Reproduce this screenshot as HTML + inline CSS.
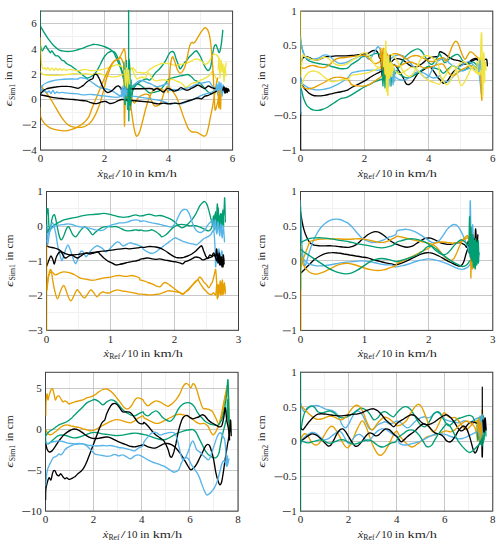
<!DOCTYPE html><html><head><meta charset="utf-8"><style>html,body{margin:0;padding:0;background:#fff;}svg{display:block;}text{font-family:"Liberation Serif",serif;fill:#262626;} </style></head><body>
<svg width="502" height="550" viewBox="0 0 502 550">
<rect width="502" height="550" fill="#fff"/>
<line x1="72.50" y1="11.05" x2="72.50" y2="150.0" stroke="#f1f1f1" stroke-width="1"/>
<line x1="136.50" y1="11.05" x2="136.50" y2="150.0" stroke="#f1f1f1" stroke-width="1"/>
<line x1="200.50" y1="11.05" x2="200.50" y2="150.0" stroke="#f1f1f1" stroke-width="1"/>
<line x1="40.5" y1="137.50" x2="232.6" y2="137.50" stroke="#f1f1f1" stroke-width="1"/>
<line x1="40.5" y1="112.50" x2="232.6" y2="112.50" stroke="#f1f1f1" stroke-width="1"/>
<line x1="40.5" y1="86.50" x2="232.6" y2="86.50" stroke="#f1f1f1" stroke-width="1"/>
<line x1="40.5" y1="61.50" x2="232.6" y2="61.50" stroke="#f1f1f1" stroke-width="1"/>
<line x1="40.5" y1="36.50" x2="232.6" y2="36.50" stroke="#f1f1f1" stroke-width="1"/>
<line x1="40.50" y1="11.05" x2="40.50" y2="150.0" stroke="#c8c8c8" stroke-width="1"/>
<line x1="104.50" y1="11.05" x2="104.50" y2="150.0" stroke="#c8c8c8" stroke-width="1"/>
<line x1="168.50" y1="11.05" x2="168.50" y2="150.0" stroke="#c8c8c8" stroke-width="1"/>
<line x1="232.50" y1="11.05" x2="232.50" y2="150.0" stroke="#c8c8c8" stroke-width="1"/>
<line x1="40.5" y1="150.50" x2="232.6" y2="150.50" stroke="#c8c8c8" stroke-width="1"/>
<line x1="40.5" y1="124.50" x2="232.6" y2="124.50" stroke="#c8c8c8" stroke-width="1"/>
<line x1="40.5" y1="99.50" x2="232.6" y2="99.50" stroke="#c8c8c8" stroke-width="1"/>
<line x1="40.5" y1="74.50" x2="232.6" y2="74.50" stroke="#c8c8c8" stroke-width="1"/>
<line x1="40.5" y1="48.50" x2="232.6" y2="48.50" stroke="#c8c8c8" stroke-width="1"/>
<line x1="40.5" y1="23.50" x2="232.6" y2="23.50" stroke="#c8c8c8" stroke-width="1"/>
<rect x="40.5" y="11.05" width="192.10" height="138.95" fill="none" stroke="#404040" stroke-width="1.0"/>
<clipPath id="c1"><rect x="40.5" y="10.05" width="193.1" height="140.95"/></clipPath>
<g clip-path="url(#c1)" fill="none" stroke-linejoin="round" stroke-linecap="round">
<path d="M40.4,8.0 C40.4,10.8 40.1,21.4 40.4,24.9 C40.7,28.4 41.2,27.4 42.0,28.9 C42.7,30.4 43.8,32.1 45.0,33.9 C46.1,35.7 47.5,37.9 49.0,39.9 C50.5,41.9 52.3,44.2 53.9,45.8 C55.6,47.5 57.3,48.9 58.9,49.8 C60.6,50.7 62.1,51.0 63.9,51.2 C65.7,51.5 67.9,51.6 69.9,51.4 C71.9,51.3 74.0,50.9 75.8,50.4 C77.7,50.0 79.2,49.4 80.8,48.8 C82.5,48.2 84.1,47.5 85.8,46.8 C87.5,46.2 89.3,45.5 90.8,45.1 C92.3,44.6 93.2,44.2 94.8,44.3 C96.4,44.3 98.6,44.9 100.4,45.4 C102.2,45.8 104.0,46.4 105.5,47.0 C107.0,47.6 108.2,48.3 109.3,48.9 C110.4,49.6 111.1,50.2 111.8,50.8 C112.6,51.5 113.1,51.8 113.8,52.7 C114.4,53.7 115.0,55.2 115.7,56.6 C116.3,57.9 116.9,59.5 117.6,61.0 C118.2,62.5 118.9,63.9 119.5,65.5 C120.1,67.1 120.8,68.5 121.4,70.6 C122.0,72.7 122.7,75.7 123.3,78.2 C123.9,80.8 124.7,83.3 125.2,85.9 C125.8,88.4 126.1,91.0 126.5,93.5 C126.9,96.1 127.2,99.9 127.4,101.1" stroke="#009E73" stroke-width="1.35"/>
<path d="M40.6,45.8 C40.8,46.7 41.5,50.3 42.0,50.8 C42.5,51.3 43.0,49.7 43.6,48.8 C44.2,48.0 45.0,46.0 45.6,45.8 C46.1,45.7 46.4,47.0 47.0,47.8 C47.5,48.7 48.4,50.0 49.0,50.8 C49.5,51.7 49.9,52.8 50.4,52.8 C50.8,52.8 51.3,50.7 51.9,50.8 C52.5,51.0 53.3,53.0 53.9,53.8 C54.6,54.6 55.3,55.5 55.9,55.8 C56.6,56.1 57.3,55.5 57.9,55.8 C58.6,56.1 59.2,57.1 59.9,57.8 C60.6,58.5 61.2,59.7 61.9,60.2 C62.6,60.7 63.1,60.2 63.9,60.8 C64.7,61.4 65.7,62.9 66.9,63.8 C68.0,64.6 69.5,64.9 70.9,65.8 C72.2,66.6 73.5,67.8 74.9,68.8 C76.2,69.8 77.5,70.6 78.8,71.7 C80.2,72.8 81.5,74.3 82.8,75.3 C84.1,76.4 86.0,77.6 86.8,78.1 C87.6,78.6 86.9,78.5 87.6,78.2 C88.4,77.9 90.2,77.2 91.5,76.3 C92.7,75.5 94.2,74.3 95.3,73.1 C96.3,72.0 97.0,70.8 97.8,69.3 C98.7,67.8 99.5,65.9 100.4,64.2 C101.2,62.5 102.1,60.6 102.9,59.1 C103.8,57.6 104.6,56.3 105.5,55.3 C106.3,54.2 107.2,53.4 108.0,52.7 C108.9,52.1 109.8,51.7 110.6,51.5 C111.3,51.2 111.8,51.1 112.5,51.2 C113.1,51.3 113.8,51.5 114.4,52.1 C115.0,52.7 115.7,53.5 116.3,54.6 C116.9,55.8 117.6,57.5 118.2,59.1 C118.9,60.7 119.5,62.3 120.1,64.2 C120.8,66.1 121.4,68.2 122.0,70.6 C122.7,72.9 123.4,75.7 123.9,78.2 C124.5,80.8 124.9,83.3 125.2,85.9 C125.6,88.4 125.9,91.2 126.1,93.5 C126.3,95.8 126.5,98.8 126.6,99.9" stroke="#009E73" stroke-width="1.35"/>
<path d="M130.0,110.0 C130.2,108.0 131.0,101.3 131.5,98.0 C132.0,94.7 132.2,92.2 133.0,90.0 C133.8,87.8 135.0,86.2 136.0,85.0 C137.0,83.8 137.7,83.4 139.0,82.5 C140.3,81.6 142.7,80.1 144.0,79.5 C145.3,78.9 146.0,78.9 147.0,79.0 C148.0,79.1 148.6,81.0 150.0,80.0 C151.4,79.0 153.4,75.1 155.1,73.1 C156.9,71.1 158.6,70.0 160.3,68.0 C162.0,66.0 164.0,63.4 165.4,61.1 C166.8,58.8 167.8,55.8 168.8,54.3 C169.8,52.7 170.6,52.0 171.4,51.7 C172.3,51.4 173.3,51.6 174.0,52.6 C174.7,53.6 175.0,55.7 175.7,57.7 C176.4,59.7 177.6,62.7 178.3,64.5 C179.0,66.4 179.4,68.4 180.0,68.8 C180.6,69.3 181.0,68.1 181.7,67.1 C182.4,66.1 183.4,64.0 184.3,62.8 C185.1,61.7 186.0,61.3 186.8,60.3 C187.7,59.3 188.4,58.0 189.4,56.8 C190.4,55.7 191.7,54.4 192.8,53.4 C193.9,52.4 195.1,51.0 195.9,50.8 C196.8,50.7 197.2,51.6 198.0,52.6 C198.7,53.6 199.7,55.1 200.5,56.8 C201.4,58.5 202.3,61.0 203.1,62.8 C204.0,64.7 204.8,66.7 205.7,68.0 C206.5,69.3 207.4,70.8 208.2,70.5 C209.1,70.3 210.1,69.0 210.8,66.3 C211.5,63.5 212.0,57.5 212.5,54.3 C213.1,51.0 213.7,48.1 214.2,46.6 C214.8,45.0 215.4,44.4 216.0,44.8 C216.5,45.3 217.1,47.8 217.7,49.1 C218.2,50.4 218.8,53.1 219.4,52.6 C220.0,52.0 220.6,48.6 221.1,45.7 C221.6,42.8 222.0,38.0 222.3,35.4 C222.6,32.8 222.7,31.1 222.8,30.3" stroke="#009E73" stroke-width="1.35"/>
<path d="M131.0,103.0 C131.3,100.3 132.3,90.0 133.0,87.0 C133.7,84.0 134.2,85.5 135.0,85.0 C135.8,84.5 137.0,83.9 138.0,84.0 C139.0,84.1 140.0,84.8 141.0,85.5 C142.0,86.2 143.0,87.1 144.0,88.0 C145.0,88.9 146.0,90.2 147.0,91.0 C148.0,91.8 148.6,92.8 150.0,93.0 C151.4,93.2 153.4,92.4 155.1,92.0 C156.9,91.5 158.6,91.7 160.3,90.2 C162.0,88.8 164.0,85.2 165.4,83.4 C166.8,81.5 167.4,80.1 168.8,79.1 C170.3,78.1 172.3,77.9 174.0,77.4 C175.7,76.9 177.4,76.6 179.1,76.2 C180.8,75.8 182.8,75.5 184.3,75.2 C185.7,74.9 186.5,74.3 187.7,74.5 C188.8,74.7 190.0,75.6 191.1,76.5 C192.3,77.4 193.4,79.1 194.5,80.0 C195.7,80.8 196.8,81.0 198.0,81.7 C199.1,82.4 200.3,83.1 201.4,84.2 C202.5,85.4 203.7,87.2 204.8,88.5 C206.0,89.8 207.1,91.1 208.2,92.0 C209.4,92.8 210.5,93.7 211.7,93.7 C212.8,93.7 214.0,92.5 215.1,92.0 C216.2,91.4 218.0,90.5 218.5,90.2" stroke="#009E73" stroke-width="1.35"/>
<path d="M40.4,37.9 C40.5,40.5 40.6,49.5 40.8,53.8 C41.0,58.1 41.3,61.5 41.6,63.8 C41.9,66.1 42.1,66.9 42.4,67.8 C42.7,68.6 43.1,68.8 43.6,68.8 C44.0,68.8 44.5,67.6 45.0,67.8 C45.4,67.9 45.9,69.8 46.4,69.8 C46.9,69.7 47.4,67.3 48.0,67.4 C48.6,67.4 49.3,70.1 50.0,70.2 C50.6,70.2 51.3,67.8 51.9,67.8 C52.6,67.8 53.3,70.1 53.9,70.2 C54.6,70.2 55.3,68.2 55.9,68.2 C56.6,68.2 57.3,70.1 57.9,70.2 C58.6,70.2 59.2,68.4 59.9,68.4 C60.6,68.4 61.2,70.1 61.9,70.2 C62.6,70.2 63.2,68.8 63.9,68.8 C64.6,68.8 64.9,70.1 65.9,70.2 C66.9,70.3 68.5,69.4 69.9,69.4 C71.2,69.4 72.4,69.9 73.9,70.2 C75.4,70.4 77.0,70.9 78.8,70.7 C80.7,70.6 83.2,69.3 85.1,69.3 C87.0,69.3 88.5,70.4 90.2,70.6 C91.9,70.8 93.6,70.7 95.3,70.6 C97.0,70.5 98.7,70.3 100.4,69.9 C102.1,69.6 103.8,69.2 105.5,68.7 C107.2,68.1 109.1,67.3 110.6,66.8 C112.1,66.2 113.1,65.8 114.4,65.5 C115.7,65.2 116.9,64.6 118.2,64.8 C119.5,65.1 121.0,66.2 122.0,66.8 C123.1,67.3 123.7,67.6 124.6,68.0 C125.4,68.5 126.1,69.1 127.1,69.3 C128.2,69.5 130.0,69.2 131.0,69.0 C132.0,68.8 132.3,67.8 133.0,68.0 C133.7,68.2 134.3,69.2 135.0,70.0 C135.7,70.8 136.2,72.1 137.0,72.5 C137.8,72.9 138.8,72.4 140.0,72.5 C141.2,72.6 142.8,73.1 144.0,73.0 C145.2,72.9 146.2,72.5 147.0,72.0 C147.8,71.5 148.2,70.7 149.0,70.0 C149.8,69.3 151.0,68.6 152.0,68.0 C153.0,67.4 154.0,66.7 155.0,66.2 C156.0,65.7 156.8,65.5 158.0,65.0 C159.2,64.5 160.2,63.7 162.0,63.5 C163.8,63.3 167.4,63.4 168.8,63.5 C170.3,63.6 169.4,63.9 170.6,64.2 C171.7,64.5 174.1,65.3 175.7,65.4 C177.3,65.5 178.6,64.8 180.0,64.5 C181.4,64.3 183.0,64.0 184.3,63.7 C185.5,63.4 186.5,63.3 187.7,62.8 C188.8,62.4 190.0,61.7 191.1,61.1 C192.3,60.5 193.4,59.7 194.5,59.4 C195.7,59.1 196.8,58.8 198.0,59.1 C199.1,59.3 200.3,60.3 201.4,61.1 C202.5,62.0 203.7,63.9 204.8,64.2 C206.0,64.5 207.2,63.8 208.2,62.8 C209.2,61.9 210.1,59.8 210.8,58.5 C211.5,57.3 211.8,55.8 212.5,55.1 C213.2,54.4 214.2,54.1 215.1,54.3 C216.0,54.4 216.8,54.8 217.7,56.0 C218.5,57.1 219.5,59.4 220.2,61.1 C221.0,62.8 221.4,64.5 222.0,66.3 C222.5,68.0 223.1,71.1 223.7,71.4 C224.2,71.7 225.0,69.4 225.4,68.0 C225.8,66.5 226.1,63.7 226.2,62.8" stroke="#F0E442" stroke-width="1.35"/>
<path d="M40.4,71.7 C41.0,72.2 42.4,74.1 44.0,74.7 C45.6,75.3 47.6,75.2 50.0,75.3 C52.3,75.4 55.3,75.4 57.9,75.3 C60.6,75.2 63.2,75.0 65.9,74.7 C68.5,74.5 71.4,73.8 73.9,73.7 C76.3,73.6 78.7,74.1 80.8,74.1 C82.9,74.1 84.4,73.7 86.4,73.8 C88.4,73.8 90.6,74.5 92.7,74.4 C94.9,74.3 97.0,73.2 99.1,73.4 C101.2,73.6 103.4,75.1 105.5,75.7 C107.6,76.3 109.7,76.8 111.8,76.9 C114.0,77.0 116.3,76.7 118.2,76.3 C120.1,75.9 122.0,74.6 123.3,74.4 C124.6,74.2 124.5,76.1 125.9,75.0 C127.2,74.0 130.3,68.7 131.5,68.0 C132.7,67.3 132.4,69.7 133.0,71.0 C133.6,72.3 134.3,74.7 135.0,76.0 C135.7,77.3 136.3,78.7 137.0,79.0 C137.7,79.3 138.2,78.3 139.0,78.0 C139.8,77.7 141.0,77.0 142.0,77.0 C143.0,77.0 144.0,78.7 145.0,78.0 C146.0,77.3 147.2,73.5 148.0,73.0 C148.8,72.5 149.3,74.2 150.0,75.0 C150.7,75.8 151.3,77.2 152.0,78.0 C152.7,78.8 153.3,79.5 154.0,80.0 C154.7,80.5 155.0,81.0 156.0,81.0 C157.0,81.0 158.7,80.1 160.3,80.0 C161.8,79.8 164.0,79.8 165.4,80.0 C166.8,80.1 167.7,81.0 168.8,80.8 C170.0,80.7 171.1,79.1 172.3,79.1 C173.4,79.1 174.4,80.2 175.7,80.8 C177.0,81.4 178.7,81.8 180.0,82.5 C181.3,83.2 182.4,84.2 183.4,85.1 C184.4,86.0 185.0,87.7 186.0,87.7 C187.0,87.7 188.3,85.9 189.4,85.1 C190.5,84.3 191.7,83.5 192.8,83.0 C194.0,82.6 195.1,82.9 196.3,82.5 C197.4,82.2 198.5,81.4 199.7,80.8 C200.8,80.2 202.0,79.7 203.1,79.1 C204.3,78.5 205.4,78.1 206.5,77.4 C207.7,76.7 209.0,75.8 210.0,74.8 C211.0,73.8 211.7,71.1 212.5,71.4 C213.4,71.7 214.2,74.8 215.1,76.5 C216.0,78.2 217.2,80.8 217.7,81.7" stroke="#F0E442" stroke-width="1.35"/>
<path d="M40.4,107.9 C40.4,109.2 39.8,113.4 40.4,115.8 C41.0,118.3 42.4,120.8 44.0,122.8 C45.6,124.8 47.6,126.6 50.0,127.8 C52.3,129.0 55.3,129.7 57.9,130.2 C60.6,130.7 63.6,130.9 65.9,130.8 C68.2,130.7 69.9,130.1 71.9,129.4 C73.9,128.7 75.8,127.9 77.8,126.8 C79.8,125.7 82.0,124.5 83.8,122.8 C85.6,121.2 87.5,119.0 88.8,116.8 C90.1,114.7 90.3,112.7 91.4,109.9 C92.5,107.1 94.0,103.2 95.4,99.9 C96.7,96.6 98.3,92.9 99.6,90.0 C100.8,87.0 101.7,84.8 102.9,82.0 C104.1,79.2 105.5,75.9 106.8,73.1 C108.0,70.4 109.3,67.5 110.6,65.5 C111.8,63.5 113.1,62.1 114.4,61.0 C115.7,60.0 117.2,60.1 118.2,59.1 C119.3,58.2 119.9,56.8 120.8,55.3 C121.6,53.8 122.7,51.3 123.3,50.2 C123.9,49.1 124.0,48.5 124.3,48.9 C124.6,49.3 124.9,50.0 125.2,52.7 C125.5,55.5 125.8,60.2 126.1,65.5 C126.4,70.8 126.7,79.3 126.9,84.6 C127.1,89.9 127.3,95.2 127.4,97.3" stroke="#E69F00" stroke-width="1.35"/>
<path d="M41.0,86.0 C41.5,86.6 42.5,88.0 44.0,90.0 C45.5,91.9 48.0,94.9 50.0,97.9 C51.9,100.9 53.9,104.6 55.9,107.9 C57.9,111.2 59.9,115.0 61.9,117.8 C63.9,120.7 66.1,123.3 67.9,124.8 C69.7,126.3 71.2,126.4 72.9,126.8 C74.5,127.2 76.0,127.4 77.8,127.4 C79.7,127.4 82.2,127.2 83.8,126.8 C85.5,126.4 86.5,125.8 87.8,124.8 C89.1,123.8 90.5,122.7 91.8,120.8 C93.1,119.0 94.4,116.7 95.8,113.9 C97.1,111.0 98.6,107.2 99.8,103.9 C100.9,100.6 101.9,96.9 102.7,93.9 C103.6,90.9 104.1,88.6 104.7,86.0 C105.4,83.3 105.8,81.1 106.7,78.0 C107.7,74.9 109.6,69.8 110.6,67.4 C111.5,65.0 111.7,64.7 112.5,63.6 C113.2,62.4 114.1,61.1 115.0,60.4 C116.0,59.6 117.3,59.5 118.2,59.1 C119.2,58.7 120.0,57.4 120.8,57.8 C121.5,58.3 122.1,60.0 122.7,61.7 C123.2,63.4 123.7,61.8 123.9,68.0 C124.2,74.2 124.0,89.3 124.1,98.9 C124.2,108.6 124.3,125.0 124.5,126.1 C124.6,127.3 124.8,111.4 125.0,105.9 C125.3,100.5 126.0,95.5 126.2,93.4" stroke="#E69F00" stroke-width="1.35"/>
<path d="M128.9,93.4 C129.2,94.5 129.9,97.1 130.3,100.3 C130.8,103.6 131.2,108.5 131.7,112.9 C132.3,117.3 133.1,123.1 133.8,126.8 C134.5,130.6 135.3,133.7 135.9,135.2 C136.5,136.7 136.7,136.4 137.3,135.9 C137.9,135.4 138.7,134.2 139.4,132.4 C140.1,130.7 140.8,128.0 141.5,125.4 C142.2,122.9 142.9,119.9 143.6,117.1 C144.3,114.3 145.0,111.3 145.7,108.7 C146.4,106.2 147.2,103.6 147.8,101.7 C148.4,99.9 148.7,98.7 149.2,97.6 C149.6,96.4 150.1,95.7 150.6,94.8 C151.0,93.8 151.4,92.9 152.0,92.0 C152.5,91.0 153.2,89.9 154.1,89.2 C154.9,88.5 155.9,87.9 156.8,87.8 C157.8,87.7 158.7,88.1 159.6,88.5 C160.6,88.8 161.6,89.5 162.4,89.9 C163.2,90.2 163.8,90.7 164.5,90.6 C165.2,90.5 165.9,89.0 166.6,89.2 C167.3,89.4 168.0,94.3 168.5,92.0 C169.0,89.6 169.4,79.4 169.7,74.8 C170.0,70.3 170.1,67.5 170.6,64.5 C171.0,61.5 171.7,57.7 172.3,56.8 C172.8,56.0 173.4,58.1 174.0,59.4 C174.6,60.7 175.1,62.8 175.7,64.5 C176.3,66.3 176.7,68.3 177.4,69.7 C178.1,71.1 179.1,72.8 180.0,73.1 C180.8,73.4 181.7,72.5 182.6,71.4 C183.4,70.3 184.4,68.3 185.1,66.3 C185.8,64.3 186.3,62.0 186.8,59.4 C187.4,56.8 188.0,53.4 188.5,50.8 C189.1,48.3 189.7,45.4 190.3,44.0 C190.8,42.6 191.4,42.4 192.0,42.3 C192.5,42.1 193.1,43.3 193.7,43.1 C194.3,43.0 194.7,42.4 195.4,41.4 C196.1,40.4 197.1,38.6 198.0,37.1 C198.8,35.7 199.7,34.1 200.5,32.8 C201.4,31.6 202.3,30.3 203.1,29.4 C203.9,28.6 204.5,27.7 205.2,27.7 C205.9,27.7 206.7,28.4 207.4,29.4 C208.0,30.4 208.5,31.3 209.1,33.7 C209.7,36.1 210.3,40.0 210.8,44.0 C211.3,48.0 211.6,53.1 212.0,57.7 C212.4,62.3 212.8,66.8 213.0,71.4 C213.3,76.0 213.5,80.5 213.7,85.1 C214.0,89.7 214.2,94.7 214.4,98.8 C214.6,102.9 214.7,108.8 215.1,109.9 C215.5,111.1 216.1,107.9 216.7,105.9 C217.3,103.9 218.1,100.6 218.7,97.9 C219.3,95.3 219.9,91.9 220.3,90.0 C220.7,88.0 220.9,86.6 221.1,86.0" stroke="#E69F00" stroke-width="1.35"/>
<path d="M129.6,92.0 C130.1,93.4 131.6,98.5 132.4,100.3 C133.2,102.2 133.7,103.4 134.5,103.1 C135.3,102.9 136.4,100.1 137.3,98.9 C138.2,97.8 139.2,96.9 140.1,96.2 C141.0,95.5 142.0,95.1 142.9,94.8 C143.8,94.4 144.8,94.1 145.7,94.1 C146.6,94.1 147.7,94.1 148.5,94.8 C149.3,95.5 149.9,96.9 150.6,98.2 C151.3,99.6 152.0,101.9 152.7,103.1 C153.4,104.4 154.1,105.5 154.7,105.9 C155.4,106.4 156.0,106.2 156.8,105.9 C157.7,105.7 158.8,105.5 159.6,104.5 C160.4,103.6 161.0,102.2 161.7,100.3 C162.4,98.5 163.1,95.3 163.8,93.4 C164.5,91.4 165.2,89.6 165.9,88.5 C166.6,87.3 167.2,86.3 168.0,86.4 C168.8,86.5 169.9,87.9 170.9,89.0 C171.8,90.0 172.8,91.4 173.8,92.9 C174.8,94.4 175.8,95.8 176.8,97.9 C177.8,100.1 178.8,103.1 179.8,105.9 C180.8,108.7 181.8,112.0 182.8,114.9 C183.8,117.7 184.8,120.4 185.8,122.8 C186.8,125.2 187.8,127.9 188.8,129.4 C189.8,130.9 190.6,131.3 191.8,131.8 C192.9,132.2 194.4,131.9 195.8,132.2 C197.1,132.5 198.4,133.1 199.7,133.8 C201.1,134.4 202.6,136.0 203.7,136.2 C204.8,136.3 205.6,136.2 206.3,134.8 C207.1,133.4 207.6,130.6 208.3,127.8 C209.0,125.0 209.6,121.5 210.3,117.8 C211.0,114.2 212.0,109.9 212.7,105.9 C213.4,101.9 214.0,97.9 214.7,93.9 C215.3,90.0 216.2,84.6 216.7,82.0 C217.2,79.3 217.5,78.7 217.7,78.0" stroke="#E69F00" stroke-width="1.35"/>
<path d="M40.4,90.0 C40.7,89.3 41.1,87.1 42.0,86.0 C42.9,84.8 44.3,83.8 46.0,83.0 C47.6,82.2 49.6,81.6 51.9,81.0 C54.3,80.4 57.3,79.9 59.9,79.6 C62.6,79.3 64.9,79.1 67.9,79.0 C70.9,78.9 75.8,79.2 77.8,79.0 C79.9,78.8 79.0,77.7 80.0,77.6 C81.0,77.4 82.5,77.9 83.8,78.2 C85.1,78.5 86.4,78.9 87.6,79.5 C88.9,80.1 90.2,81.2 91.5,82.0 C92.7,82.9 94.0,83.7 95.3,84.6 C96.6,85.4 97.8,86.5 99.1,87.1 C100.4,87.8 101.7,88.1 102.9,88.4 C104.2,88.7 105.5,88.7 106.8,89.0 C108.0,89.4 109.3,89.8 110.6,90.3 C111.8,90.8 113.1,91.5 114.4,92.2 C115.7,93.0 116.9,94.1 118.2,94.8 C119.5,95.4 120.2,96.8 122.0,96.1 C123.8,95.3 127.3,91.7 129.0,90.0 C130.7,88.3 131.0,87.0 132.0,86.0 C133.0,85.0 134.0,84.8 135.0,84.0 C136.0,83.2 137.0,82.1 138.0,81.5 C139.0,80.9 140.0,80.6 141.0,80.5 C142.0,80.4 143.0,80.7 144.0,81.0 C145.0,81.3 146.0,82.1 147.0,82.5 C148.0,82.9 149.0,83.1 150.0,83.5 C151.0,83.9 152.0,84.5 153.0,85.0 C154.0,85.5 155.0,86.2 156.0,86.5 C157.0,86.8 158.0,86.7 159.0,86.5 C160.0,86.3 161.0,85.8 162.0,85.5 C163.0,85.2 164.0,84.8 165.0,84.5 C166.0,84.2 167.4,82.5 168.0,83.5 C168.6,84.5 167.8,89.3 168.8,90.2 C169.8,91.2 172.3,89.4 174.0,89.4 C175.7,89.4 177.4,90.4 179.1,90.2 C180.8,90.1 182.6,89.0 184.3,88.5 C186.0,88.1 187.7,88.2 189.4,87.7 C191.1,87.1 192.8,85.8 194.5,85.1 C196.3,84.4 198.0,83.8 199.7,83.4 C201.4,83.0 203.3,82.8 204.8,82.5 C206.4,82.2 208.0,81.2 209.1,81.7 C210.2,82.1 210.8,84.0 211.7,85.1 C212.5,86.2 213.4,88.1 214.2,88.5 C215.1,89.0 215.8,88.0 216.8,87.7 C217.8,87.4 219.1,86.7 220.2,86.8 C221.4,87.0 223.1,88.2 223.7,88.5" stroke="#56B4E9" stroke-width="1.35"/>
<path d="M40.4,91.9 C40.7,91.4 41.5,89.0 42.0,89.0 C42.5,89.0 43.1,91.8 43.6,91.9 C44.1,92.1 44.4,89.8 45.0,90.0 C45.5,90.1 46.3,92.8 47.0,92.9 C47.6,93.1 48.3,90.8 49.0,90.9 C49.6,91.0 50.3,93.6 50.9,93.5 C51.6,93.4 52.3,90.4 52.9,90.4 C53.6,90.4 54.3,93.3 54.9,93.5 C55.6,93.8 56.3,92.0 56.9,91.9 C57.6,91.8 58.1,92.9 58.9,92.9 C59.7,93.0 60.7,92.3 61.9,92.3 C63.1,92.3 64.2,92.7 65.9,92.9 C67.5,93.1 69.9,93.4 71.9,93.5 C73.9,93.7 75.8,93.7 77.8,93.9 C79.8,94.2 81.8,94.9 83.8,94.9 C85.8,95.0 87.8,94.3 89.8,94.3 C91.8,94.3 94.1,94.7 95.8,94.9 C97.4,95.1 98.4,95.4 99.8,95.5 C101.1,95.7 102.4,95.8 103.7,95.9 C105.1,96.1 106.4,96.2 107.7,96.3 C109.0,96.5 110.4,96.8 111.7,96.9 C113.0,97.1 114.4,97.3 115.7,97.3 C117.0,97.3 118.5,97.3 119.7,96.9 C120.8,96.5 117.6,94.6 122.7,94.9 C127.7,95.2 144.6,98.0 150.0,98.8 C155.4,99.6 153.4,99.4 155.1,99.7 C156.9,99.9 158.6,100.1 160.3,100.5 C162.0,100.9 163.7,101.7 165.4,102.2 C167.1,102.8 168.8,103.8 170.6,103.9 C172.3,104.1 174.0,103.1 175.7,103.1 C177.4,103.1 179.1,104.1 180.8,103.9 C182.6,103.8 184.3,102.8 186.0,102.2 C187.7,101.7 189.4,101.2 191.1,100.5 C192.8,99.8 194.5,98.8 196.3,98.0 C198.0,97.1 199.7,96.1 201.4,95.4 C203.1,94.7 204.8,94.2 206.5,93.7 C208.2,93.1 210.0,92.7 211.7,92.0 C213.4,91.2 215.4,90.0 216.8,89.4 C218.2,88.8 219.2,88.8 220.2,88.5 C221.2,88.2 222.4,87.8 222.8,87.7" stroke="#56B4E9" stroke-width="1.35"/>
<path d="M40.4,93.9 C40.8,93.4 42.1,91.8 43.0,90.9 C43.9,90.1 44.8,89.5 46.0,89.0 C47.1,88.5 48.3,88.3 50.0,88.0 C51.6,87.6 53.9,87.2 55.9,87.0 C57.9,86.7 59.9,86.5 61.9,86.4 C63.9,86.3 65.9,86.2 67.9,86.4 C69.9,86.5 72.2,87.0 73.9,87.4 C75.5,87.7 76.7,88.4 77.8,88.4 C79.0,88.3 79.8,87.5 80.8,87.0 C81.8,86.4 82.8,85.8 83.8,85.0 C84.8,84.1 85.8,82.8 86.8,82.0 C87.8,81.2 88.8,80.6 89.8,80.0 C90.8,79.4 92.1,79.4 92.8,78.6 C93.5,77.8 93.4,75.7 94.0,75.0 C94.6,74.3 95.7,73.9 96.6,74.4 C97.4,74.9 98.3,76.5 99.1,78.2 C100.0,79.9 100.8,82.7 101.7,84.6 C102.5,86.5 103.4,88.4 104.2,89.7 C105.1,91.0 105.9,91.8 106.8,92.2 C107.6,92.7 108.2,92.7 109.3,92.2 C110.4,91.8 112.1,90.5 113.1,89.7 C114.2,88.8 114.8,87.8 115.7,87.1 C116.5,86.5 117.4,85.8 118.2,85.9 C119.1,86.0 119.9,87.2 120.8,87.8 C121.6,88.3 118.4,88.9 123.3,89.0 C128.2,89.2 145.0,88.3 150.0,88.5 C155.0,88.7 152.3,90.2 153.4,90.2 C154.6,90.2 155.7,88.5 156.9,88.5 C158.0,88.5 159.1,89.7 160.3,90.2 C161.4,90.8 162.6,92.2 163.7,92.0 C164.8,91.7 166.0,89.0 167.1,88.5 C168.3,88.1 169.4,89.0 170.6,89.4 C171.7,89.8 172.8,91.0 174.0,91.1 C175.1,91.2 176.3,90.8 177.4,90.2 C178.6,89.7 179.7,87.8 180.8,87.7 C182.0,87.5 183.1,89.0 184.3,89.4 C185.4,89.8 186.5,90.4 187.7,90.2 C188.8,90.1 190.0,89.1 191.1,88.5 C192.3,88.0 193.4,87.4 194.5,86.8 C195.7,86.2 196.8,85.1 198.0,85.1 C199.1,85.1 200.3,86.2 201.4,86.8 C202.5,87.4 203.7,88.7 204.8,88.5 C206.0,88.4 207.1,86.1 208.2,86.0 C209.4,85.8 210.5,87.2 211.7,87.7 C212.8,88.1 214.0,88.5 215.1,88.5 C216.2,88.5 217.4,87.7 218.5,87.7 C219.7,87.7 220.8,88.2 222.0,88.5 C223.1,88.8 224.4,89.1 225.4,89.4 C226.4,89.7 227.5,90.1 228.0,90.2" stroke="#000000" stroke-width="1.35"/>
<path d="M40.4,94.9 C41.0,95.0 42.4,95.2 44.0,95.5 C45.6,95.9 48.0,96.5 50.0,96.9 C51.9,97.3 53.9,97.7 55.9,97.9 C57.9,98.2 59.9,98.3 61.9,98.5 C63.9,98.7 65.9,98.9 67.9,99.1 C69.9,99.3 71.9,99.3 73.9,99.5 C75.8,99.7 77.8,100.1 79.8,100.3 C81.8,100.5 84.1,100.6 85.8,100.9 C87.5,101.2 88.5,101.9 89.8,102.3 C91.1,102.7 92.4,103.3 93.8,103.5 C95.1,103.7 96.4,103.6 97.8,103.3 C99.1,103.0 100.4,102.2 101.7,101.9 C103.1,101.6 104.4,101.2 105.7,101.5 C107.1,101.8 108.4,103.3 109.7,103.5 C111.0,103.7 112.4,103.3 113.7,102.9 C115.0,102.5 116.4,101.5 117.7,100.9 C119.0,100.3 120.3,99.7 121.7,99.5 C123.0,99.3 120.9,99.5 125.6,99.9 C130.4,100.4 145.4,101.7 150.0,102.2 C154.6,102.8 152.0,102.8 153.4,103.1 C154.9,103.4 156.9,103.9 158.6,103.9 C160.3,103.9 162.0,103.1 163.7,103.1 C165.4,103.1 167.1,103.9 168.8,103.9 C170.6,103.9 172.3,103.1 174.0,103.1 C175.7,103.0 177.4,103.7 179.1,103.6 C180.8,103.5 182.6,102.7 184.3,102.2 C186.0,101.7 187.7,101.1 189.4,100.5 C191.1,99.9 193.1,99.2 194.5,98.8 C196.0,98.4 196.8,98.0 198.0,98.0 C199.1,98.0 200.3,99.1 201.4,98.8 C202.5,98.5 203.7,96.8 204.8,96.2 C206.0,95.7 207.1,95.8 208.2,95.4 C209.4,95.0 210.5,94.2 211.7,93.7 C212.8,93.1 214.0,92.5 215.1,92.0 C216.2,91.4 217.4,90.7 218.5,90.2 C219.7,89.8 220.8,89.7 222.0,89.4 C223.1,89.1 224.4,88.5 225.4,88.5 C226.4,88.5 227.5,89.2 228.0,89.4" stroke="#000000" stroke-width="1.35"/>
<path d="M128.6,5.0 C128.6,24.2 128.7,110.8 128.8,120.0 C128.9,129.2 129.0,62.5 129.2,60.0 C129.4,57.5 129.9,97.5 130.0,105.0" stroke="#009E73" stroke-width="1.35"/>
<path d="M124.0,62.0 C124.2,69.2 124.6,105.3 125.0,105.0 C125.4,104.7 126.1,59.2 126.5,60.0 C126.9,60.8 127.0,109.7 127.5,110.0 C128.0,110.3 129.0,62.7 129.5,62.0 C130.0,61.3 130.2,103.0 130.5,106.0 C130.8,109.0 131.3,84.3 131.5,80.0" stroke="#009E73" stroke-width="1.0"/>
<path d="M124.5,70.0 C124.7,72.7 125.2,86.3 125.5,86.0 C125.8,85.7 126.2,67.7 126.5,68.0 C126.8,68.3 127.2,87.7 127.5,88.0 C127.8,88.3 128.2,70.7 128.5,70.0 C128.8,69.3 129.3,81.7 129.5,84.0" stroke="#F0E442" stroke-width="1.2"/>
<path d="M121.0,88.0 C121.2,89.5 121.7,97.3 122.0,97.0 C122.3,96.7 122.7,85.7 123.0,86.0 C123.3,86.3 123.7,98.8 124.0,99.0 C124.3,99.2 124.7,87.5 125.0,87.0 C125.3,86.5 125.7,95.8 126.0,96.0 C126.3,96.2 126.8,89.3 127.0,88.0" stroke="#56B4E9" stroke-width="1.2"/>
<path d="M216.0,90.0 C216.2,89.0 216.7,83.2 217.0,84.0 C217.3,84.8 217.7,95.3 218.0,95.0 C218.3,94.7 218.7,82.2 219.0,82.0 C219.3,81.8 219.7,93.8 220.0,94.0 C220.3,94.2 220.7,82.7 221.0,83.0 C221.3,83.3 221.7,95.7 222.0,96.0 C222.3,96.3 222.7,85.7 223.0,85.0 C223.3,84.3 223.8,90.8 224.0,92.0" stroke="#56B4E9" stroke-width="1.4"/>
<path d="M223.0,90.0 C223.2,89.5 223.7,86.5 224.0,87.0 C224.3,87.5 224.7,92.8 225.0,93.0 C225.3,93.2 225.7,88.1 226.0,88.0 C226.3,87.9 226.7,92.3 227.0,92.5 C227.3,92.7 227.7,89.2 228.0,89.0 C228.3,88.8 228.8,90.7 229.0,91.0" stroke="#000000" stroke-width="1.6"/>
<path d="M218.0,70.0 C218.2,68.0 218.7,56.7 219.0,58.0 C219.3,59.3 219.7,77.7 220.0,78.0 C220.3,78.3 220.7,61.0 221.0,60.0 C221.3,59.0 221.7,71.3 222.0,72.0 C222.3,72.7 222.7,62.3 223.0,64.0 C223.3,65.7 223.7,81.7 224.0,82.0 C224.3,82.3 224.7,67.0 225.0,66.0 C225.3,65.0 225.8,74.3 226.0,76.0" stroke="#F0E442" stroke-width="1.2"/>
<path d="M218.0,92.0 C218.2,94.7 218.7,108.3 219.0,108.0 C219.3,107.7 219.8,89.8 220.0,90.0 C220.2,90.2 220.3,108.2 220.5,109.0 C220.7,109.8 220.9,97.3 221.0,95.0" stroke="#E69F00" stroke-width="1.3"/>
</g>
<text class="t" x="40.50" y="162.20" font-size="11" text-anchor="middle">0</text>
<text class="t" x="104.53" y="162.20" font-size="11" text-anchor="middle">2</text>
<text class="t" x="168.57" y="162.20" font-size="11" text-anchor="middle">4</text>
<text class="t" x="232.60" y="162.20" font-size="11" text-anchor="middle">6</text>
<text class="t" x="36.80" y="153.70" font-size="11" text-anchor="end">4</text>
<line x1="22.80" y1="150.40" x2="30.80" y2="150.40" stroke="#262626" stroke-width="0.75"/>
<text class="t" x="36.80" y="128.44" font-size="11" text-anchor="end">2</text>
<line x1="22.80" y1="125.14" x2="30.80" y2="125.14" stroke="#262626" stroke-width="0.75"/>
<text class="t" x="36.80" y="103.17" font-size="11" text-anchor="end">0</text>
<text class="t" x="36.80" y="77.91" font-size="11" text-anchor="end">2</text>
<text class="t" x="36.80" y="52.65" font-size="11" text-anchor="end">4</text>
<text class="t" x="36.80" y="27.38" font-size="11" text-anchor="end">6</text>
<text x="97.55" y="176.60" font-size="10.5" font-style="italic" textLength="5.6" lengthAdjust="spacingAndGlyphs">&#7819;</text>
<text x="103.25" y="178.90" font-size="7.6" textLength="11.2" lengthAdjust="spacingAndGlyphs">Ref</text>
<text x="115.45" y="176.60" font-size="10.5" textLength="4.8" lengthAdjust="spacingAndGlyphs">/</text>
<text x="121.25" y="176.60" font-size="10.5" textLength="11.0" lengthAdjust="spacingAndGlyphs">10</text>
<text x="134.75" y="176.60" font-size="10.5" textLength="9.6" lengthAdjust="spacingAndGlyphs">in</text>
<text x="147.45" y="176.60" font-size="10.5" textLength="29.4" lengthAdjust="spacingAndGlyphs">km/h</text>
<g transform="translate(12.2,106.43) rotate(-90)"><text x="-0.2" y="0" font-size="10.5" font-style="italic" textLength="5.8" lengthAdjust="spacingAndGlyphs">&#1013;</text><text x="6.4" y="2.4" font-size="8.2" textLength="16.2" lengthAdjust="spacingAndGlyphs">Sim1</text><text x="26.4" y="0" font-size="10.5" textLength="8.6" lengthAdjust="spacingAndGlyphs">in</text><text x="38.3" y="0" font-size="10.5" textLength="14.0" lengthAdjust="spacingAndGlyphs">cm</text></g>
<line x1="332.50" y1="11.05" x2="332.50" y2="150.0" stroke="#f1f1f1" stroke-width="1"/>
<line x1="396.50" y1="11.05" x2="396.50" y2="150.0" stroke="#f1f1f1" stroke-width="1"/>
<line x1="460.50" y1="11.05" x2="460.50" y2="150.0" stroke="#f1f1f1" stroke-width="1"/>
<line x1="300.5" y1="132.50" x2="492.8" y2="132.50" stroke="#f1f1f1" stroke-width="1"/>
<line x1="300.5" y1="97.50" x2="492.8" y2="97.50" stroke="#f1f1f1" stroke-width="1"/>
<line x1="300.5" y1="63.50" x2="492.8" y2="63.50" stroke="#f1f1f1" stroke-width="1"/>
<line x1="300.5" y1="28.50" x2="492.8" y2="28.50" stroke="#f1f1f1" stroke-width="1"/>
<line x1="300.50" y1="11.05" x2="300.50" y2="150.0" stroke="#c8c8c8" stroke-width="1"/>
<line x1="364.50" y1="11.05" x2="364.50" y2="150.0" stroke="#c8c8c8" stroke-width="1"/>
<line x1="428.50" y1="11.05" x2="428.50" y2="150.0" stroke="#c8c8c8" stroke-width="1"/>
<line x1="492.50" y1="11.05" x2="492.50" y2="150.0" stroke="#c8c8c8" stroke-width="1"/>
<line x1="300.5" y1="150.50" x2="492.8" y2="150.50" stroke="#c8c8c8" stroke-width="1"/>
<line x1="300.5" y1="115.50" x2="492.8" y2="115.50" stroke="#c8c8c8" stroke-width="1"/>
<line x1="300.5" y1="80.50" x2="492.8" y2="80.50" stroke="#c8c8c8" stroke-width="1"/>
<line x1="300.5" y1="45.50" x2="492.8" y2="45.50" stroke="#c8c8c8" stroke-width="1"/>
<line x1="300.5" y1="11.50" x2="492.8" y2="11.50" stroke="#c8c8c8" stroke-width="1"/>
<rect x="300.5" y="11.05" width="192.30" height="138.95" fill="none" stroke="#404040" stroke-width="1.0"/>
<clipPath id="c2"><rect x="300.5" y="10.05" width="193.3" height="140.95"/></clipPath>
<g clip-path="url(#c2)" fill="none" stroke-linejoin="round" stroke-linecap="round">
<path d="M300.9,68.6 C301.0,67.3 301.2,62.5 301.6,60.6 C302.1,58.7 303.0,57.9 303.8,57.3 C304.7,56.6 305.8,56.6 306.7,56.7 C307.7,56.8 308.7,57.3 309.6,57.7 C310.6,58.1 311.6,58.8 312.5,59.2 C313.5,59.5 314.5,59.8 315.5,59.9 C316.4,60.0 317.4,59.9 318.4,59.6 C319.3,59.4 320.3,58.8 321.3,58.5 C322.2,58.1 323.2,57.6 324.2,57.3 C325.2,57.0 325.9,56.9 327.1,56.7 C328.3,56.5 330.0,56.4 331.5,56.3 C332.9,56.1 334.4,55.9 335.8,55.8 C337.3,55.8 338.7,55.8 340.2,55.8 C341.6,55.8 343.6,55.8 344.5,55.8 C345.5,55.8 344.6,55.9 345.8,55.8 C347.0,55.8 349.7,55.7 351.6,55.5 C353.6,55.4 355.5,55.1 357.5,54.8 C359.4,54.6 361.6,54.3 363.3,54.1 C365.0,53.8 366.4,53.7 367.6,53.4 C368.8,53.0 369.6,52.4 370.5,51.9 C371.5,51.4 372.5,50.6 373.5,50.5 C374.4,50.3 375.5,50.3 376.4,50.9 C377.2,51.5 377.9,52.8 378.5,54.1 C379.2,55.4 378.3,56.9 380.0,58.5 C381.7,60.0 386.3,63.3 388.7,63.5 C391.2,63.6 392.6,59.8 394.5,59.1 C396.5,58.4 398.7,58.7 400.4,59.1 C402.1,59.5 403.3,60.3 404.7,61.3 C406.2,62.2 407.6,63.9 409.1,64.9 C410.5,65.9 412.0,66.8 413.5,67.1 C414.9,67.3 416.4,67.0 417.8,66.4 C419.3,65.8 420.7,64.5 422.2,63.5 C423.6,62.4 425.3,60.8 426.5,59.8 C427.8,58.9 428.7,58.3 429.9,57.8 C431.1,57.3 432.4,57.2 433.8,56.9 C435.2,56.6 437.2,57.0 438.2,56.2 C439.2,55.4 439.0,52.5 439.8,51.9 C440.6,51.4 442.0,52.2 443.1,52.8 C444.2,53.3 445.3,54.4 446.4,55.2 C447.5,56.0 448.6,57.0 449.7,57.7 C450.7,58.4 451.8,58.9 452.9,59.3 C454.0,59.7 455.1,59.9 456.2,60.1 C457.3,60.4 458.4,60.5 459.5,60.9 C460.6,61.4 461.7,62.2 462.8,62.6 C463.8,63.0 464.9,63.5 466.0,63.4 C467.1,63.3 468.2,62.4 469.3,61.8 C470.4,61.1 471.5,59.9 472.6,59.3 C473.7,58.8 474.8,58.4 475.9,58.5 C476.9,58.6 478.0,59.7 479.1,60.1 C480.2,60.5 481.2,61.1 482.4,60.9 C483.6,60.8 485.7,58.5 486.5,59.3 C487.3,60.1 487.2,64.8 487.3,65.9" stroke="#000000" stroke-width="1.35"/>
<path d="M300.5,115.3 C300.5,109.4 300.4,85.7 300.5,80.3 C300.7,74.9 300.8,81.8 301.2,82.8 C301.6,83.9 302.3,85.5 303.1,86.6 C303.8,87.8 304.6,88.7 305.6,89.8 C306.7,91.0 308.2,92.7 309.5,93.6 C310.7,94.6 312.0,95.2 313.3,95.5 C314.5,95.9 315.8,95.9 317.1,95.9 C318.4,96.0 319.6,95.9 320.9,95.8 C322.2,95.7 323.5,95.5 324.7,95.3 C326.0,95.1 327.3,94.8 328.5,94.5 C329.8,94.3 331.1,93.9 332.4,93.6 C333.6,93.3 334.9,93.0 336.2,92.7 C337.5,92.5 338.7,92.3 340.0,92.0 C341.3,91.7 342.5,91.5 343.8,91.1 C345.2,90.7 346.7,90.4 348.0,89.8 C349.3,89.2 350.1,88.4 351.6,87.5 C353.2,86.7 355.5,85.6 357.5,84.6 C359.4,83.7 361.3,82.8 363.3,81.7 C365.2,80.6 367.2,79.3 369.1,78.1 C371.0,76.9 373.2,75.4 374.9,74.5 C376.6,73.5 378.1,72.9 379.3,72.3 C380.5,71.7 380.6,71.6 382.2,70.8 C383.8,70.1 386.7,68.8 388.7,67.8 C390.8,66.8 392.8,64.4 394.5,64.9 C396.2,65.4 397.5,68.5 398.9,70.7 C400.4,72.9 402.1,75.8 403.3,78.0 C404.5,80.2 405.2,82.7 406.2,83.8 C407.2,84.9 408.1,84.8 409.1,84.5 C410.1,84.3 411.0,83.5 412.0,82.4 C413.0,81.3 413.9,79.5 414.9,78.0 C415.9,76.5 416.6,74.8 417.8,73.6 C419.0,72.4 420.7,71.7 422.2,70.7 C423.6,69.8 425.3,68.5 426.5,67.8 C427.8,67.1 428.5,66.1 429.5,66.4 C430.4,66.6 431.4,68.1 432.4,69.3 C433.3,70.5 434.3,72.2 435.3,73.6 C436.2,75.1 437.4,77.0 438.2,78.0 C439.0,79.0 439.1,78.6 439.9,79.5 C440.7,80.3 442.0,82.6 443.1,83.1 C444.2,83.5 445.3,83.2 446.4,82.2 C447.5,81.3 448.6,79.0 449.7,77.3 C450.7,75.7 451.8,73.8 452.9,72.4 C454.0,71.0 455.1,70.2 456.2,69.1 C457.3,68.0 458.4,66.6 459.5,65.9 C460.6,65.1 461.7,64.9 462.8,64.5 C463.8,64.2 464.9,64.2 466.0,63.9 C467.1,63.6 468.2,63.4 469.3,62.9 C470.4,62.4 471.5,61.5 472.6,60.9 C473.7,60.3 474.8,59.3 475.9,59.3 C476.9,59.3 478.6,60.7 479.1,60.9" stroke="#000000" stroke-width="1.35"/>
<path d="M300.6,112.0 L300.6,150.0" stroke="#000000" stroke-width="1.3"/>
<path d="M300.6,76.0 L300.6,114.0" stroke="#56B4E9" stroke-width="1.3"/>
<path d="M300.5,39.5 C300.8,41.2 301.7,47.1 302.4,49.7 C303.0,52.4 303.8,54.0 304.5,55.5 C305.3,57.1 305.9,58.3 306.7,59.2 C307.6,60.1 308.4,60.5 309.6,61.1 C310.8,61.6 312.5,62.1 314.0,62.5 C315.5,62.9 316.9,63.3 318.4,63.5 C319.8,63.8 321.3,64.0 322.7,64.3 C324.2,64.5 325.6,64.6 327.1,65.0 C328.5,65.4 330.0,66.0 331.5,66.5 C332.9,66.9 334.4,67.1 335.8,67.5 C337.3,67.8 338.7,68.4 340.2,68.6 C341.6,68.8 343.2,68.8 344.5,68.6 C345.9,68.5 346.9,68.6 348.0,67.9 C349.2,67.2 350.1,65.5 351.6,64.3 C353.2,63.1 355.8,61.8 357.5,60.6 C359.2,59.4 360.6,57.7 361.8,57.0 C363.0,56.3 363.8,56.4 364.7,56.3 C365.7,56.2 366.7,56.4 367.6,56.3 C368.6,56.2 369.6,55.9 370.5,55.5 C371.5,55.2 372.5,54.5 373.5,54.1 C374.4,53.7 375.4,53.4 376.4,53.4 C377.3,53.4 378.4,53.7 379.3,54.1 C380.1,54.5 379.9,52.3 381.5,55.5 C383.0,58.8 387.0,69.9 388.7,73.6 C390.4,77.4 390.4,78.2 391.6,78.0 C392.8,77.8 394.5,74.4 396.0,72.2 C397.5,70.0 398.9,67.3 400.4,64.9 C401.8,62.5 403.3,59.6 404.7,57.6 C406.2,55.7 407.6,54.5 409.1,53.3 C410.5,52.1 412.0,51.1 413.5,50.4 C414.9,49.6 416.6,48.9 417.8,48.9 C419.0,48.9 419.8,49.5 420.7,50.4 C421.7,51.2 422.7,52.5 423.6,54.0 C424.6,55.5 425.6,57.5 426.5,59.1 C427.5,60.7 428.5,62.6 429.5,63.5 C430.4,64.3 431.4,64.7 432.4,64.2 C433.3,63.7 434.3,61.9 435.3,60.5 C436.2,59.2 437.4,57.3 438.2,56.2 C439.0,55.1 438.8,52.9 439.9,54.0 C441.0,55.1 443.1,61.8 444.7,62.6 C446.4,63.3 448.0,59.7 449.7,58.5 C451.3,57.3 453.2,55.9 454.6,55.2 C455.9,54.5 456.9,54.1 457.8,54.4 C458.8,54.7 459.5,55.8 460.3,56.8 C461.1,57.9 461.8,59.9 462.8,60.9 C463.7,62.0 464.9,62.9 466.0,63.4 C467.1,63.9 468.2,64.5 469.3,64.2 C470.4,63.9 471.5,61.8 472.6,61.8 C473.7,61.8 474.9,63.0 475.9,64.2 C476.8,65.4 477.5,67.5 478.3,69.1 C479.1,70.8 480.4,73.2 480.8,74.0" stroke="#009E73" stroke-width="1.35"/>
<path d="M300.5,81.5 C300.7,82.6 300.9,85.8 301.2,87.9 C301.5,90.0 301.9,92.2 302.5,94.3 C303.0,96.4 303.6,98.7 304.4,100.6 C305.1,102.5 305.8,104.3 306.9,105.7 C308.0,107.1 309.5,108.2 310.7,108.9 C312.0,109.7 313.3,109.9 314.5,110.2 C315.8,110.4 317.1,110.5 318.4,110.4 C319.6,110.3 320.9,109.9 322.2,109.5 C323.5,109.1 324.7,108.7 326.0,108.0 C327.3,107.4 328.5,106.5 329.8,105.7 C331.1,104.9 332.4,104.0 333.6,103.2 C334.9,102.3 336.2,101.4 337.5,100.6 C338.7,99.8 339.9,98.8 341.3,98.3 C342.7,97.9 344.1,98.3 345.8,97.7 C347.5,97.1 349.7,95.9 351.6,94.8 C353.6,93.7 355.5,92.4 357.5,91.2 C359.4,90.0 361.3,88.6 363.3,87.5 C365.2,86.5 367.2,85.6 369.1,84.6 C371.0,83.7 373.2,82.5 374.9,81.7 C376.6,81.0 377.9,80.5 379.3,80.0 C380.6,79.5 381.3,79.4 382.9,78.8 C384.5,78.2 386.8,77.9 388.7,76.5 C390.7,75.2 392.8,71.2 394.5,70.7 C396.2,70.2 397.5,72.7 398.9,73.6 C400.4,74.6 401.8,75.8 403.3,76.5 C404.7,77.3 406.2,78.0 407.6,78.0 C409.1,78.0 410.5,77.3 412.0,76.5 C413.5,75.8 414.9,74.6 416.4,73.6 C417.8,72.7 419.3,71.7 420.7,70.7 C422.2,69.8 423.6,68.5 425.1,67.8 C426.5,67.1 428.0,66.4 429.5,66.4 C430.9,66.4 432.4,67.3 433.8,67.8 C435.3,68.3 437.2,69.0 438.2,69.3 C439.2,69.6 439.1,68.9 439.9,69.6 C440.7,70.2 442.0,73.0 443.1,73.2 C444.2,73.4 445.3,71.7 446.4,70.8 C447.5,69.8 448.6,68.3 449.7,67.5 C450.7,66.7 451.8,65.9 452.9,65.9 C454.0,65.9 455.1,66.9 456.2,67.5 C457.3,68.0 458.4,68.6 459.5,69.1 C460.6,69.7 461.7,70.8 462.8,70.8 C463.8,70.8 464.9,69.8 466.0,69.1 C467.1,68.4 468.2,67.2 469.3,66.7 C470.4,66.1 471.5,65.7 472.6,65.9 C473.7,66.0 474.8,66.9 475.9,67.5 C476.9,68.0 478.6,68.9 479.1,69.1" stroke="#009E73" stroke-width="1.35"/>
<path d="M300.5,36.6 C300.7,38.1 301.2,42.8 301.6,45.4 C302.1,47.9 302.5,50.0 303.1,51.9 C303.7,53.8 304.4,55.8 305.3,57.0 C306.1,58.2 307.2,58.7 308.2,59.2 C309.2,59.6 310.1,59.6 311.1,59.6 C312.1,59.6 313.0,59.4 314.0,59.2 C315.0,59.0 315.9,58.8 316.9,58.5 C317.9,58.1 318.8,57.8 319.8,57.3 C320.8,56.8 321.8,56.0 322.7,55.5 C323.7,55.1 324.7,54.8 325.6,54.8 C326.6,54.8 327.6,55.1 328.5,55.5 C329.5,56.0 330.5,56.9 331.5,57.7 C332.4,58.6 333.4,59.8 334.4,60.6 C335.3,61.4 336.3,62.0 337.3,62.5 C338.2,63.0 339.2,63.4 340.2,63.5 C341.2,63.6 342.1,63.3 343.1,63.1 C344.1,62.9 344.6,63.1 346.0,62.5 C347.4,62.0 349.7,60.8 351.6,59.9 C353.5,59.0 355.8,58.0 357.5,57.3 C359.2,56.6 360.6,55.8 361.8,55.5 C363.0,55.3 363.9,55.2 364.7,55.5 C365.6,55.9 366.2,57.1 366.9,57.7 C367.6,58.3 368.2,59.4 369.1,59.2 C369.9,58.9 371.0,57.6 372.0,56.3 C373.0,54.9 374.1,52.6 374.9,51.2 C375.8,49.7 376.5,48.3 377.1,47.5 C377.7,46.8 378.1,46.6 378.5,46.8 C379.0,47.1 379.5,47.8 380.0,49.0 C380.5,50.2 380.0,52.4 381.5,54.1 C382.9,55.8 386.5,58.7 388.7,59.1 C390.9,59.4 392.8,56.9 394.5,56.2 C396.2,55.5 397.5,54.7 398.9,54.7 C400.4,54.7 401.8,55.3 403.3,56.2 C404.7,57.0 406.2,58.4 407.6,59.8 C409.1,61.3 410.5,63.3 412.0,64.9 C413.5,66.5 414.9,67.8 416.4,69.3 C417.8,70.7 419.5,72.4 420.7,73.6 C421.9,74.8 422.7,75.8 423.6,76.5 C424.6,77.3 425.6,78.2 426.5,78.0 C427.5,77.8 428.5,76.5 429.5,75.1 C430.4,73.6 431.4,71.0 432.4,69.3 C433.3,67.6 434.3,66.4 435.3,64.9 C436.2,63.5 437.4,61.4 438.2,60.5 C439.0,59.7 438.8,60.2 439.9,59.8 C441.0,59.5 443.1,57.9 444.7,58.5 C446.4,59.1 448.0,62.0 449.7,63.4 C451.3,64.8 453.2,66.0 454.6,66.7 C455.9,67.4 456.7,67.6 457.8,67.5 C458.9,67.4 460.0,66.5 461.1,65.9 C462.2,65.2 463.3,64.1 464.4,63.4 C465.5,62.7 466.6,61.9 467.7,61.8 C468.8,61.6 469.9,61.9 470.9,62.6 C472.0,63.3 473.1,64.8 474.2,65.9 C475.3,66.9 476.7,67.8 477.5,69.1 C478.3,70.5 478.4,69.4 479.1,74.0 C479.9,78.7 481.5,97.8 482.1,97.0 C482.6,96.2 482.4,73.8 482.4,69.1" stroke="#56B4E9" stroke-width="1.35"/>
<path d="M300.5,95.5 C300.5,92.9 300.3,81.8 300.5,79.6 C300.8,77.5 301.2,81.9 301.8,82.8 C302.5,83.8 303.3,84.6 304.4,85.4 C305.4,86.2 306.9,87.0 308.2,87.7 C309.5,88.3 310.7,88.8 312.0,89.2 C313.3,89.5 314.5,89.7 315.8,89.8 C317.1,89.9 318.4,89.9 319.6,89.8 C320.9,89.8 322.2,89.6 323.5,89.4 C324.7,89.2 326.0,88.9 327.3,88.5 C328.5,88.2 329.8,87.8 331.1,87.3 C332.4,86.8 333.6,86.2 334.9,85.6 C336.2,85.0 337.5,84.5 338.7,83.8 C340.0,83.2 341.3,82.4 342.5,81.5 C343.8,80.7 345.5,79.6 346.4,79.0 C347.3,78.4 347.1,78.7 348.0,77.7 C348.9,76.7 350.1,74.0 351.6,73.0 C353.2,72.0 355.8,71.9 357.5,71.5 C359.2,71.2 360.4,71.0 361.8,70.8 C363.3,70.6 364.7,70.5 366.2,70.4 C367.6,70.3 369.1,70.1 370.5,70.1 C372.0,70.0 373.5,70.1 374.9,70.1 C376.4,70.1 378.1,70.2 379.3,70.1 C380.5,70.0 380.6,68.8 382.2,69.4 C383.8,70.0 386.7,72.4 388.7,73.6 C390.8,74.8 392.8,75.6 394.5,76.5 C396.2,77.5 397.5,78.8 398.9,79.5 C400.4,80.1 401.8,80.3 403.3,80.2 C404.7,80.1 406.2,79.6 407.6,78.7 C409.1,77.9 410.5,76.2 412.0,75.1 C413.5,74.0 414.9,72.7 416.4,72.2 C417.8,71.7 419.3,71.9 420.7,72.2 C422.2,72.4 423.6,72.9 425.1,73.6 C426.5,74.4 428.0,75.8 429.5,76.5 C430.9,77.3 432.4,78.0 433.8,78.0 C435.3,78.0 437.2,76.9 438.2,76.5 C439.2,76.2 439.1,75.1 439.9,75.8 C440.7,76.5 441.8,79.7 443.1,80.6 C444.4,81.5 446.7,81.7 448.0,81.4 C449.4,81.1 450.2,80.1 451.3,79.0 C452.4,77.9 453.5,76.0 454.6,74.9 C455.7,73.8 456.7,73.1 457.8,72.4 C458.9,71.7 460.0,71.2 461.1,70.8 C462.2,70.4 463.3,70.2 464.4,70.0 C465.5,69.7 466.6,69.4 467.7,69.1 C468.8,68.9 469.9,68.3 470.9,68.3 C472.0,68.3 473.1,68.7 474.2,69.1 C475.3,69.5 476.9,70.5 477.5,70.8" stroke="#56B4E9" stroke-width="1.35"/>
<path d="M300.9,65.7 C301.0,66.0 301.2,66.7 301.6,67.2 C302.1,67.6 303.0,68.3 303.8,68.3 C304.7,68.3 305.8,67.6 306.7,67.2 C307.7,66.8 308.7,66.3 309.6,66.0 C310.6,65.7 311.6,65.4 312.5,65.4 C313.5,65.4 314.5,65.8 315.5,66.0 C316.4,66.3 317.4,66.6 318.4,66.9 C319.3,67.1 320.3,67.4 321.3,67.5 C322.2,67.6 323.2,67.6 324.2,67.5 C325.2,67.3 326.1,67.0 327.1,66.5 C328.1,65.9 329.0,65.1 330.0,64.3 C331.0,63.4 331.9,62.2 332.9,61.4 C333.9,60.5 334.8,59.7 335.8,59.2 C336.8,58.6 337.8,58.4 338.7,58.2 C339.7,57.9 340.7,57.8 341.6,57.7 C342.6,57.7 343.8,57.8 344.5,57.7 C345.2,57.7 344.6,57.5 345.8,57.3 C347.0,57.1 349.7,57.0 351.6,56.7 C353.6,56.5 355.8,56.1 357.5,55.8 C359.2,55.6 360.6,55.3 361.8,55.3 C363.0,55.2 363.8,55.3 364.7,55.5 C365.7,55.8 366.7,56.3 367.6,57.0 C368.6,57.7 369.6,58.9 370.5,59.9 C371.5,60.9 372.5,62.2 373.5,62.8 C374.4,63.4 375.4,63.7 376.4,63.5 C377.3,63.4 378.4,62.9 379.3,62.1 C380.1,61.2 380.8,60.0 381.5,58.5 C382.1,56.9 382.5,54.3 382.9,52.6 C383.3,50.9 382.7,47.7 383.6,48.3 C384.6,48.9 387.2,55.2 388.7,56.2 C390.3,57.1 391.6,54.4 393.1,54.0 C394.5,53.6 396.0,53.6 397.5,54.0 C398.9,54.4 400.4,55.3 401.8,56.2 C403.3,57.0 405.0,58.8 406.2,59.1 C407.4,59.3 408.1,58.1 409.1,57.6 C410.1,57.2 410.8,56.5 412.0,56.2 C413.2,55.8 414.9,55.3 416.4,55.5 C417.8,55.6 419.3,56.3 420.7,56.9 C422.2,57.5 423.6,58.4 425.1,59.1 C426.5,59.8 428.0,60.9 429.5,61.3 C430.9,61.6 432.4,61.6 433.8,61.3 C435.3,60.9 437.2,59.6 438.2,59.1 C439.2,58.6 439.1,58.6 439.9,58.4 C440.7,58.1 442.0,57.2 443.1,57.7 C444.2,58.1 445.3,61.8 446.4,60.9 C447.5,60.1 448.6,55.5 449.7,52.8 C450.7,50.0 452.0,46.5 452.9,44.6 C453.9,42.7 454.6,41.6 455.4,41.3 C456.2,41.0 457.0,41.6 457.8,42.9 C458.7,44.3 459.5,47.3 460.3,49.5 C461.1,51.7 461.9,54.4 462.8,56.0 C463.6,57.7 464.4,59.4 465.2,59.3 C466.0,59.2 466.8,56.4 467.7,55.2 C468.5,54.0 469.3,52.3 470.1,51.9 C470.9,51.5 471.8,52.2 472.6,52.8 C473.4,53.3 474.2,54.4 475.0,55.2 C475.9,56.0 476.7,56.4 477.5,57.7 C478.3,58.9 479.2,55.5 480.0,62.6 C480.7,69.7 481.3,99.7 481.8,100.2 C482.2,100.8 482.6,71.6 482.7,65.9" stroke="#E69F00" stroke-width="1.35"/>
<path d="M300.5,84.1 C301.0,84.6 302.0,86.5 303.1,87.3 C304.2,88.1 305.6,88.7 306.9,88.9 C308.2,89.1 309.5,88.8 310.7,88.5 C312.0,88.3 313.3,87.8 314.5,87.3 C315.8,86.7 317.1,86.0 318.4,85.4 C319.6,84.7 320.9,84.1 322.2,83.5 C323.5,82.8 324.7,82.2 326.0,81.5 C327.3,80.8 328.5,79.9 329.8,79.3 C331.1,78.6 332.4,78.1 333.6,77.7 C334.9,77.4 336.2,77.1 337.5,77.1 C338.7,77.0 340.0,77.3 341.3,77.5 C342.5,77.7 344.0,78.1 345.1,78.4 C346.2,78.6 346.9,78.0 348.0,79.0 C349.1,80.0 350.1,83.5 351.6,84.6 C353.2,85.8 355.5,85.6 357.5,85.8 C359.4,86.0 361.3,86.3 363.3,86.1 C365.2,85.9 367.2,85.5 369.1,84.6 C371.0,83.8 373.2,82.1 374.9,81.0 C376.6,79.9 378.1,79.1 379.3,78.1 C380.5,77.1 380.6,77.6 382.2,75.2 C383.8,72.7 386.9,65.2 388.7,63.5 C390.5,61.7 391.6,64.4 393.1,64.9 C394.5,65.4 396.0,66.4 397.5,66.4 C398.9,66.4 400.4,65.5 401.8,64.9 C403.3,64.3 404.7,63.2 406.2,62.7 C407.6,62.2 409.1,61.9 410.5,62.0 C412.0,62.1 413.5,62.8 414.9,63.5 C416.4,64.1 417.8,64.9 419.3,65.6 C420.7,66.4 422.2,67.5 423.6,67.8 C425.1,68.2 426.5,68.1 428.0,67.8 C429.5,67.6 430.9,66.8 432.4,66.4 C433.8,65.9 435.5,65.3 436.7,64.9 C438.0,64.5 438.9,64.3 439.9,64.2 C441.0,64.1 442.0,63.4 443.1,64.2 C444.2,65.0 445.3,67.5 446.4,69.1 C447.5,70.8 448.6,73.0 449.7,74.0 C450.7,75.1 451.8,75.7 452.9,75.7 C454.0,75.7 455.1,74.9 456.2,74.0 C457.3,73.2 458.4,71.6 459.5,70.8 C460.6,70.0 461.7,69.7 462.8,69.1 C463.8,68.6 464.9,68.0 466.0,67.5 C467.1,66.9 468.2,66.0 469.3,65.9 C470.4,65.7 471.5,66.1 472.6,66.7 C473.7,67.2 475.3,68.7 475.9,69.1" stroke="#E69F00" stroke-width="1.35"/>
<path d="M300.6,10.8 C300.6,21.5 300.3,67.4 300.6,75.0 C300.9,82.6 301.6,59.3 302.4,56.3 C303.1,53.2 304.3,56.5 305.3,56.7 C306.2,57.0 307.2,57.3 308.2,57.7 C309.2,58.1 310.1,58.8 311.1,59.2 C312.1,59.5 313.0,59.8 314.0,59.9 C315.0,60.0 315.9,60.0 316.9,59.9 C317.9,59.8 318.8,59.5 319.8,59.2 C320.8,58.8 321.8,58.0 322.7,57.7 C323.7,57.4 324.7,57.2 325.6,57.3 C326.6,57.4 327.6,57.8 328.5,58.5 C329.5,59.1 330.5,60.5 331.5,61.4 C332.4,62.2 333.4,62.9 334.4,63.5 C335.3,64.2 336.3,64.7 337.3,65.0 C338.2,65.3 339.2,65.4 340.2,65.4 C341.2,65.4 342.1,65.2 343.1,65.0 C344.1,64.8 344.6,65.0 346.0,64.3 C347.4,63.5 349.7,61.8 351.6,60.6 C353.5,59.4 355.8,58.2 357.5,57.0 C359.2,55.8 360.6,54.1 361.8,53.4 C363.0,52.6 363.8,52.5 364.7,52.6 C365.7,52.8 366.7,53.2 367.6,54.1 C368.6,54.9 369.6,56.3 370.5,57.7 C371.5,59.2 372.5,61.4 373.5,62.8 C374.4,64.3 375.4,65.7 376.4,66.5 C377.3,67.2 378.3,67.3 379.3,67.2 C380.2,67.1 380.1,67.8 382.2,65.7 C384.2,63.7 389.3,55.8 391.6,54.7 C393.9,53.6 394.5,57.2 396.0,59.1 C397.5,61.0 398.9,63.9 400.4,66.4 C401.8,68.8 403.3,71.9 404.7,73.6 C406.2,75.3 407.9,76.3 409.1,76.5 C410.3,76.8 411.0,76.1 412.0,75.1 C413.0,74.1 413.9,72.4 414.9,70.7 C415.9,69.0 416.8,66.8 417.8,64.9 C418.8,63.0 419.8,60.5 420.7,59.1 C421.7,57.6 422.7,56.8 423.6,56.2 C424.6,55.6 425.6,55.5 426.5,55.5 C427.5,55.5 428.2,55.6 429.5,56.2 C430.7,56.8 432.4,57.9 433.8,59.1 C435.3,60.3 437.2,61.0 438.2,63.5 C439.2,65.9 439.0,71.2 439.8,74.0 C440.6,76.9 442.0,78.8 443.1,80.6 C444.2,82.4 445.3,84.4 446.4,84.7 C447.5,85.0 448.6,83.7 449.7,82.2 C450.7,80.7 451.8,77.9 452.9,75.7 C454.0,73.5 455.1,71.0 456.2,69.1 C457.3,67.2 458.4,65.4 459.5,64.2 C460.6,63.0 461.7,62.0 462.8,61.8 C463.8,61.5 464.9,61.9 466.0,62.6 C467.1,63.3 468.2,64.8 469.3,65.9 C470.4,66.9 471.5,68.0 472.6,69.1 C473.7,70.2 474.8,71.6 475.9,72.4 C476.9,73.2 478.6,73.8 479.1,74.0" stroke="#F0E442" stroke-width="1.35"/>
<path d="M301.2,87.9 C301.4,87.1 301.9,84.5 302.5,82.8 C303.0,81.1 303.6,79.2 304.4,77.7 C305.1,76.2 305.8,75.0 306.9,73.9 C308.0,72.8 309.5,71.8 310.7,71.4 C312.0,70.9 313.3,70.9 314.5,71.1 C315.8,71.3 317.1,71.7 318.4,72.4 C319.6,73.1 320.9,74.2 322.2,75.2 C323.5,76.2 324.9,77.5 326.0,78.4 C327.1,79.2 327.7,79.7 328.5,80.3 C329.4,80.8 330.0,81.3 331.1,81.5 C332.2,81.8 333.6,81.7 334.9,81.5 C336.2,81.4 337.5,80.8 338.7,80.5 C340.0,80.2 341.0,79.8 342.5,79.6 C344.1,79.4 346.5,80.0 348.0,79.3 C349.5,78.5 350.1,76.0 351.6,75.2 C353.2,74.4 355.5,74.7 357.5,74.5 C359.4,74.2 361.3,74.1 363.3,73.7 C365.2,73.4 367.2,72.9 369.1,72.3 C371.0,71.7 373.2,70.8 374.9,70.1 C376.6,69.4 377.0,68.3 379.3,67.9 C381.6,67.5 386.2,67.3 388.7,67.8 C391.3,68.3 392.8,69.8 394.5,70.7 C396.2,71.7 397.5,73.4 398.9,73.6 C400.4,73.9 401.8,72.9 403.3,72.2 C404.7,71.5 406.2,70.1 407.6,69.3 C409.1,68.4 410.5,67.1 412.0,67.1 C413.5,67.1 414.9,68.2 416.4,69.3 C417.8,70.4 419.3,72.2 420.7,73.6 C422.2,75.1 423.6,76.8 425.1,78.0 C426.5,79.2 428.0,80.2 429.5,80.9 C430.9,81.6 432.4,81.8 433.8,82.4 C435.3,82.9 437.2,83.9 438.2,84.1 C439.2,84.4 439.0,84.7 439.8,83.9 C440.6,83.0 442.0,80.6 443.1,79.0 C444.2,77.3 445.3,75.7 446.4,74.0 C447.5,72.4 448.6,70.5 449.7,69.1 C450.7,67.8 451.8,65.9 452.9,65.9 C454.0,65.9 455.2,66.9 456.2,69.1 C457.2,71.3 457.8,76.2 458.7,79.0 C459.5,81.7 460.2,85.0 461.1,85.5 C462.1,86.1 463.3,83.9 464.4,82.2 C465.5,80.6 466.6,77.9 467.7,75.7 C468.8,73.5 470.0,70.8 470.9,69.1 C471.9,67.5 472.6,65.9 473.4,65.9 C474.2,65.9 475.0,67.8 475.9,69.1 C476.7,70.5 477.6,74.0 478.3,74.0 C479.0,74.0 479.4,76.0 480.0,69.1 C480.5,62.3 481.1,28.5 481.6,33.1 C482.1,37.7 482.4,93.7 482.7,97.0 C483.1,100.2 483.4,55.2 483.7,52.8 C484.1,50.3 484.7,77.3 484.9,82.2" stroke="#F0E442" stroke-width="1.35"/>
<path d="M381.0,60.0 C381.2,62.5 381.7,76.3 382.0,75.0 C382.3,73.7 382.7,51.2 383.0,52.0 C383.3,52.8 383.7,79.0 384.0,80.0 C384.3,81.0 384.7,57.2 385.0,58.0 C385.3,58.8 385.5,84.3 386.0,85.0 C386.5,85.7 387.5,62.8 388.0,62.0 C388.5,61.2 388.7,81.2 389.0,80.0 C389.3,78.8 389.7,55.3 390.0,55.0 C390.3,54.7 390.7,76.5 391.0,78.0 C391.3,79.5 391.8,66.3 392.0,64.0" stroke="#000000" stroke-width="1.1"/>
<path d="M382.0,70.0 C382.2,72.7 382.7,87.3 383.0,86.0 C383.3,84.7 383.7,61.7 384.0,62.0 C384.3,62.3 384.5,87.3 385.0,88.0 C385.5,88.7 386.5,66.7 387.0,66.0 C387.5,65.3 387.5,85.0 388.0,84.0 C388.5,83.0 389.5,59.7 390.0,60.0 C390.5,60.3 390.7,84.3 391.0,86.0 C391.3,87.7 391.5,70.7 392.0,70.0 C392.5,69.3 393.7,80.0 394.0,82.0" stroke="#009E73" stroke-width="1.1"/>
<path d="M387.0,65.0 C387.2,68.8 387.7,87.2 388.0,88.0 C388.3,88.8 388.7,70.3 389.0,70.0 C389.3,69.7 389.7,87.0 390.0,86.0 C390.3,85.0 390.5,64.2 391.0,64.0 C391.5,63.8 392.5,84.3 393.0,85.0 C393.5,85.7 393.7,68.8 394.0,68.0 C394.3,67.2 394.8,78.0 395.0,80.0" stroke="#56B4E9" stroke-width="1.1"/>
<path d="M380.0,58.0 C380.2,56.3 380.7,46.0 381.0,48.0 C381.3,50.0 381.7,69.7 382.0,70.0 C382.3,70.3 382.5,49.2 383.0,50.0 C383.5,50.8 384.5,74.7 385.0,75.0 C385.5,75.3 385.5,53.2 386.0,52.0 C386.5,50.8 387.7,65.3 388.0,68.0" stroke="#E69F00" stroke-width="1.1"/>
<path d="M477.0,62.0 C477.2,64.0 477.7,74.7 478.0,74.0 C478.3,73.3 478.7,57.8 479.0,58.0 C479.3,58.2 479.7,75.2 480.0,75.0 C480.3,74.8 480.7,57.2 481.0,57.0 C481.3,56.8 481.7,73.5 482.0,74.0 C482.3,74.5 482.7,60.3 483.0,60.0 C483.3,59.7 483.7,71.7 484.0,72.0 C484.3,72.3 484.7,62.3 485.0,62.0 C485.3,61.7 485.8,68.7 486.0,70.0" stroke="#F0E442" stroke-width="1.6"/>
<path d="M478.0,64.0 C478.2,65.3 478.7,72.7 479.0,72.0 C479.3,71.3 479.7,60.3 480.0,60.0 C480.3,59.7 480.8,68.3 481.0,70.0" stroke="#56B4E9" stroke-width="1.0"/>
<path d="M383.6,66.4 C383.8,63.5 384.3,47.7 384.7,48.9 C385.0,50.1 385.3,74.8 385.5,73.6 C385.7,72.4 385.6,38.7 385.8,41.6 C386.0,44.5 386.3,88.2 386.5,91.1 C386.8,94.0 387.1,58.4 387.3,59.1 C387.5,59.8 387.7,95.9 387.9,95.5 C388.0,95.0 388.2,59.1 388.4,56.2 C388.7,53.3 388.9,76.8 389.2,78.0 C389.4,79.2 389.5,64.2 389.7,63.5 C390.0,62.7 390.3,73.9 390.5,73.6 C390.7,73.4 390.9,61.5 391.1,62.0 C391.2,62.5 391.4,76.1 391.6,76.5 C391.9,77.0 392.1,65.9 392.4,64.9 C392.6,63.9 393.0,69.8 393.1,70.7" stroke="#F0E442" stroke-width="1.6"/>
<path d="M385.2,62.0 C385.4,63.9 385.8,73.9 386.1,73.6 C386.4,73.4 386.7,60.1 387.0,60.5 C387.3,61.0 387.6,76.1 387.9,76.5 C388.1,77.0 388.4,63.7 388.7,63.5 C389.0,63.2 389.3,74.8 389.6,75.1 C389.9,75.3 390.2,65.2 390.5,64.9 C390.8,64.7 391.1,73.4 391.3,73.6 C391.6,73.9 392.1,67.6 392.2,66.4" stroke="#F0E442" stroke-width="2.4"/>
<path d="M386.1,64.9 C386.3,66.1 386.7,72.4 387.0,72.2 C387.3,71.9 387.6,63.2 387.9,63.5 C388.1,63.7 388.4,73.5 388.7,73.6 C389.0,73.8 389.3,64.4 389.6,64.2 C389.9,63.9 390.2,71.9 390.5,72.2 C390.8,72.4 391.2,66.7 391.3,65.6" stroke="#F0E442" stroke-width="2.4"/>
</g>
<text class="t" x="300.50" y="162.20" font-size="11" text-anchor="middle">0</text>
<text class="t" x="364.60" y="162.20" font-size="11" text-anchor="middle">2</text>
<text class="t" x="428.70" y="162.20" font-size="11" text-anchor="middle">4</text>
<text class="t" x="492.80" y="162.20" font-size="11" text-anchor="middle">6</text>
<text class="t" x="296.80" y="153.70" font-size="11" text-anchor="end">1</text>
<line x1="282.80" y1="150.40" x2="290.80" y2="150.40" stroke="#262626" stroke-width="0.75"/>
<text class="t" x="296.80" y="118.96" font-size="11" text-anchor="end">0.5</text>
<line x1="274.55" y1="115.66" x2="282.55" y2="115.66" stroke="#262626" stroke-width="0.75"/>
<text class="t" x="296.80" y="84.23" font-size="11" text-anchor="end">0</text>
<text class="t" x="296.80" y="49.49" font-size="11" text-anchor="end">0.5</text>
<text class="t" x="296.80" y="14.75" font-size="11" text-anchor="end">1</text>
<text x="357.65" y="176.60" font-size="10.5" font-style="italic" textLength="5.6" lengthAdjust="spacingAndGlyphs">&#7819;</text>
<text x="363.35" y="178.90" font-size="7.6" textLength="11.2" lengthAdjust="spacingAndGlyphs">Ref</text>
<text x="375.55" y="176.60" font-size="10.5" textLength="4.8" lengthAdjust="spacingAndGlyphs">/</text>
<text x="381.35" y="176.60" font-size="10.5" textLength="11.0" lengthAdjust="spacingAndGlyphs">10</text>
<text x="394.85" y="176.60" font-size="10.5" textLength="9.6" lengthAdjust="spacingAndGlyphs">in</text>
<text x="407.55" y="176.60" font-size="10.5" textLength="29.4" lengthAdjust="spacingAndGlyphs">km/h</text>
<g transform="translate(265.4,106.43) rotate(-90)"><text x="-0.2" y="0" font-size="10.5" font-style="italic" textLength="5.8" lengthAdjust="spacingAndGlyphs">&#1013;</text><text x="6.4" y="2.4" font-size="8.2" textLength="16.2" lengthAdjust="spacingAndGlyphs">Sim2</text><text x="26.4" y="0" font-size="10.5" textLength="8.6" lengthAdjust="spacingAndGlyphs">in</text><text x="38.3" y="0" font-size="10.5" textLength="14.0" lengthAdjust="spacingAndGlyphs">cm</text></g>
<line x1="78.50" y1="191.5" x2="78.50" y2="330.3" stroke="#f1f1f1" stroke-width="1"/>
<line x1="142.50" y1="191.5" x2="142.50" y2="330.3" stroke="#f1f1f1" stroke-width="1"/>
<line x1="206.50" y1="191.5" x2="206.50" y2="330.3" stroke="#f1f1f1" stroke-width="1"/>
<line x1="46.5" y1="312.50" x2="238.5" y2="312.50" stroke="#f1f1f1" stroke-width="1"/>
<line x1="46.5" y1="278.50" x2="238.5" y2="278.50" stroke="#f1f1f1" stroke-width="1"/>
<line x1="46.5" y1="243.50" x2="238.5" y2="243.50" stroke="#f1f1f1" stroke-width="1"/>
<line x1="46.5" y1="208.50" x2="238.5" y2="208.50" stroke="#f1f1f1" stroke-width="1"/>
<line x1="46.50" y1="191.5" x2="46.50" y2="330.3" stroke="#c8c8c8" stroke-width="1"/>
<line x1="110.50" y1="191.5" x2="110.50" y2="330.3" stroke="#c8c8c8" stroke-width="1"/>
<line x1="174.50" y1="191.5" x2="174.50" y2="330.3" stroke="#c8c8c8" stroke-width="1"/>
<line x1="238.50" y1="191.5" x2="238.50" y2="330.3" stroke="#c8c8c8" stroke-width="1"/>
<line x1="46.5" y1="330.50" x2="238.5" y2="330.50" stroke="#c8c8c8" stroke-width="1"/>
<line x1="46.5" y1="295.50" x2="238.5" y2="295.50" stroke="#c8c8c8" stroke-width="1"/>
<line x1="46.5" y1="260.50" x2="238.5" y2="260.50" stroke="#c8c8c8" stroke-width="1"/>
<line x1="46.5" y1="226.50" x2="238.5" y2="226.50" stroke="#c8c8c8" stroke-width="1"/>
<line x1="46.5" y1="191.50" x2="238.5" y2="191.50" stroke="#c8c8c8" stroke-width="1"/>
<rect x="46.5" y="191.5" width="192.00" height="138.80" fill="none" stroke="#404040" stroke-width="1.0"/>
<clipPath id="c3"><rect x="46.5" y="190.5" width="193.0" height="140.8"/></clipPath>
<g clip-path="url(#c3)" fill="none" stroke-linejoin="round" stroke-linecap="round">
<path d="M46.4,207.0 C46.5,209.9 46.6,220.6 46.8,224.9 C47.0,229.2 47.2,232.2 47.6,232.8 C48.0,233.5 48.2,229.9 49.0,228.9 C49.7,227.9 50.8,227.7 52.0,226.9 C53.1,226.0 54.6,224.7 56.0,223.9 C57.3,223.1 58.6,222.6 59.9,221.9 C61.3,221.2 62.3,220.5 63.9,219.9 C65.6,219.3 67.9,218.9 69.9,218.5 C71.9,218.1 73.9,217.7 75.9,217.3 C77.9,216.9 79.9,216.3 81.8,215.9 C83.8,215.5 85.8,215.2 87.8,214.9 C89.8,214.7 91.8,214.7 93.8,214.5 C95.8,214.4 98.1,214.1 99.8,213.9 C101.4,213.7 102.4,213.3 103.8,213.3 C105.1,213.3 106.4,213.7 107.7,213.9 C109.1,214.2 110.4,214.6 111.7,214.9 C113.1,215.3 114.4,215.6 115.7,215.9 C117.0,216.2 118.4,216.7 119.7,216.9 C121.0,217.1 122.4,217.3 123.7,217.3 C125.0,217.3 126.3,217.1 127.7,216.9 C129.0,216.7 130.3,216.2 131.6,215.9 C133.0,215.6 134.3,214.9 135.6,214.9 C137.0,214.9 138.9,215.8 139.6,215.9 C140.3,216.1 139.3,216.0 140.0,215.9 C140.7,215.8 142.7,215.8 144.0,215.5 C145.3,215.2 146.6,214.4 148.0,214.3 C149.3,214.2 150.6,214.6 152.0,214.9 C153.3,215.2 154.6,215.8 155.9,215.9 C157.3,216.0 158.6,215.4 159.9,215.5 C161.2,215.6 162.6,215.9 163.9,216.3 C165.2,216.7 166.6,217.3 167.9,217.9 C169.2,218.5 170.5,219.1 171.9,219.9 C173.2,220.7 174.7,221.9 175.9,222.9 C177.0,223.9 177.8,225.0 178.8,225.9 C179.8,226.7 180.7,227.8 181.8,227.8 C183.0,227.8 184.2,227.2 185.8,225.9 C187.5,224.5 190.1,221.9 191.8,219.9 C193.5,217.9 194.4,216.2 195.8,213.9 C197.1,211.6 198.6,207.9 199.8,205.9 C200.9,204.0 201.9,203.1 202.7,202.4 C203.6,201.6 204.1,201.3 204.7,201.6 C205.4,201.8 206.1,202.5 206.7,203.9 C207.4,205.3 208.1,207.6 208.7,209.9 C209.4,212.2 210.1,215.6 210.7,217.9 C211.4,220.2 212.1,223.2 212.7,223.9 C213.3,224.5 213.7,223.5 214.1,221.9 C214.5,220.2 214.9,213.6 215.3,213.9 C215.7,214.2 216.0,225.5 216.3,223.9 C216.6,222.2 217.0,204.6 217.3,203.9 C217.6,203.3 218.0,217.9 218.3,219.9 C218.6,221.9 219.0,215.6 219.3,215.9 C219.6,216.2 219.9,222.2 220.3,221.9 C220.6,221.5 220.9,213.6 221.3,213.9 C221.6,214.2 221.9,223.2 222.3,223.9 C222.6,224.5 223.0,220.2 223.3,217.9 C223.6,215.6 223.8,213.2 224.1,209.9 C224.3,206.6 224.5,196.0 224.7,198.0 C224.9,200.0 225.2,217.9 225.3,221.9" stroke="#009E73" stroke-width="1.35"/>
<path d="M46.6,214.9 C46.8,213.9 47.6,207.0 48.0,208.9 C48.4,210.9 48.6,223.6 49.0,226.9 C49.4,230.2 49.9,230.2 50.4,228.9 C50.9,227.5 51.4,221.2 52.0,218.9 C52.5,216.6 53.1,215.4 53.6,214.9 C54.1,214.4 54.4,214.3 55.0,215.9 C55.5,217.6 56.3,221.7 56.9,224.9 C57.6,228.0 58.3,232.4 58.9,234.8 C59.6,237.3 60.3,239.3 60.9,239.8 C61.6,240.3 62.3,239.0 62.9,237.8 C63.6,236.7 64.3,234.5 64.9,232.8 C65.6,231.2 66.2,228.9 66.9,227.9 C67.6,226.9 68.2,226.4 68.9,226.9 C69.6,227.4 70.2,229.5 70.9,230.9 C71.6,232.2 72.1,233.8 72.9,234.8 C73.7,235.8 74.9,237.2 75.9,236.8 C76.9,236.5 77.9,234.2 78.9,232.8 C79.9,231.5 80.9,229.9 81.8,228.9 C82.8,227.9 83.8,226.9 84.8,226.9 C85.8,226.9 86.8,227.9 87.8,228.9 C88.8,229.9 90.0,231.9 90.8,232.8 C91.6,233.8 92.0,235.0 92.8,234.8 C93.6,234.7 94.6,232.8 95.8,231.9 C97.0,230.9 98.4,229.7 99.8,228.9 C101.1,228.0 102.4,227.3 103.8,226.9 C105.1,226.5 106.4,226.5 107.7,226.5 C109.1,226.5 110.4,226.9 111.7,226.9 C113.1,226.9 114.4,226.3 115.7,226.5 C117.0,226.6 118.4,227.3 119.7,227.9 C121.0,228.4 122.4,229.4 123.7,229.9 C125.0,230.4 126.3,230.8 127.7,230.9 C129.0,231.0 130.3,230.6 131.6,230.5 C133.0,230.3 134.3,229.9 135.6,229.9 C137.0,229.9 138.9,230.5 139.6,230.5 C140.3,230.5 139.3,229.8 140.0,229.8 C140.7,229.9 142.7,230.7 144.0,230.8 C145.3,231.0 146.6,231.0 148.0,230.8 C149.3,230.7 150.6,229.7 152.0,229.8 C153.3,230.0 154.6,231.0 155.9,231.8 C157.3,232.7 158.9,234.0 159.9,234.8 C160.9,235.7 160.9,236.8 161.9,236.8 C162.9,236.8 164.6,235.8 165.9,234.8 C167.2,233.8 168.6,232.2 169.9,230.8 C171.2,229.5 172.5,227.8 173.9,226.9 C175.2,225.9 176.5,225.3 177.8,224.9 C179.2,224.4 180.5,224.3 181.8,224.3 C183.2,224.3 184.5,224.6 185.8,224.9 C187.1,225.1 188.5,225.8 189.8,225.9 C191.1,226.0 192.5,225.4 193.8,225.5 C195.1,225.5 196.4,225.9 197.8,226.3 C199.1,226.7 200.4,227.3 201.8,227.8 C203.1,228.4 204.6,229.3 205.7,229.8 C206.9,230.3 207.7,231.2 208.7,230.8 C209.7,230.5 210.9,230.3 211.7,227.8 C212.5,225.4 213.2,215.6 213.7,215.9 C214.2,216.2 214.4,230.5 214.7,229.8 C215.0,229.2 215.3,211.6 215.7,211.9 C216.1,212.2 216.5,232.5 216.9,231.8 C217.3,231.2 217.7,208.3 218.1,207.9 C218.5,207.6 218.9,228.8 219.3,229.8 C219.7,230.8 220.1,214.2 220.5,213.9 C220.9,213.6 221.3,228.5 221.7,227.8 C222.1,227.2 222.5,210.3 222.9,209.9 C223.2,209.6 223.5,223.2 223.7,225.9" stroke="#009E73" stroke-width="1.35"/>
<path d="M46.4,224.9 C46.5,227.5 46.5,239.2 46.8,240.8 C47.1,242.5 47.5,236.5 48.0,234.8 C48.5,233.2 49.3,232.0 50.0,230.9 C50.6,229.7 51.0,228.7 52.0,227.9 C53.0,227.0 54.6,226.4 56.0,225.9 C57.3,225.4 58.6,225.1 59.9,224.9 C61.3,224.6 62.6,224.6 63.9,224.5 C65.2,224.3 66.6,223.9 67.9,223.9 C69.2,223.9 70.6,224.2 71.9,224.5 C73.2,224.8 74.5,225.5 75.9,225.9 C77.2,226.3 78.5,226.6 79.9,226.9 C81.2,227.1 82.5,227.1 83.8,227.3 C85.2,227.4 86.5,227.6 87.8,227.9 C89.2,228.1 90.5,228.5 91.8,228.9 C93.1,229.2 94.5,229.6 95.8,229.9 C97.1,230.1 98.4,230.5 99.8,230.5 C101.1,230.5 102.4,230.5 103.8,229.9 C105.1,229.3 106.4,227.7 107.7,226.9 C109.1,226.0 110.4,225.4 111.7,224.9 C113.1,224.4 114.4,224.2 115.7,223.9 C117.0,223.6 118.4,223.1 119.7,222.9 C121.0,222.7 122.4,223.1 123.7,222.9 C125.0,222.7 126.3,222.3 127.7,221.9 C129.0,221.5 130.3,220.8 131.6,220.5 C133.0,220.2 134.3,219.9 135.6,219.9 C137.0,219.9 138.9,220.2 139.6,220.5 C140.3,220.8 139.3,221.4 140.0,221.5 C140.7,221.5 142.7,220.8 144.0,220.9 C145.3,220.9 146.6,221.5 148.0,221.9 C149.3,222.2 150.6,222.6 152.0,222.9 C153.3,223.1 154.6,223.2 155.9,223.5 C157.3,223.7 158.6,223.9 159.9,224.3 C161.2,224.6 162.6,225.1 163.9,225.5 C165.2,225.8 166.6,226.0 167.9,226.3 C169.2,226.5 170.7,227.3 171.9,226.9 C173.0,226.5 173.9,225.4 174.9,223.9 C175.9,222.4 176.9,219.9 177.8,217.9 C178.8,215.9 179.8,213.3 180.8,211.9 C181.8,210.5 182.8,209.9 183.8,209.5 C184.8,209.2 186.0,209.4 186.8,209.9 C187.6,210.5 188.1,211.6 188.8,212.9 C189.5,214.2 190.1,216.1 190.8,217.9 C191.5,219.7 192.0,221.9 192.8,223.9 C193.6,225.9 194.8,228.4 195.8,229.8 C196.8,231.2 197.8,231.8 198.8,232.2 C199.8,232.6 200.8,232.6 201.8,232.2 C202.7,231.8 203.9,230.7 204.7,229.8 C205.6,228.9 206.1,227.8 206.7,226.9 C207.4,225.9 208.1,224.7 208.7,223.9 C209.4,223.0 210.1,222.4 210.7,221.9 C211.4,221.4 212.1,219.5 212.7,220.9 C213.3,222.2 213.7,230.0 214.1,229.8 C214.5,229.7 214.9,219.2 215.3,219.9 C215.7,220.5 216.2,233.5 216.7,233.8 C217.2,234.2 217.6,221.5 218.1,221.9 C218.6,222.2 219.2,235.5 219.7,235.8 C220.1,236.1 220.5,223.5 220.9,223.9 C221.3,224.2 221.7,237.5 222.1,237.8 C222.5,238.1 222.9,225.2 223.3,225.9 C223.7,226.5 224.3,239.1 224.5,241.8" stroke="#56B4E9" stroke-width="1.35"/>
<path d="M46.4,240.8 C46.6,241.5 47.1,245.8 47.6,244.8 C48.1,243.8 48.7,237.5 49.2,234.8 C49.6,232.2 49.9,230.9 50.4,228.9 C50.8,226.9 51.4,223.4 52.0,222.9 C52.6,222.4 53.3,223.9 54.0,225.9 C54.6,227.9 55.3,231.4 56.0,234.8 C56.6,238.3 57.3,243.5 57.9,246.8 C58.6,250.1 59.3,252.4 59.9,254.8 C60.6,257.1 61.3,260.7 61.9,260.7 C62.6,260.7 63.3,256.8 63.9,254.8 C64.6,252.8 65.2,250.4 65.9,248.8 C66.6,247.1 67.2,244.8 67.9,244.8 C68.6,244.8 69.2,247.1 69.9,248.8 C70.6,250.4 71.2,252.8 71.9,254.8 C72.6,256.8 73.2,259.2 73.9,260.7 C74.5,262.2 75.2,264.1 75.9,263.7 C76.5,263.4 77.2,260.6 77.9,258.7 C78.5,256.9 79.2,254.1 79.9,252.8 C80.5,251.4 81.2,250.8 81.8,250.8 C82.5,250.8 83.2,251.8 83.8,252.8 C84.5,253.8 85.2,256.4 85.8,256.8 C86.5,257.1 87.0,255.8 87.8,254.8 C88.7,253.8 89.8,251.9 90.8,250.8 C91.8,249.6 92.8,248.6 93.8,247.8 C94.8,247.0 95.8,246.0 96.8,245.8 C97.8,245.6 98.8,246.3 99.8,246.8 C100.8,247.3 101.8,248.0 102.8,248.8 C103.8,249.6 104.9,251.4 105.8,251.8 C106.6,252.1 106.7,251.6 107.7,250.8 C108.7,249.9 110.4,248.1 111.7,246.8 C113.1,245.5 114.7,243.6 115.7,242.8 C116.7,242.0 117.0,241.8 117.7,241.8 C118.4,241.8 118.9,242.1 119.7,242.8 C120.5,243.5 121.7,245.5 122.7,245.8 C123.7,246.1 124.5,245.3 125.7,244.8 C126.8,244.3 128.3,243.0 129.7,242.8 C131.0,242.6 132.3,243.5 133.6,243.8 C135.0,244.1 136.3,244.3 137.6,244.8 C139.0,245.3 140.5,246.0 141.6,246.8 C142.7,247.6 142.9,248.9 144.0,249.8 C145.0,250.7 146.6,251.6 148.0,252.2 C149.3,252.7 150.6,253.4 152.0,253.3 C153.3,253.3 154.6,252.5 155.9,251.8 C157.3,251.0 158.6,249.8 159.9,248.8 C161.2,247.8 162.6,246.8 163.9,245.8 C165.2,244.8 166.6,243.8 167.9,242.8 C169.2,241.8 170.7,240.6 171.9,239.8 C173.0,239.0 173.9,238.0 174.9,237.8 C175.9,237.6 176.7,238.3 177.8,238.8 C179.0,239.3 180.5,240.2 181.8,240.8 C183.2,241.4 184.5,241.8 185.8,242.2 C187.1,242.6 188.5,243.1 189.8,243.4 C191.1,243.7 192.6,244.0 193.8,244.2 C194.9,244.4 195.8,245.1 196.8,244.8 C197.8,244.4 198.6,243.2 199.8,242.2 C200.9,241.2 202.4,239.7 203.7,238.8 C205.1,237.9 206.6,237.5 207.7,236.8 C208.9,236.1 209.7,235.8 210.7,234.8 C211.7,233.8 213.0,229.1 213.7,230.8 C214.4,232.5 214.6,241.0 214.9,245.0 C215.2,249.0 215.2,251.3 215.3,255.0 C215.4,258.6 215.5,267.6 215.7,266.9 C215.9,266.2 216.2,251.6 216.5,251.0 C216.8,250.3 217.3,263.3 217.7,262.9 C218.1,262.6 218.5,249.3 218.9,249.0 C219.3,248.7 219.6,260.6 220.1,260.9 C220.5,261.3 221.2,251.6 221.7,251.0 C222.1,250.3 222.7,256.0 222.9,257.0" stroke="#56B4E9" stroke-width="1.35"/>
<path d="M46.4,245.8 C47.0,246.0 48.7,246.9 50.0,247.2 C51.2,247.5 52.6,247.5 54.0,247.8 C55.3,248.1 56.6,248.5 57.9,249.2 C59.3,249.8 60.6,251.0 61.9,251.8 C63.3,252.5 64.6,253.3 65.9,253.8 C67.2,254.3 68.6,254.6 69.9,254.8 C71.2,254.9 72.6,254.8 73.9,254.8 C75.2,254.7 76.5,254.5 77.9,254.4 C79.2,254.2 80.5,254.0 81.8,253.8 C83.2,253.6 84.5,253.3 85.8,253.2 C87.2,253.0 88.5,252.9 89.8,252.8 C91.1,252.6 92.5,252.5 93.8,252.4 C95.1,252.2 96.5,252.0 97.8,251.8 C99.1,251.6 100.4,251.3 101.8,251.2 C103.1,251.0 104.4,250.9 105.8,250.8 C107.1,250.6 108.4,250.5 109.7,250.4 C111.1,250.2 112.4,250.0 113.7,249.8 C115.0,249.6 116.4,249.3 117.7,249.2 C119.0,249.0 120.4,248.9 121.7,248.8 C123.0,248.7 124.3,248.4 125.7,248.4 C127.0,248.4 128.3,248.8 129.7,248.8 C131.0,248.8 132.3,248.6 133.6,248.4 C135.0,248.2 136.3,248.0 137.6,247.8 C139.0,247.6 140.5,247.3 141.6,247.2 C142.7,247.1 142.9,247.5 144.0,247.4 C145.0,247.3 146.6,246.7 148.0,246.6 C149.3,246.5 150.6,246.5 152.0,246.6 C153.3,246.7 154.6,246.8 155.9,247.0 C157.3,247.2 158.6,247.5 159.9,248.0 C161.2,248.5 162.6,249.2 163.9,250.0 C165.2,250.7 166.6,251.7 167.9,252.6 C169.2,253.5 170.5,254.6 171.9,255.4 C173.2,256.2 174.5,256.9 175.9,257.4 C177.2,257.8 178.5,257.9 179.8,257.9 C181.2,257.9 182.5,257.7 183.8,257.4 C185.2,257.0 186.5,256.5 187.8,256.0 C189.1,255.4 190.5,254.8 191.8,254.0 C193.1,253.1 194.4,252.1 195.8,251.0 C197.1,249.8 198.8,247.8 199.8,247.0 C200.8,246.2 201.1,245.3 201.8,246.0 C202.4,246.7 203.1,249.3 203.7,251.0 C204.4,252.6 205.1,254.7 205.7,256.0 C206.4,257.2 207.1,258.7 207.7,258.5 C208.4,258.4 209.1,255.4 209.7,255.0 C210.4,254.5 211.0,256.3 211.7,256.0 C212.4,255.6 213.0,252.8 213.7,253.0 C214.4,253.1 215.2,257.6 215.7,257.0 C216.2,256.3 216.3,248.0 216.7,249.0 C217.1,250.0 217.7,262.3 218.1,262.9 C218.5,263.6 218.9,252.6 219.3,253.0 C219.7,253.3 220.3,264.3 220.7,264.9 C221.1,265.6 221.3,256.6 221.7,257.0 C222.0,257.3 222.5,266.6 222.9,266.9 C223.2,267.2 223.5,260.3 223.7,258.9" stroke="#000000" stroke-width="1.35"/>
<path d="M46.8,265.9 C47.2,264.9 48.3,261.6 49.0,260.0 C49.7,258.3 50.3,256.0 51.0,256.0 C51.6,256.0 52.4,258.6 53.0,260.0 C53.5,261.3 53.9,264.3 54.4,263.9 C54.9,263.6 55.4,259.6 56.0,258.0 C56.5,256.3 57.3,255.0 57.9,254.0 C58.6,253.0 59.3,252.2 59.9,252.0 C60.6,251.8 61.3,252.2 61.9,253.0 C62.6,253.8 63.3,256.1 63.9,257.0 C64.6,257.8 65.1,258.1 65.9,258.0 C66.7,257.8 67.9,256.5 68.9,256.0 C69.9,255.5 70.9,254.8 71.9,255.0 C72.9,255.1 73.9,256.5 74.9,257.0 C75.9,257.5 76.9,258.1 77.9,258.0 C78.9,257.8 79.9,256.6 80.9,256.0 C81.8,255.3 82.8,254.5 83.8,254.0 C84.8,253.5 85.8,253.0 86.8,253.0 C87.8,253.0 88.7,254.0 89.8,254.0 C91.0,254.0 92.5,253.3 93.8,253.0 C95.1,252.7 96.8,251.8 97.8,252.0 C98.8,252.2 98.8,253.0 99.8,254.0 C100.8,255.0 102.4,256.8 103.8,258.0 C105.1,259.1 106.4,260.1 107.7,261.0 C109.1,261.8 110.4,262.3 111.7,262.9 C113.1,263.6 114.4,264.7 115.7,264.9 C117.0,265.2 118.4,264.6 119.7,264.3 C121.0,264.1 122.4,263.9 123.7,263.5 C125.0,263.2 126.3,262.7 127.7,262.4 C129.0,262.0 130.3,261.8 131.6,261.6 C133.0,261.3 134.3,261.2 135.6,261.0 C137.0,260.7 138.9,260.2 139.6,260.0 C140.3,259.7 139.3,259.6 140.0,259.3 C140.7,259.1 142.7,258.8 144.0,258.5 C145.3,258.3 146.6,257.9 148.0,257.9 C149.3,258.0 150.6,258.7 152.0,258.9 C153.3,259.2 154.6,259.3 155.9,259.3 C157.3,259.3 158.6,258.8 159.9,258.9 C161.2,259.0 162.6,259.7 163.9,259.9 C165.2,260.2 166.6,260.3 167.9,260.5 C169.2,260.8 170.5,261.1 171.9,261.3 C173.2,261.6 174.5,261.7 175.9,261.9 C177.2,262.2 178.7,262.6 179.8,262.9 C181.0,263.3 182.0,264.1 182.8,263.9 C183.7,263.8 184.0,262.4 184.8,261.9 C185.7,261.4 186.6,261.4 187.8,260.9 C189.0,260.4 190.5,259.6 191.8,258.9 C193.1,258.3 194.4,257.1 195.8,257.0 C197.1,256.8 198.6,257.5 199.8,257.9 C200.9,258.4 201.8,259.8 202.7,259.9 C203.7,260.1 204.7,259.3 205.7,258.9 C206.7,258.6 207.7,258.3 208.7,257.9 C209.7,257.6 210.7,257.5 211.7,257.0 C212.7,256.5 213.9,254.3 214.7,255.0 C215.5,255.6 216.1,260.9 216.7,260.9 C217.3,260.9 217.6,254.3 218.1,255.0 C218.6,255.6 219.2,264.6 219.7,264.9 C220.1,265.3 220.5,256.6 220.9,257.0 C221.3,257.3 221.7,267.2 222.1,266.9 C222.5,266.6 222.9,255.5 223.3,255.0 C223.6,254.5 223.9,262.4 224.1,263.9" stroke="#000000" stroke-width="1.35"/>
<path d="M46.8,289.8 C47.0,287.8 47.5,280.7 48.0,277.9 C48.5,275.1 49.3,273.9 50.0,272.9 C50.6,271.9 51.3,271.7 52.0,271.9 C52.6,272.1 53.3,273.4 54.0,273.9 C54.6,274.4 55.0,275.1 56.0,274.9 C56.9,274.7 58.6,273.4 59.9,272.9 C61.3,272.4 62.6,272.0 63.9,271.9 C65.2,271.8 66.6,272.0 67.9,272.3 C69.2,272.6 70.6,273.0 71.9,273.5 C73.2,274.0 74.5,274.8 75.9,275.5 C77.2,276.2 78.5,277.3 79.9,277.9 C81.2,278.5 82.5,278.6 83.8,278.9 C85.2,279.2 86.5,279.2 87.8,279.5 C89.2,279.7 90.5,280.2 91.8,280.3 C93.1,280.3 94.5,280.1 95.8,279.9 C97.1,279.6 98.4,279.2 99.8,278.9 C101.1,278.6 102.4,278.1 103.8,277.9 C105.1,277.7 106.4,277.7 107.7,277.5 C109.1,277.3 110.4,277.2 111.7,276.9 C113.1,276.6 114.4,276.1 115.7,275.9 C117.0,275.7 118.4,275.4 119.7,275.5 C121.0,275.6 122.4,276.2 123.7,276.3 C125.0,276.4 126.3,276.4 127.7,276.3 C129.0,276.2 130.3,275.5 131.6,275.5 C133.0,275.5 134.3,275.9 135.6,276.3 C137.0,276.7 138.9,277.3 139.6,277.9 C140.3,278.5 139.3,279.4 140.0,279.9 C140.7,280.4 142.7,280.4 144.0,280.9 C145.3,281.3 146.6,282.0 148.0,282.5 C149.3,282.9 150.6,283.3 152.0,283.8 C153.3,284.4 154.6,285.3 155.9,285.8 C157.3,286.3 158.8,287.2 159.9,286.8 C161.1,286.5 162.1,284.6 162.9,283.8 C163.7,283.1 164.1,282.5 164.9,282.5 C165.7,282.5 166.7,283.1 167.9,283.8 C169.1,284.6 170.5,285.8 171.9,286.8 C173.2,287.8 174.5,288.8 175.9,289.8 C177.2,290.8 178.7,292.0 179.8,292.8 C181.0,293.6 181.8,294.6 182.8,294.4 C183.8,294.2 184.8,292.7 185.8,291.8 C186.8,290.9 187.8,289.8 188.8,288.8 C189.8,287.8 190.8,286.8 191.8,285.8 C192.8,284.8 193.8,283.8 194.8,282.8 C195.8,281.9 196.9,280.9 197.8,279.9 C198.6,278.9 199.1,277.0 199.8,276.9 C200.4,276.7 201.1,278.0 201.8,278.9 C202.4,279.7 202.9,280.9 203.7,281.9 C204.6,282.8 205.9,283.8 206.7,284.8 C207.6,285.8 208.1,287.8 208.7,287.8 C209.4,287.8 210.1,286.0 210.7,284.8 C211.4,283.7 212.0,282.8 212.7,280.9 C213.4,278.9 214.2,274.7 214.7,272.9 C215.2,271.1 215.4,268.2 215.7,269.9 C216.0,271.6 216.4,278.0 216.7,282.8 C217.0,287.7 217.0,298.5 217.3,298.8 C217.6,299.1 218.0,285.8 218.3,284.8 C218.6,283.8 219.0,293.5 219.3,292.8 C219.6,292.1 219.9,280.5 220.3,280.9 C220.6,281.2 220.9,295.0 221.3,294.8 C221.6,294.6 221.9,280.2 222.3,279.9 C222.6,279.5 222.9,292.3 223.3,292.8 C223.6,293.3 223.9,283.0 224.3,282.8 C224.6,282.7 225.1,290.3 225.3,291.8" stroke="#E69F00" stroke-width="1.35"/>
<path d="M47.0,289.8 C47.3,287.2 48.3,277.2 49.0,273.9 C49.6,270.6 50.3,268.6 51.0,269.9 C51.6,271.2 52.3,278.2 53.0,281.9 C53.6,285.5 54.2,289.0 55.0,291.8 C55.7,294.7 56.7,298.6 57.5,298.8 C58.4,299.0 59.2,294.7 59.9,292.8 C60.7,291.0 61.3,289.1 61.9,287.8 C62.6,286.6 63.3,285.1 63.9,285.5 C64.6,285.8 65.2,288.1 65.9,289.8 C66.6,291.6 67.1,294.0 67.9,295.8 C68.7,297.6 69.9,300.8 70.9,300.8 C71.9,300.8 72.9,297.6 73.9,295.8 C74.9,294.0 75.9,290.3 76.9,289.8 C77.9,289.3 78.9,291.7 79.9,292.8 C80.9,294.0 82.0,296.0 82.8,296.8 C83.7,297.6 84.0,298.3 84.8,297.8 C85.7,297.3 86.8,295.2 87.8,293.8 C88.8,292.5 89.8,290.0 90.8,289.8 C91.8,289.7 92.8,291.7 93.8,292.8 C94.8,294.0 95.8,296.6 96.8,296.8 C97.8,297.0 98.8,294.7 99.8,293.8 C100.8,293.0 101.8,292.0 102.8,291.8 C103.8,291.7 104.6,292.7 105.8,292.8 C106.9,293.0 108.4,293.2 109.7,292.8 C111.1,292.5 112.4,291.3 113.7,290.8 C115.0,290.3 116.4,289.8 117.7,289.8 C119.0,289.8 120.4,290.6 121.7,290.8 C123.0,291.1 124.3,291.2 125.7,291.4 C127.0,291.7 128.3,292.0 129.7,292.2 C131.0,292.5 132.3,292.6 133.6,292.8 C135.0,293.1 136.3,293.6 137.6,293.8 C139.0,294.1 140.5,294.1 141.6,294.2 C142.7,294.3 142.9,294.3 144.0,294.4 C145.0,294.5 146.6,294.7 148.0,294.8 C149.3,294.9 150.6,294.9 152.0,294.8 C153.3,294.7 154.6,294.6 155.9,294.4 C157.3,294.2 158.6,294.1 159.9,293.8 C161.2,293.5 162.6,292.9 163.9,292.4 C165.2,291.9 166.6,291.0 167.9,290.8 C169.2,290.6 170.5,291.0 171.9,291.2 C173.2,291.4 174.5,291.6 175.9,291.8 C177.2,292.0 178.7,292.1 179.8,292.4 C181.0,292.7 181.8,293.9 182.8,293.8 C183.8,293.7 184.8,292.5 185.8,291.8 C186.8,291.1 187.8,290.8 188.8,289.8 C189.8,288.8 190.8,287.2 191.8,285.8 C192.8,284.5 193.8,282.8 194.8,281.9 C195.8,280.9 196.9,279.7 197.8,279.9 C198.6,280.0 199.1,281.9 199.8,282.8 C200.4,283.8 201.1,284.8 201.8,285.8 C202.4,286.8 202.9,287.8 203.7,288.8 C204.6,289.8 205.9,291.0 206.7,291.8 C207.6,292.6 207.9,293.4 208.7,293.8 C209.6,294.2 210.9,294.6 211.7,294.4 C212.5,294.2 213.0,292.7 213.7,292.8 C214.4,292.9 215.2,296.1 215.7,294.8 C216.2,293.5 216.5,284.5 216.9,284.8 C217.3,285.2 217.7,296.5 218.1,296.8 C218.5,297.1 218.9,287.2 219.3,286.8 C219.7,286.5 220.1,295.5 220.5,294.8 C220.9,294.1 221.3,282.8 221.7,282.8 C222.1,282.8 222.5,294.5 222.9,294.8 C223.3,295.1 223.7,285.0 224.1,284.8 C224.5,284.7 225.1,292.3 225.3,293.8" stroke="#E69F00" stroke-width="1.35"/>
<path d="M46.6,245.0 L46.6,331.0" stroke="#E69F00" stroke-width="1.3"/>
</g>
<text class="t" x="46.50" y="342.50" font-size="11" text-anchor="middle">0</text>
<text class="t" x="110.50" y="342.50" font-size="11" text-anchor="middle">1</text>
<text class="t" x="174.50" y="342.50" font-size="11" text-anchor="middle">2</text>
<text class="t" x="238.50" y="342.50" font-size="11" text-anchor="middle">3</text>
<text class="t" x="42.80" y="334.00" font-size="11" text-anchor="end">3</text>
<line x1="28.80" y1="330.70" x2="36.80" y2="330.70" stroke="#262626" stroke-width="0.75"/>
<text class="t" x="42.80" y="299.30" font-size="11" text-anchor="end">2</text>
<line x1="28.80" y1="296.00" x2="36.80" y2="296.00" stroke="#262626" stroke-width="0.75"/>
<text class="t" x="42.80" y="264.60" font-size="11" text-anchor="end">1</text>
<line x1="28.80" y1="261.30" x2="36.80" y2="261.30" stroke="#262626" stroke-width="0.75"/>
<text class="t" x="42.80" y="229.90" font-size="11" text-anchor="end">0</text>
<text class="t" x="42.80" y="195.20" font-size="11" text-anchor="end">1</text>
<text x="103.50" y="356.90" font-size="10.5" font-style="italic" textLength="5.6" lengthAdjust="spacingAndGlyphs">&#7819;</text>
<text x="109.20" y="359.20" font-size="7.6" textLength="11.2" lengthAdjust="spacingAndGlyphs">Ref</text>
<text x="121.40" y="356.90" font-size="10.5" textLength="4.8" lengthAdjust="spacingAndGlyphs">/</text>
<text x="127.20" y="356.90" font-size="10.5" textLength="11.0" lengthAdjust="spacingAndGlyphs">10</text>
<text x="140.70" y="356.90" font-size="10.5" textLength="9.6" lengthAdjust="spacingAndGlyphs">in</text>
<text x="153.40" y="356.90" font-size="10.5" textLength="29.4" lengthAdjust="spacingAndGlyphs">km/h</text>
<g transform="translate(13.0,286.80) rotate(-90)"><text x="-0.2" y="0" font-size="10.5" font-style="italic" textLength="5.8" lengthAdjust="spacingAndGlyphs">&#1013;</text><text x="6.4" y="2.4" font-size="8.2" textLength="16.2" lengthAdjust="spacingAndGlyphs">Sim1</text><text x="26.4" y="0" font-size="10.5" textLength="8.6" lengthAdjust="spacingAndGlyphs">in</text><text x="38.3" y="0" font-size="10.5" textLength="14.0" lengthAdjust="spacingAndGlyphs">cm</text></g>
<line x1="332.50" y1="191.5" x2="332.50" y2="330.4" stroke="#f1f1f1" stroke-width="1"/>
<line x1="396.50" y1="191.5" x2="396.50" y2="330.4" stroke="#f1f1f1" stroke-width="1"/>
<line x1="460.50" y1="191.5" x2="460.50" y2="330.4" stroke="#f1f1f1" stroke-width="1"/>
<line x1="300.5" y1="313.50" x2="492.8" y2="313.50" stroke="#f1f1f1" stroke-width="1"/>
<line x1="300.5" y1="278.50" x2="492.8" y2="278.50" stroke="#f1f1f1" stroke-width="1"/>
<line x1="300.5" y1="243.50" x2="492.8" y2="243.50" stroke="#f1f1f1" stroke-width="1"/>
<line x1="300.5" y1="208.50" x2="492.8" y2="208.50" stroke="#f1f1f1" stroke-width="1"/>
<line x1="300.50" y1="191.5" x2="300.50" y2="330.4" stroke="#c8c8c8" stroke-width="1"/>
<line x1="364.50" y1="191.5" x2="364.50" y2="330.4" stroke="#c8c8c8" stroke-width="1"/>
<line x1="428.50" y1="191.5" x2="428.50" y2="330.4" stroke="#c8c8c8" stroke-width="1"/>
<line x1="492.50" y1="191.5" x2="492.50" y2="330.4" stroke="#c8c8c8" stroke-width="1"/>
<line x1="300.5" y1="330.50" x2="492.8" y2="330.50" stroke="#c8c8c8" stroke-width="1"/>
<line x1="300.5" y1="295.50" x2="492.8" y2="295.50" stroke="#c8c8c8" stroke-width="1"/>
<line x1="300.5" y1="260.50" x2="492.8" y2="260.50" stroke="#c8c8c8" stroke-width="1"/>
<line x1="300.5" y1="226.50" x2="492.8" y2="226.50" stroke="#c8c8c8" stroke-width="1"/>
<line x1="300.5" y1="191.50" x2="492.8" y2="191.50" stroke="#c8c8c8" stroke-width="1"/>
<rect x="300.5" y="191.5" width="192.30" height="138.90" fill="none" stroke="#404040" stroke-width="1.0"/>
<clipPath id="c4"><rect x="300.5" y="190.5" width="193.3" height="140.89999999999998"/></clipPath>
<g clip-path="url(#c4)" fill="none" stroke-linejoin="round" stroke-linecap="round">
<path d="M300.4,210.9 C300.7,212.6 301.4,217.7 302.0,220.9 C302.6,224.1 303.1,227.0 304.0,229.9 C304.8,232.7 306.0,235.7 307.0,237.8 C308.0,240.0 308.8,241.6 310.0,242.8 C311.1,244.0 312.3,244.7 313.9,245.2 C315.6,245.7 317.9,245.7 319.9,245.8 C321.9,245.9 323.9,245.8 325.9,245.8 C327.9,245.8 329.9,245.7 331.9,245.8 C333.9,245.9 335.8,246.2 337.8,246.4 C339.8,246.6 341.8,247.1 343.8,247.2 C345.8,247.3 347.8,247.6 349.8,247.2 C351.8,246.8 353.8,246.0 355.8,244.8 C357.8,243.6 359.8,241.5 361.7,239.8 C363.7,238.2 365.7,236.2 367.7,234.8 C369.7,233.5 372.0,232.4 373.7,231.9 C375.4,231.4 376.4,231.5 377.7,231.9 C379.0,232.2 380.3,233.0 381.7,233.8 C383.0,234.7 384.3,235.7 385.6,236.8 C387.0,237.9 388.3,239.4 389.6,240.4 C391.0,241.4 392.4,242.1 393.6,242.8 C394.8,243.5 395.8,243.9 397.0,244.4 C398.2,244.9 399.3,245.3 401.0,245.8 C402.6,246.3 405.0,247.2 407.0,247.2 C408.9,247.2 410.9,246.7 412.9,245.8 C414.9,244.9 416.9,243.0 418.9,241.8 C420.9,240.6 423.2,239.1 424.9,238.4 C426.5,237.8 427.5,237.8 428.9,237.8 C430.2,237.9 431.5,238.3 432.8,238.8 C434.2,239.3 435.5,240.2 436.8,240.8 C438.2,241.5 439.5,242.3 440.8,242.8 C442.1,243.3 443.5,243.5 444.8,243.8 C446.1,244.1 447.5,244.4 448.8,244.4 C450.1,244.4 451.4,244.1 452.8,243.8 C454.1,243.5 455.4,243.0 456.8,242.8 C458.1,242.6 459.4,242.5 460.7,242.8 C462.1,243.1 463.7,244.1 464.7,244.8 C465.7,245.5 466.0,247.9 466.7,247.2 C467.4,246.5 468.0,240.2 468.7,240.8 C469.4,241.4 470.0,251.8 470.7,250.8 C471.4,249.8 472.0,235.8 472.7,234.8 C473.4,233.8 474.2,245.8 474.7,244.8 C475.2,243.8 475.3,228.5 475.7,228.9 C476.0,229.2 476.3,245.8 476.7,246.8 C477.0,247.8 477.7,236.8 477.9,234.8" stroke="#000000" stroke-width="1.35"/>
<path d="M301.0,272.9 C301.3,272.6 302.2,271.7 303.0,270.9 C303.8,270.1 304.8,269.1 306.0,267.9 C307.1,266.7 308.6,265.3 310.0,263.9 C311.3,262.6 312.3,261.3 313.9,259.9 C315.6,258.6 317.9,257.1 319.9,256.0 C321.9,254.9 323.9,253.9 325.9,253.4 C327.9,252.8 329.9,252.6 331.9,252.6 C333.9,252.5 335.8,252.7 337.8,253.0 C339.8,253.2 341.8,253.6 343.8,254.0 C345.8,254.3 347.8,254.6 349.8,255.0 C351.8,255.3 353.8,255.6 355.8,256.0 C357.8,256.3 359.8,256.6 361.7,257.0 C363.7,257.3 365.7,257.5 367.7,257.9 C369.7,258.4 371.7,259.4 373.7,259.9 C375.7,260.5 377.7,260.8 379.7,261.3 C381.7,261.8 383.7,262.5 385.6,262.9 C387.6,263.4 390.1,263.6 391.6,263.9 C393.2,264.3 393.4,265.0 395.0,264.9 C396.6,264.8 399.0,264.0 401.0,263.3 C403.0,262.7 405.0,261.8 407.0,260.9 C408.9,260.0 410.9,258.9 412.9,257.9 C414.9,257.0 416.9,255.8 418.9,255.0 C420.9,254.1 423.2,253.4 424.9,253.0 C426.5,252.6 427.5,252.5 428.9,252.6 C430.2,252.6 431.2,252.8 432.8,253.4 C434.5,253.9 436.8,255.0 438.8,256.0 C440.8,257.0 442.8,258.2 444.8,259.3 C446.8,260.4 448.8,261.5 450.8,262.5 C452.8,263.5 455.1,264.8 456.8,265.3 C458.4,265.9 459.6,266.5 460.7,265.9 C461.9,265.4 462.9,263.8 463.7,261.9 C464.6,260.1 465.1,257.1 465.7,255.0 C466.4,252.8 467.1,250.6 467.7,249.0 C468.3,247.3 468.6,244.3 469.1,245.0 C469.6,245.7 470.2,252.6 470.7,253.0 C471.2,253.3 471.8,246.3 472.3,247.0 C472.8,247.7 473.5,255.3 473.7,257.0" stroke="#000000" stroke-width="1.35"/>
<path d="M300.4,201.0 C300.5,204.0 300.6,212.6 300.8,218.9 C301.0,225.2 301.3,232.8 301.6,238.8 C301.9,244.8 302.4,250.8 302.8,254.8 C303.2,258.7 303.5,261.0 304.0,262.7 C304.4,264.4 304.6,266.9 305.6,264.9 C306.5,263.0 308.3,255.0 309.6,251.0 C310.8,247.0 312.1,243.8 313.3,240.8 C314.6,237.9 315.9,235.5 317.1,233.2 C318.4,231.0 319.6,229.1 320.9,227.5 C322.2,225.9 323.4,224.7 324.7,223.7 C326.0,222.6 327.2,221.8 328.5,221.1 C329.8,220.4 331.2,219.8 332.5,219.5 C333.8,219.2 335.0,219.1 336.2,219.1 C337.5,219.1 338.8,219.2 340.0,219.5 C341.3,219.8 342.5,220.5 343.8,221.1 C345.1,221.7 346.3,221.8 348.0,223.1 C349.7,224.4 352.2,227.1 353.8,228.9 C355.4,230.7 356.4,232.4 357.8,233.8 C359.1,235.3 360.4,236.7 361.7,237.8 C363.1,238.9 364.4,239.8 365.7,240.4 C367.1,241.1 368.4,241.5 369.7,241.8 C371.0,242.1 372.4,242.4 373.7,242.4 C375.0,242.4 376.0,242.2 377.7,241.8 C379.3,241.4 381.7,240.7 383.7,239.8 C385.6,239.0 387.6,237.7 389.6,236.8 C391.6,236.0 394.4,235.8 395.6,234.8 C396.8,233.8 396.1,231.7 397.0,230.9 C397.9,230.0 399.3,230.1 401.0,229.9 C402.6,229.6 405.0,229.1 407.0,229.3 C408.9,229.4 410.9,230.1 412.9,230.9 C414.9,231.6 416.9,232.7 418.9,233.8 C420.9,235.0 422.9,236.5 424.9,237.8 C426.9,239.2 429.2,241.0 430.9,241.8 C432.5,242.6 433.5,243.0 434.8,242.8 C436.2,242.6 437.5,242.0 438.8,240.8 C440.2,239.7 441.5,237.7 442.8,235.8 C444.1,234.0 445.5,231.5 446.8,229.9 C448.1,228.2 449.6,226.8 450.8,225.9 C451.9,225.0 452.8,224.6 453.8,224.5 C454.8,224.4 455.8,224.5 456.8,225.3 C457.7,226.0 458.7,227.3 459.7,228.9 C460.7,230.5 461.7,232.7 462.7,234.8 C463.7,237.0 464.9,239.8 465.7,241.8 C466.5,243.8 467.1,245.3 467.7,246.8 C468.3,248.3 468.7,255.4 469.1,250.8 C469.5,246.1 469.7,227.2 469.9,218.9 C470.1,210.6 470.1,198.3 470.3,201.0 C470.5,203.6 470.7,227.5 470.9,234.8 C471.1,242.1 471.4,246.5 471.7,244.8 C472.0,243.1 472.4,223.2 472.7,224.9 C473.0,226.5 473.4,252.1 473.7,254.8 C474.0,257.4 474.3,240.2 474.7,240.8 C475.0,241.5 475.5,255.8 475.7,258.7" stroke="#56B4E9" stroke-width="1.35"/>
<path d="M300.4,251.0 C300.7,251.8 301.2,254.3 302.0,256.0 C302.7,257.6 303.8,259.6 305.0,260.9 C306.1,262.3 307.5,263.2 309.0,263.9 C310.5,264.7 312.1,265.0 313.9,265.3 C315.8,265.7 317.9,265.9 319.9,265.9 C321.9,265.9 323.9,265.6 325.9,265.3 C327.9,265.1 329.9,264.9 331.9,264.5 C333.9,264.2 335.8,263.7 337.8,263.3 C339.8,263.0 341.8,262.8 343.8,262.5 C345.8,262.3 347.8,262.1 349.8,261.9 C351.8,261.7 353.8,261.5 355.8,261.3 C357.8,261.2 359.8,260.9 361.7,260.9 C363.7,260.9 365.7,261.1 367.7,261.3 C369.7,261.6 371.7,262.1 373.7,262.5 C375.7,263.0 377.7,263.5 379.7,263.9 C381.7,264.3 383.7,264.8 385.6,264.9 C387.6,265.1 390.1,264.6 391.6,264.9 C393.2,265.3 393.4,266.7 395.0,266.9 C396.6,267.1 399.0,266.3 401.0,265.9 C403.0,265.5 405.0,265.1 407.0,264.5 C408.9,264.0 410.9,263.2 412.9,262.5 C414.9,261.9 416.9,261.1 418.9,260.5 C420.9,260.0 423.2,259.6 424.9,259.3 C426.5,259.1 427.5,258.9 428.9,258.9 C430.2,258.9 431.2,259.0 432.8,259.3 C434.5,259.7 436.8,260.3 438.8,260.9 C440.8,261.5 442.8,262.2 444.8,262.9 C446.8,263.7 449.1,264.6 450.8,265.3 C452.4,266.0 453.4,266.7 454.8,267.3 C456.1,267.9 457.4,268.6 458.7,268.9 C460.1,269.2 461.4,269.5 462.7,269.3 C464.1,269.1 465.6,268.6 466.7,267.9 C467.9,267.2 468.9,266.1 469.7,264.9 C470.5,263.8 471.0,260.9 471.7,260.9 C472.4,260.9 473.0,265.3 473.7,264.9 C474.3,264.6 475.3,259.9 475.7,258.9" stroke="#56B4E9" stroke-width="1.35"/>
<path d="M301.2,266.9 C301.4,265.9 301.9,262.6 302.4,260.9 C302.8,259.3 303.2,258.9 304.0,257.0 C304.7,255.0 306.0,251.5 307.0,249.0 C308.0,246.5 308.8,243.2 310.0,241.8 C311.1,240.4 312.3,240.8 313.9,240.4 C315.6,240.0 317.9,239.5 319.9,239.2 C321.9,239.0 323.9,238.9 325.9,238.8 C327.9,238.8 329.9,238.8 331.9,238.8 C333.9,238.8 335.8,238.8 337.8,238.8 C339.8,238.9 341.8,239.2 343.8,239.2 C345.8,239.3 347.8,239.3 349.8,239.2 C351.8,239.2 353.8,238.9 355.8,238.8 C357.8,238.8 359.8,238.7 361.7,238.8 C363.7,239.0 365.7,239.4 367.7,239.8 C369.7,240.2 371.7,240.8 373.7,241.2 C375.7,241.6 377.7,242.3 379.7,242.4 C381.7,242.5 383.7,242.3 385.6,241.8 C387.6,241.3 390.0,240.0 391.6,239.2 C393.3,238.5 394.7,237.7 395.6,237.2 C396.5,236.7 396.1,236.3 397.0,236.2 C397.9,236.2 399.3,236.5 401.0,236.8 C402.6,237.2 405.0,237.9 407.0,238.4 C408.9,238.9 410.9,239.4 412.9,239.8 C414.9,240.3 416.9,240.8 418.9,241.2 C420.9,241.6 422.9,242.0 424.9,242.4 C426.9,242.8 429.2,243.2 430.9,243.8 C432.5,244.4 433.5,244.8 434.8,245.8 C436.2,246.8 437.5,248.3 438.8,249.8 C440.2,251.3 441.5,253.3 442.8,254.8 C444.1,256.3 445.5,257.8 446.8,258.7 C448.1,259.7 449.6,260.3 450.8,260.3 C451.9,260.3 452.8,260.0 453.8,258.7 C454.8,257.5 455.8,254.9 456.8,252.8 C457.7,250.6 458.7,248.0 459.7,245.8 C460.7,243.6 461.7,241.3 462.7,239.8 C463.7,238.3 464.9,237.5 465.7,236.8 C466.5,236.2 467.0,234.8 467.7,235.8 C468.4,236.8 469.1,243.3 469.7,242.8 C470.3,242.3 470.6,233.2 471.1,232.8 C471.6,232.5 472.4,239.5 472.7,240.8" stroke="#E69F00" stroke-width="1.35"/>
<path d="M301.0,257.0 C301.3,258.1 302.2,261.9 303.0,263.9 C303.8,265.9 304.8,267.5 306.0,268.9 C307.1,270.3 308.6,271.7 310.0,272.5 C311.3,273.3 312.6,273.7 313.9,273.9 C315.3,274.1 316.3,274.2 317.9,273.9 C319.6,273.6 321.9,272.7 323.9,271.9 C325.9,271.1 327.9,269.9 329.9,268.9 C331.9,267.9 333.9,266.7 335.8,265.9 C337.8,265.1 339.8,264.4 341.8,263.9 C343.8,263.5 345.8,263.2 347.8,263.3 C349.8,263.4 351.8,264.0 353.8,264.5 C355.8,265.1 357.8,265.8 359.8,266.5 C361.7,267.2 363.7,267.9 365.7,268.5 C367.7,269.1 369.7,269.6 371.7,269.9 C373.7,270.2 375.7,270.5 377.7,270.5 C379.7,270.5 381.7,270.3 383.7,269.9 C385.6,269.5 387.6,268.6 389.6,267.9 C391.6,267.2 394.4,266.7 395.6,265.9 C396.8,265.2 396.1,264.0 397.0,263.3 C397.9,262.7 399.3,262.7 401.0,261.9 C402.6,261.2 405.0,259.9 407.0,258.9 C408.9,257.9 410.9,257.0 412.9,256.0 C414.9,255.0 416.9,254.0 418.9,253.0 C420.9,252.0 423.2,250.8 424.9,250.0 C426.5,249.2 427.2,249.1 428.9,248.0 C430.5,246.9 432.8,244.2 434.8,243.2 C436.8,242.2 438.8,242.1 440.8,242.0 C442.8,241.9 444.8,242.2 446.8,242.4 C448.8,242.6 450.8,243.2 452.8,243.2 C454.8,243.2 456.9,243.0 458.7,242.4 C460.6,241.8 462.2,240.6 463.7,239.8 C465.2,239.1 466.7,237.7 467.7,237.8 C468.7,238.0 469.2,236.6 469.7,240.8 C470.2,245.0 470.5,256.8 470.7,262.9 C470.9,269.1 470.8,278.9 470.9,277.9 C471.0,276.9 471.2,258.4 471.5,257.0 C471.8,255.5 472.2,269.6 472.7,268.9 C473.2,268.2 474.0,255.6 474.3,253.0" stroke="#E69F00" stroke-width="1.35"/>
<path d="M300.8,245.0 L300.8,331.0" stroke="#E69F00" stroke-width="1.3"/>
<path d="M300.4,242.8 C301.0,242.5 302.4,241.5 304.0,240.8 C305.6,240.1 308.0,238.9 310.0,238.4 C311.9,237.9 313.9,237.9 315.9,237.8 C317.9,237.7 319.9,237.7 321.9,237.8 C323.9,237.9 325.9,238.2 327.9,238.4 C329.9,238.7 331.9,238.9 333.9,239.2 C335.8,239.6 337.8,240.1 339.8,240.4 C341.8,240.8 343.8,240.9 345.8,241.2 C347.8,241.5 349.8,242.0 351.8,242.4 C353.8,242.8 355.8,243.4 357.8,243.8 C359.8,244.2 361.7,244.5 363.7,244.8 C365.7,245.1 367.7,245.4 369.7,245.8 C371.7,246.2 373.7,246.9 375.7,247.2 C377.7,247.5 379.7,247.9 381.7,247.8 C383.7,247.7 385.6,247.3 387.6,246.8 C389.6,246.3 392.1,245.6 393.6,244.8 C395.2,244.0 395.8,242.7 397.0,242.0 C398.2,241.3 399.3,241.3 401.0,240.8 C402.6,240.4 405.0,239.6 407.0,239.2 C408.9,238.9 410.9,238.7 412.9,238.8 C414.9,238.9 416.9,239.3 418.9,239.8 C420.9,240.3 422.9,240.8 424.9,241.8 C426.9,242.8 429.2,244.5 430.9,245.8 C432.5,247.1 433.5,248.6 434.8,249.8 C436.2,250.9 437.5,251.9 438.8,252.8 C440.2,253.6 441.5,254.6 442.8,254.8 C444.1,254.9 445.5,254.6 446.8,253.8 C448.1,252.9 449.4,251.3 450.8,249.8 C452.1,248.3 453.4,246.2 454.8,244.8 C456.1,243.4 457.6,242.0 458.7,241.2 C459.9,240.4 460.7,239.7 461.7,239.8 C462.7,239.9 463.7,241.0 464.7,241.8 C465.7,242.6 467.2,244.3 467.7,244.8" stroke="#009E73" stroke-width="1.35"/>
<path d="M300.4,249.0 C301.0,249.5 302.4,250.8 304.0,252.0 C305.6,253.1 308.0,254.6 310.0,256.0 C311.9,257.3 313.9,258.6 315.9,259.9 C317.9,261.3 319.9,262.6 321.9,263.9 C323.9,265.3 325.9,266.7 327.9,267.9 C329.9,269.1 331.9,270.1 333.9,270.9 C335.8,271.7 337.8,272.4 339.8,272.9 C341.8,273.4 343.8,273.9 345.8,273.9 C347.8,273.9 349.8,273.6 351.8,272.9 C353.8,272.2 355.8,271.1 357.8,269.9 C359.8,268.7 361.7,267.2 363.7,265.9 C365.7,264.6 367.7,263.0 369.7,261.9 C371.7,260.8 373.7,259.9 375.7,259.3 C377.7,258.8 379.7,258.5 381.7,258.5 C383.7,258.5 385.6,258.9 387.6,259.3 C389.6,259.7 392.1,260.6 393.6,260.9 C395.2,261.3 395.4,261.7 397.0,261.5 C398.6,261.4 400.6,260.6 403.0,259.9 C405.3,259.2 408.6,258.2 410.9,257.4 C413.3,256.5 414.9,256.0 416.9,255.0 C418.9,253.9 421.2,252.3 422.9,251.0 C424.5,249.6 425.5,247.8 426.9,247.0 C428.2,246.2 429.5,245.8 430.9,246.0 C432.2,246.2 433.2,246.8 434.8,248.0 C436.5,249.2 438.8,251.3 440.8,253.0 C442.8,254.6 444.8,256.5 446.8,257.9 C448.8,259.4 450.8,260.8 452.8,261.9 C454.8,263.1 457.1,264.2 458.7,264.9 C460.4,265.7 461.4,266.5 462.7,266.5 C464.1,266.5 465.6,265.8 466.7,264.9 C467.9,264.0 469.2,261.6 469.7,260.9" stroke="#009E73" stroke-width="1.35"/>
<path d="M300.6,207.0 L300.6,290.0" stroke="#009E73" stroke-width="1.2"/>
<path d="M469.1,244.8 C469.2,240.2 469.5,215.3 469.7,216.9 C469.9,218.6 470.1,253.1 470.3,254.8 C470.5,256.4 470.7,226.2 470.9,226.9 C471.1,227.5 471.3,257.4 471.5,258.7 C471.7,260.1 471.9,235.5 472.1,234.8 C472.3,234.2 472.5,254.1 472.7,254.8 C472.9,255.4 473.1,237.8 473.3,238.8 C473.5,239.8 473.7,260.4 473.9,260.7 C474.1,261.1 474.3,241.5 474.5,240.8 C474.7,240.2 474.9,257.1 475.1,256.8 C475.3,256.4 475.5,237.8 475.7,238.8 C475.9,239.8 476.1,262.1 476.3,262.7 C476.5,263.4 476.7,243.5 476.9,242.8 C477.1,242.1 477.3,259.1 477.5,258.7 C477.7,258.4 477.9,241.5 478.1,240.8 C478.3,240.2 478.6,252.4 478.7,254.8" stroke="#009E73" stroke-width="1.5"/>
<path d="M469.1,253.0 C469.2,251.6 469.5,244.3 469.7,245.0 C469.9,245.7 470.1,256.6 470.3,257.0 C470.5,257.3 470.8,246.3 471.1,247.0 C471.4,247.7 471.6,260.6 471.9,260.9 C472.2,261.3 472.4,248.0 472.7,249.0 C473.0,250.0 473.2,266.6 473.5,266.9 C473.8,267.2 474.0,250.6 474.3,251.0 C474.5,251.3 474.8,268.6 475.1,268.9 C475.3,269.2 475.6,253.6 475.9,253.0 C476.1,252.3 476.4,265.6 476.7,264.9 C476.9,264.3 477.2,249.3 477.5,249.0 C477.7,248.7 478.0,262.3 478.3,262.9 C478.5,263.6 478.8,254.6 478.9,253.0" stroke="#009E73" stroke-width="1.5"/>
</g>
<text class="t" x="300.50" y="342.60" font-size="11" text-anchor="middle">0</text>
<text class="t" x="364.60" y="342.60" font-size="11" text-anchor="middle">1</text>
<text class="t" x="428.70" y="342.60" font-size="11" text-anchor="middle">2</text>
<text class="t" x="492.80" y="342.60" font-size="11" text-anchor="middle">3</text>
<text class="t" x="296.80" y="334.10" font-size="11" text-anchor="end">1</text>
<line x1="282.80" y1="330.80" x2="290.80" y2="330.80" stroke="#262626" stroke-width="0.75"/>
<text class="t" x="296.80" y="299.37" font-size="11" text-anchor="end">0.5</text>
<line x1="274.55" y1="296.07" x2="282.55" y2="296.07" stroke="#262626" stroke-width="0.75"/>
<text class="t" x="296.80" y="264.65" font-size="11" text-anchor="end">0</text>
<text class="t" x="296.80" y="229.92" font-size="11" text-anchor="end">0.5</text>
<text class="t" x="296.80" y="195.20" font-size="11" text-anchor="end">1</text>
<text x="357.65" y="357.00" font-size="10.5" font-style="italic" textLength="5.6" lengthAdjust="spacingAndGlyphs">&#7819;</text>
<text x="363.35" y="359.30" font-size="7.6" textLength="11.2" lengthAdjust="spacingAndGlyphs">Ref</text>
<text x="375.55" y="357.00" font-size="10.5" textLength="4.8" lengthAdjust="spacingAndGlyphs">/</text>
<text x="381.35" y="357.00" font-size="10.5" textLength="11.0" lengthAdjust="spacingAndGlyphs">10</text>
<text x="394.85" y="357.00" font-size="10.5" textLength="9.6" lengthAdjust="spacingAndGlyphs">in</text>
<text x="407.55" y="357.00" font-size="10.5" textLength="29.4" lengthAdjust="spacingAndGlyphs">km/h</text>
<g transform="translate(265.4,286.85) rotate(-90)"><text x="-0.2" y="0" font-size="10.5" font-style="italic" textLength="5.8" lengthAdjust="spacingAndGlyphs">&#1013;</text><text x="6.4" y="2.4" font-size="8.2" textLength="16.2" lengthAdjust="spacingAndGlyphs">Sim2</text><text x="26.4" y="0" font-size="10.5" textLength="8.6" lengthAdjust="spacingAndGlyphs">in</text><text x="38.3" y="0" font-size="10.5" textLength="14.0" lengthAdjust="spacingAndGlyphs">cm</text></g>
<line x1="69.50" y1="372.3" x2="69.50" y2="511.1" stroke="#f1f1f1" stroke-width="1"/>
<line x1="117.50" y1="372.3" x2="117.50" y2="511.1" stroke="#f1f1f1" stroke-width="1"/>
<line x1="165.50" y1="372.3" x2="165.50" y2="511.1" stroke="#f1f1f1" stroke-width="1"/>
<line x1="213.50" y1="372.3" x2="213.50" y2="511.1" stroke="#f1f1f1" stroke-width="1"/>
<line x1="45.5" y1="490.50" x2="238.0" y2="490.50" stroke="#f1f1f1" stroke-width="1"/>
<line x1="45.5" y1="449.50" x2="238.0" y2="449.50" stroke="#f1f1f1" stroke-width="1"/>
<line x1="45.5" y1="409.50" x2="238.0" y2="409.50" stroke="#f1f1f1" stroke-width="1"/>
<line x1="45.50" y1="372.3" x2="45.50" y2="511.1" stroke="#c8c8c8" stroke-width="1"/>
<line x1="93.50" y1="372.3" x2="93.50" y2="511.1" stroke="#c8c8c8" stroke-width="1"/>
<line x1="141.50" y1="372.3" x2="141.50" y2="511.1" stroke="#c8c8c8" stroke-width="1"/>
<line x1="189.50" y1="372.3" x2="189.50" y2="511.1" stroke="#c8c8c8" stroke-width="1"/>
<line x1="238.50" y1="372.3" x2="238.50" y2="511.1" stroke="#c8c8c8" stroke-width="1"/>
<line x1="45.5" y1="511.50" x2="238.0" y2="511.50" stroke="#c8c8c8" stroke-width="1"/>
<line x1="45.5" y1="470.50" x2="238.0" y2="470.50" stroke="#c8c8c8" stroke-width="1"/>
<line x1="45.5" y1="429.50" x2="238.0" y2="429.50" stroke="#c8c8c8" stroke-width="1"/>
<line x1="45.5" y1="388.50" x2="238.0" y2="388.50" stroke="#c8c8c8" stroke-width="1"/>
<rect x="45.5" y="372.3" width="192.50" height="138.80" fill="none" stroke="#404040" stroke-width="1.0"/>
<clipPath id="c5"><rect x="45.5" y="371.3" width="193.5" height="140.8"/></clipPath>
<g clip-path="url(#c5)" fill="none" stroke-linejoin="round" stroke-linecap="round">
<path d="M45.8,415.8 C45.8,413.5 45.8,405.5 46.0,401.9 C46.2,398.2 46.7,394.2 47.0,393.9 C47.3,393.6 47.6,399.5 48.0,399.9 C48.3,400.2 48.5,397.6 49.0,395.9 C49.5,394.2 50.4,391.1 51.0,389.9 C51.6,388.8 52.1,388.3 52.6,388.9 C53.1,389.6 53.5,392.1 54.0,393.9 C54.4,395.7 54.9,399.4 55.4,399.9 C55.8,400.4 56.3,397.6 56.9,396.9 C57.5,396.2 58.3,395.6 58.9,395.9 C59.6,396.2 60.3,397.9 60.9,398.9 C61.6,399.9 62.3,401.5 62.9,401.9 C63.6,402.2 64.2,400.9 64.9,400.9 C65.6,400.9 66.2,401.4 66.9,401.9 C67.6,402.4 68.1,403.7 68.9,403.9 C69.7,404.0 70.9,403.2 71.9,402.9 C72.9,402.5 73.7,402.2 74.9,401.9 C76.0,401.5 77.5,401.2 78.9,400.9 C80.2,400.5 81.5,400.4 82.8,399.9 C84.2,399.4 85.5,398.4 86.8,397.9 C88.2,397.4 89.5,397.4 90.8,396.9 C92.1,396.4 93.5,395.7 94.8,394.9 C96.1,394.1 97.4,392.8 98.8,391.9 C100.1,391.0 101.6,390.0 102.8,389.5 C103.9,389.0 104.8,388.9 105.7,388.9 C106.7,389.0 107.6,389.3 108.7,389.9 C109.9,390.6 111.4,391.6 112.7,392.9 C114.0,394.2 115.4,396.2 116.7,397.9 C118.0,399.5 119.5,401.4 120.7,402.9 C121.9,404.4 122.7,405.9 123.7,406.9 C124.7,407.8 125.7,408.7 126.7,408.8 C127.7,409.0 128.7,408.7 129.7,407.8 C130.6,407.0 131.6,405.4 132.6,403.9 C133.6,402.4 134.6,399.9 135.6,398.9 C136.6,397.9 137.4,397.7 138.6,397.9 C139.8,398.1 142.1,399.2 143.0,399.9 C143.9,400.5 143.2,400.9 144.0,401.9 C144.8,402.9 146.6,405.7 148.0,405.9 C149.3,406.0 150.6,403.7 152.0,402.9 C153.3,402.0 154.6,401.0 155.9,400.9 C157.3,400.7 158.6,401.3 159.9,401.9 C161.2,402.4 162.6,403.5 163.9,404.3 C165.2,405.0 166.6,406.3 167.9,406.3 C169.2,406.2 170.5,404.9 171.9,403.9 C173.2,402.8 174.5,401.5 175.9,399.9 C177.2,398.2 178.7,396.1 179.8,393.9 C181.0,391.7 181.8,388.7 182.8,386.9 C183.8,385.2 184.8,383.9 185.8,383.5 C186.8,383.2 188.0,384.2 188.8,384.9 C189.6,385.7 190.1,388.1 190.8,387.9 C191.5,387.8 192.1,384.4 192.8,383.9 C193.5,383.4 194.1,383.9 194.8,384.9 C195.4,385.9 195.9,387.4 196.8,389.9 C197.6,392.4 198.8,396.9 199.8,399.9 C200.8,402.9 201.6,406.4 202.7,407.8 C203.9,409.3 205.6,408.5 206.7,408.8 C207.9,409.2 208.7,409.3 209.7,409.8 C210.7,410.3 211.7,410.5 212.7,411.8 C213.7,413.2 214.7,415.8 215.7,417.8 C216.7,419.8 217.9,423.8 218.7,423.8 C219.5,423.8 220.0,420.5 220.7,417.8 C221.3,415.2 222.0,411.2 222.7,407.8 C223.3,404.5 224.0,400.9 224.7,397.9 C225.3,394.9 226.2,391.6 226.7,389.9 C227.2,388.3 227.3,386.3 227.6,387.9 C228.0,389.6 228.4,392.9 228.6,399.9 C228.9,406.9 229.1,424.8 229.2,429.8" stroke="#E69F00" stroke-width="1.35"/>
<path d="M45.8,429.8 C46.2,430.4 47.1,432.9 48.0,433.7 C48.8,434.6 50.0,434.9 51.0,434.7 C52.0,434.6 53.0,433.4 54.0,432.7 C55.0,432.1 55.9,431.6 56.9,430.8 C57.9,429.9 58.9,428.6 59.9,427.8 C60.9,426.9 61.8,426.3 62.9,425.8 C64.1,425.3 65.6,424.8 66.9,424.8 C68.2,424.8 69.6,425.4 70.9,425.8 C72.2,426.1 73.5,426.5 74.9,426.8 C76.2,427.0 77.5,427.0 78.9,427.4 C80.2,427.7 81.5,428.4 82.8,428.8 C84.2,429.2 85.5,429.4 86.8,429.8 C88.2,430.1 89.5,430.8 90.8,430.8 C92.1,430.8 93.5,430.3 94.8,429.8 C96.1,429.3 97.4,428.5 98.8,427.8 C100.1,427.0 101.4,426.1 102.8,425.4 C104.1,424.6 105.4,424.1 106.7,423.4 C108.1,422.7 109.4,422.0 110.7,421.4 C112.1,420.8 113.4,420.1 114.7,419.8 C116.0,419.5 117.4,419.6 118.7,419.8 C120.0,420.0 121.4,420.4 122.7,420.8 C124.0,421.2 125.3,421.9 126.7,422.2 C128.0,422.5 129.3,423.0 130.6,422.8 C132.0,422.6 133.3,421.6 134.6,420.8 C136.0,420.0 137.2,418.6 138.6,417.8 C140.0,417.0 142.1,415.8 143.0,415.8 C143.9,415.8 143.2,417.1 144.0,417.8 C144.8,418.5 146.6,419.1 148.0,419.8 C149.3,420.5 150.6,421.2 152.0,421.8 C153.3,422.4 154.6,423.2 155.9,423.4 C157.3,423.6 158.6,423.2 159.9,422.8 C161.2,422.4 162.6,421.5 163.9,420.8 C165.2,420.1 166.6,419.5 167.9,418.8 C169.2,418.1 170.5,417.5 171.9,416.8 C173.2,416.1 174.5,415.3 175.9,414.8 C177.2,414.4 178.5,414.2 179.8,414.2 C181.2,414.2 182.5,414.5 183.8,414.8 C185.2,415.2 186.5,415.6 187.8,416.2 C189.1,416.9 190.5,417.9 191.8,418.8 C193.1,419.7 194.4,421.0 195.8,421.8 C197.1,422.6 198.4,423.5 199.8,423.8 C201.1,424.1 202.4,423.1 203.7,423.4 C205.1,423.7 206.6,424.4 207.7,425.8 C208.9,427.2 209.9,430.3 210.7,431.8 C211.5,433.2 212.0,434.4 212.7,434.7 C213.4,435.1 213.9,434.9 214.7,433.7 C215.5,432.6 216.7,430.1 217.7,427.8 C218.7,425.4 219.7,423.1 220.7,419.8 C221.7,416.5 222.8,412.2 223.7,407.8 C224.5,403.5 225.0,397.6 225.7,393.9 C226.3,390.3 227.2,383.3 227.6,385.9 C228.1,388.6 228.2,401.5 228.4,409.8 C228.7,418.1 228.9,431.4 229.0,435.7" stroke="#E69F00" stroke-width="1.35"/>
<path d="M45.8,435.7 C46.3,435.1 47.9,432.7 49.0,431.8 C50.0,430.8 51.0,430.4 52.0,429.8 C53.0,429.1 53.8,428.6 55.0,427.8 C56.1,426.9 57.6,425.5 58.9,424.8 C60.3,424.1 61.6,423.9 62.9,423.4 C64.2,422.9 65.6,422.6 66.9,421.8 C68.2,421.0 69.6,420.0 70.9,418.8 C72.2,417.6 73.5,416.1 74.9,414.8 C76.2,413.5 77.5,412.2 78.9,410.8 C80.2,409.5 81.5,408.2 82.8,406.9 C84.2,405.5 85.5,403.9 86.8,402.9 C88.2,401.9 89.5,401.4 90.8,400.9 C92.1,400.3 93.5,399.4 94.8,399.5 C96.1,399.6 97.4,400.6 98.8,401.5 C100.1,402.4 101.4,404.8 102.8,404.9 C104.1,404.9 105.4,402.7 106.7,401.9 C108.1,401.0 109.4,400.0 110.7,399.9 C112.1,399.7 113.4,400.0 114.7,400.9 C116.0,401.7 117.4,403.4 118.7,404.9 C120.0,406.4 121.4,408.5 122.7,409.8 C124.0,411.2 125.3,412.0 126.7,412.8 C128.0,413.7 129.3,414.3 130.6,414.8 C132.0,415.3 133.3,416.0 134.6,415.8 C136.0,415.7 137.2,414.5 138.6,413.8 C140.0,413.2 142.1,411.8 143.0,411.8 C143.9,411.8 143.2,413.2 144.0,413.8 C144.8,414.5 146.6,416.0 148.0,415.8 C149.3,415.7 150.6,413.7 152.0,412.8 C153.3,412.0 154.8,410.8 155.9,410.8 C157.1,410.8 157.9,411.8 158.9,412.8 C159.9,413.8 160.8,415.7 161.9,416.8 C163.1,418.0 164.6,419.0 165.9,419.8 C167.2,420.6 168.6,421.7 169.9,421.4 C171.2,421.1 172.5,419.7 173.9,417.8 C175.2,415.9 176.5,412.0 177.8,409.8 C179.2,407.7 180.5,406.0 181.8,404.9 C183.2,403.7 184.5,403.2 185.8,402.9 C187.1,402.5 188.5,402.4 189.8,402.9 C191.1,403.4 192.5,404.2 193.8,405.9 C195.1,407.5 196.4,410.8 197.8,412.8 C199.1,414.8 200.4,416.3 201.8,417.8 C203.1,419.3 204.4,420.8 205.7,421.8 C207.1,422.8 208.4,423.3 209.7,423.8 C211.0,424.3 212.4,424.5 213.7,424.8 C215.0,425.0 216.4,426.2 217.7,425.4 C219.0,424.5 220.5,422.7 221.7,419.8 C222.8,416.9 223.8,412.2 224.7,407.8 C225.5,403.5 226.1,398.6 226.7,393.9 C227.2,389.3 227.7,377.3 228.0,380.0 C228.4,382.6 228.6,400.5 228.8,409.8 C229.1,419.1 229.5,431.4 229.6,435.7" stroke="#009E73" stroke-width="1.35"/>
<path d="M45.6,432.0 C45.6,433.6 45.4,439.9 45.8,441.9 C46.2,443.9 47.1,443.9 48.0,443.9 C48.8,443.9 50.0,442.7 51.0,441.9 C52.0,441.1 52.8,439.9 54.0,438.9 C55.1,437.9 56.6,436.6 57.9,435.9 C59.3,435.3 60.6,435.0 61.9,434.9 C63.3,434.9 64.6,435.2 65.9,435.5 C67.2,435.9 68.6,436.5 69.9,436.9 C71.2,437.3 72.5,437.8 73.9,437.9 C75.2,438.0 76.4,437.9 77.9,437.5 C79.4,437.2 81.3,436.5 82.8,435.9 C84.3,435.4 85.5,434.8 86.8,434.3 C88.2,433.8 89.5,433.3 90.8,432.9 C92.1,432.6 93.5,432.4 94.8,432.4 C96.1,432.4 97.4,432.7 98.8,432.9 C100.1,433.2 101.4,433.7 102.8,433.9 C104.1,434.2 105.4,434.2 106.7,434.3 C108.1,434.5 109.4,434.7 110.7,434.9 C112.1,435.1 113.4,435.4 114.7,435.5 C116.0,435.6 117.4,435.6 118.7,435.5 C120.0,435.5 121.4,435.3 122.7,435.1 C124.0,434.9 125.3,434.6 126.7,434.3 C128.0,434.1 129.3,433.7 130.6,433.5 C132.0,433.3 133.3,433.1 134.6,433.1 C136.0,433.1 137.2,433.3 138.6,433.5 C140.0,433.7 141.8,434.1 143.0,434.3 C144.2,434.6 144.5,434.5 146.0,434.9 C147.5,435.4 150.0,436.3 152.0,436.9 C153.9,437.6 155.9,438.4 157.9,438.9 C159.9,439.4 161.9,440.2 163.9,439.9 C165.9,439.7 167.9,438.5 169.9,437.5 C171.9,436.5 173.9,434.9 175.9,433.9 C177.8,432.9 179.8,432.2 181.8,431.6 C183.8,430.9 186.0,430.3 187.8,430.0 C189.6,429.6 191.5,429.2 192.8,429.6 C194.1,429.9 194.8,430.6 195.8,432.0 C196.8,433.3 197.8,435.9 198.8,437.9 C199.8,439.9 200.8,441.9 201.8,443.9 C202.7,445.9 203.7,448.2 204.7,449.9 C205.7,451.5 206.6,452.7 207.7,453.9 C208.9,455.0 210.4,456.2 211.7,456.9 C213.0,457.5 214.5,458.3 215.7,457.8 C216.9,457.4 217.9,456.2 218.7,453.9 C219.5,451.5 220.0,447.2 220.7,443.9 C221.3,440.6 222.0,436.9 222.7,433.9 C223.3,431.0 224.1,428.3 224.7,426.0 C225.2,423.7 225.7,421.4 226.1,420.0 C226.4,418.6 226.6,421.2 226.9,417.8 C227.1,414.5 227.4,399.2 227.6,399.9 C227.9,400.5 228.3,418.1 228.4,421.8" stroke="#009E73" stroke-width="1.35"/>
<path d="M45.6,499.7 C45.6,498.1 45.6,492.6 45.8,489.9 C46.0,487.3 46.5,485.8 47.0,483.7 C47.5,481.7 48.3,478.4 49.0,477.8 C49.6,477.1 50.3,480.8 51.0,479.8 C51.6,478.8 52.3,473.3 53.0,471.8 C53.6,470.3 54.3,470.3 55.0,470.8 C55.6,471.3 56.3,474.0 56.9,474.8 C57.6,475.6 58.3,475.9 58.9,475.8 C59.6,475.6 60.3,473.6 60.9,473.8 C61.6,474.0 62.3,475.9 62.9,476.8 C63.6,477.6 64.2,478.6 64.9,478.8 C65.6,478.9 66.2,477.7 66.9,477.8 C67.6,477.9 68.2,479.2 68.9,479.4 C69.6,479.5 70.2,479.0 70.9,478.8 C71.6,478.5 72.2,478.1 72.9,477.8 C73.5,477.4 74.0,477.4 74.9,476.8 C75.7,476.1 76.9,474.7 77.9,473.8 C78.9,472.9 79.9,472.4 80.8,471.4 C81.8,470.4 82.8,469.4 83.8,467.8 C84.8,466.2 85.8,464.2 86.8,461.8 C87.8,459.5 88.8,456.5 89.8,453.9 C90.8,451.2 91.8,448.6 92.8,445.9 C93.8,443.2 94.8,440.6 95.8,437.9 C96.8,435.3 97.8,432.5 98.8,430.0 C99.8,427.5 100.8,424.7 101.8,423.0 C102.8,421.3 103.9,421.3 104.8,419.8 C105.6,418.3 105.7,416.1 106.7,413.8 C107.7,411.5 109.6,407.6 110.7,405.9 C111.9,404.1 112.7,403.7 113.7,403.5 C114.7,403.2 115.7,403.5 116.7,404.3 C117.7,405.0 118.7,406.6 119.7,407.8 C120.7,409.1 121.5,411.2 122.7,411.8 C123.8,412.5 125.3,411.7 126.7,411.8 C128.0,412.0 129.3,411.8 130.6,412.8 C132.0,413.8 133.3,416.1 134.6,417.8 C136.0,419.5 137.2,421.8 138.6,422.8 C140.0,423.8 142.1,423.9 143.0,423.8 C143.9,423.7 143.2,422.0 144.0,422.4 C144.8,422.8 146.6,424.5 148.0,426.0 C149.3,427.4 150.6,429.5 152.0,431.0 C153.3,432.5 154.6,433.8 155.9,434.9 C157.3,436.1 158.6,436.9 159.9,437.9 C161.2,438.9 162.6,439.1 163.9,440.9 C165.2,442.7 166.9,446.4 167.9,448.9 C168.9,451.4 169.2,454.5 169.9,455.9 C170.5,457.2 171.2,457.5 171.9,456.9 C172.5,456.2 173.2,454.0 173.9,451.9 C174.5,449.7 175.2,446.9 175.9,443.9 C176.5,440.9 177.2,436.9 177.8,433.9 C178.5,431.0 179.2,428.3 179.8,426.0 C180.5,423.7 181.2,421.5 181.8,420.0 C182.5,418.5 183.0,417.6 183.8,416.8 C184.7,416.0 185.8,415.3 186.8,415.4 C187.8,415.5 188.8,416.8 189.8,417.4 C190.8,418.0 191.8,418.7 192.8,418.8 C193.8,418.9 194.8,418.1 195.8,417.8 C196.8,417.5 197.8,417.3 198.8,416.8 C199.8,416.3 200.8,415.0 201.8,414.8 C202.7,414.7 203.7,415.1 204.7,415.8 C205.7,416.6 206.6,418.2 207.7,419.4 C208.9,420.6 210.4,421.9 211.7,422.8 C213.0,423.7 214.5,424.1 215.7,424.8 C216.9,425.4 217.7,426.6 218.7,426.8 C219.7,426.9 220.8,427.3 221.7,425.8 C222.5,424.3 223.1,420.8 223.7,417.8 C224.3,414.8 224.8,407.5 225.3,407.8 C225.8,408.2 226.1,416.1 226.7,419.8 C227.2,423.5 228.1,426.4 228.6,429.8 C229.1,433.1 229.5,438.2 229.6,439.9" stroke="#000000" stroke-width="1.35"/>
<path d="M45.8,443.9 C46.0,444.7 46.5,447.6 47.0,448.9 C47.5,450.2 48.1,451.5 49.0,451.9 C49.8,452.2 51.0,451.7 52.0,450.9 C53.0,450.0 53.8,448.6 55.0,446.9 C56.1,445.2 57.6,442.7 58.9,440.9 C60.3,439.1 61.6,437.4 62.9,435.9 C64.2,434.5 65.6,433.3 66.9,432.4 C68.2,431.4 69.6,430.5 70.9,430.0 C72.2,429.4 73.5,428.9 74.9,429.0 C76.2,429.0 77.5,429.7 78.9,430.4 C80.2,431.0 81.5,432.0 82.8,432.9 C84.2,433.9 85.5,435.1 86.8,435.9 C88.2,436.8 89.5,437.5 90.8,437.9 C92.1,438.4 93.5,438.5 94.8,438.5 C96.1,438.6 97.4,438.5 98.8,438.3 C100.1,438.2 101.4,437.8 102.8,437.5 C104.1,437.3 105.4,436.9 106.7,436.9 C108.1,437.0 109.4,437.4 110.7,437.9 C112.1,438.4 113.4,439.3 114.7,439.9 C116.0,440.6 117.4,441.3 118.7,441.9 C120.0,442.5 121.4,443.0 122.7,443.5 C124.0,444.0 125.3,444.4 126.7,444.9 C128.0,445.4 129.3,446.0 130.6,446.3 C132.0,446.6 133.3,447.0 134.6,446.9 C136.0,446.8 137.2,446.2 138.6,445.9 C140.0,445.6 142.1,445.1 143.0,444.9 C143.9,444.7 143.2,444.6 144.0,444.9 C144.8,445.2 146.6,446.4 148.0,446.9 C149.3,447.4 150.6,447.7 152.0,447.9 C153.3,448.1 154.6,448.2 155.9,447.9 C157.3,447.6 158.6,446.6 159.9,445.9 C161.2,445.2 162.6,444.3 163.9,443.9 C165.2,443.5 166.6,443.3 167.9,443.5 C169.2,443.7 170.5,444.2 171.9,444.9 C173.2,445.6 174.5,446.6 175.9,447.9 C177.2,449.2 178.5,451.0 179.8,452.9 C181.2,454.7 182.5,456.7 183.8,458.8 C185.2,461.0 186.6,464.0 187.8,465.8 C189.0,467.6 189.8,469.5 190.8,469.8 C191.8,470.1 192.8,468.8 193.8,467.8 C194.8,466.8 195.8,465.5 196.8,463.8 C197.8,462.2 198.8,459.8 199.8,457.8 C200.8,455.9 201.8,453.9 202.7,451.9 C203.7,449.9 204.9,447.2 205.7,445.9 C206.6,444.6 207.1,444.3 207.7,444.3 C208.4,444.3 209.1,444.6 209.7,445.9 C210.4,447.2 211.0,449.5 211.7,451.9 C212.4,454.2 213.0,456.5 213.7,459.8 C214.4,463.2 215.0,468.5 215.7,471.8 C216.4,475.1 217.0,477.6 217.7,479.8 C218.4,481.9 219.0,484.4 219.7,484.7 C220.3,485.1 221.0,484.2 221.7,481.8 C222.3,479.3 223.0,474.1 223.7,469.8 C224.3,465.5 225.0,460.2 225.7,455.9 C226.3,451.5 227.0,447.9 227.6,443.9 C228.3,439.9 229.1,435.9 229.6,432.0 C230.1,428.0 230.4,419.4 230.6,420.0 C230.9,420.6 231.1,433.1 231.2,435.7" stroke="#000000" stroke-width="1.35"/>
<path d="M45.8,442.9 C46.2,443.0 47.1,443.6 48.0,443.5 C48.8,443.4 49.8,442.6 51.0,442.3 C52.1,442.0 53.6,441.7 55.0,441.5 C56.3,441.3 57.6,440.9 58.9,440.9 C60.3,440.9 61.6,441.2 62.9,441.5 C64.2,441.8 65.6,442.6 66.9,442.9 C68.2,443.2 69.6,443.3 70.9,443.5 C72.2,443.7 73.5,443.9 74.9,443.9 C76.2,443.9 77.5,443.5 78.9,443.5 C80.2,443.5 81.5,443.7 82.8,443.9 C84.2,444.1 85.5,444.6 86.8,444.9 C88.2,445.2 89.5,445.3 90.8,445.5 C92.1,445.7 93.5,445.8 94.8,445.9 C96.1,446.0 97.4,446.0 98.8,445.9 C100.1,445.8 101.4,445.5 102.8,445.5 C104.1,445.5 105.4,445.9 106.7,445.9 C108.1,445.9 109.4,445.4 110.7,445.5 C112.1,445.6 113.4,446.0 114.7,446.3 C116.0,446.6 117.4,447.2 118.7,447.5 C120.0,447.8 121.4,447.7 122.7,447.9 C124.0,448.1 125.3,448.6 126.7,448.9 C128.0,449.2 129.3,449.5 130.6,449.9 C132.0,450.2 133.3,451.2 134.6,450.9 C136.0,450.5 137.2,448.7 138.6,447.9 C140.0,447.1 142.1,446.9 143.0,445.9 C143.9,444.9 143.2,443.4 144.0,441.9 C144.8,440.4 146.6,438.4 148.0,436.9 C149.3,435.4 150.6,433.7 152.0,432.9 C153.3,432.2 154.6,432.0 155.9,432.4 C157.3,432.7 158.6,434.7 159.9,434.9 C161.2,435.2 162.6,434.3 163.9,433.9 C165.2,433.6 166.6,433.2 167.9,432.9 C169.2,432.7 170.7,432.3 171.9,432.4 C173.0,432.5 174.0,432.6 174.9,433.5 C175.7,434.5 176.2,435.9 176.9,437.9 C177.5,440.0 178.2,443.1 178.8,445.9 C179.5,448.7 180.2,452.5 180.8,454.9 C181.5,457.2 182.0,459.5 182.8,459.8 C183.7,460.2 184.8,458.5 185.8,456.9 C186.8,455.2 188.0,452.0 188.8,449.9 C189.6,447.7 190.1,445.4 190.8,443.9 C191.5,442.4 192.1,440.8 192.8,440.9 C193.5,441.1 194.1,443.4 194.8,444.9 C195.4,446.4 195.9,448.7 196.8,449.9 C197.6,451.0 198.8,451.0 199.8,451.9 C200.8,452.7 201.8,453.9 202.7,454.9 C203.7,455.9 204.7,457.0 205.7,457.8 C206.7,458.7 207.9,460.2 208.7,459.8 C209.6,459.5 210.1,457.5 210.7,455.9 C211.4,454.2 212.0,451.9 212.7,449.9 C213.4,447.9 214.0,445.9 214.7,443.9 C215.4,441.9 216.0,439.6 216.7,437.9 C217.4,436.3 218.0,434.8 218.7,433.9 C219.3,433.1 220.0,432.6 220.7,432.9 C221.3,433.3 222.0,434.8 222.7,435.9 C223.3,437.1 224.2,437.6 224.7,439.9 C225.2,442.2 225.3,445.6 225.7,449.9 C226.0,454.2 226.3,464.8 226.7,465.8 C227.0,466.8 227.5,457.5 227.6,455.9" stroke="#56B4E9" stroke-width="1.35"/>
<path d="M45.6,485.7 C45.6,485.4 45.6,486.1 45.8,483.7 C46.0,481.4 46.5,474.8 47.0,471.8 C47.5,468.8 48.3,467.5 49.0,465.8 C49.6,464.2 50.3,463.2 51.0,461.8 C51.6,460.5 52.3,458.7 53.0,457.8 C53.6,457.0 54.3,457.2 55.0,456.9 C55.6,456.5 56.3,456.4 56.9,455.9 C57.6,455.4 58.3,454.0 58.9,453.9 C59.6,453.7 60.3,455.0 60.9,454.9 C61.6,454.7 62.3,453.7 62.9,452.9 C63.6,452.0 64.2,450.7 64.9,449.9 C65.6,449.1 66.2,448.4 66.9,447.9 C67.6,447.4 68.2,447.2 68.9,446.9 C69.6,446.6 69.9,446.3 70.9,445.9 C71.9,445.5 73.5,444.6 74.9,444.3 C76.2,444.0 77.5,444.0 78.9,443.9 C80.2,443.8 81.5,443.6 82.8,443.9 C84.2,444.2 85.5,444.9 86.8,445.9 C88.2,446.9 89.5,448.6 90.8,449.9 C92.1,451.2 93.5,453.0 94.8,453.9 C96.1,454.7 97.4,454.6 98.8,454.9 C100.1,455.1 101.4,455.2 102.8,455.5 C104.1,455.7 105.4,456.2 106.7,456.3 C108.1,456.3 109.4,456.2 110.7,455.9 C112.1,455.5 113.4,454.3 114.7,454.3 C116.0,454.3 117.4,455.8 118.7,455.9 C120.0,456.0 121.4,454.7 122.7,454.9 C124.0,455.0 125.3,456.2 126.7,456.9 C128.0,457.5 129.3,459.0 130.6,458.8 C132.0,458.7 133.3,456.5 134.6,455.9 C136.0,455.2 137.2,454.7 138.6,454.9 C140.0,455.0 142.1,456.4 143.0,456.9 C143.9,457.3 143.5,457.1 144.0,457.5 C144.5,457.8 144.6,458.1 146.0,458.8 C147.3,459.6 150.0,461.0 152.0,461.8 C153.9,462.7 155.9,463.1 157.9,463.8 C159.9,464.6 161.9,465.2 163.9,466.2 C165.9,467.2 168.2,468.8 169.9,469.8 C171.5,470.8 172.4,472.2 173.9,472.2 C175.3,472.2 177.4,471.3 178.7,469.7 C179.9,468.2 180.6,464.6 181.4,462.9 C182.1,461.3 182.6,460.7 183.2,459.9 C183.8,459.1 184.4,458.5 185.0,458.1 C185.6,457.7 186.2,457.4 186.8,457.5 C187.3,457.7 187.8,457.8 188.5,459.0 C189.3,460.1 190.2,462.5 191.2,464.3 C192.3,466.1 193.6,467.9 194.8,469.7 C196.0,471.5 197.4,473.0 198.4,475.1 C199.5,477.2 200.2,479.9 201.1,482.3 C202.0,484.7 202.9,487.3 203.8,489.4 C204.7,491.5 205.6,494.1 206.5,494.8 C207.4,495.6 208.3,494.5 209.2,493.9 C210.1,493.3 211.0,492.3 211.9,491.2 C212.7,490.2 213.6,489.3 214.5,487.6 C215.4,486.0 216.3,484.1 217.2,481.4 C218.1,478.7 219.2,474.4 219.9,471.5 C220.7,468.7 221.1,466.1 221.7,464.3 C222.3,462.5 222.9,461.1 223.5,460.8 C224.1,460.5 224.7,461.7 225.3,462.5 C225.9,463.4 226.5,466.7 227.1,466.1 C227.7,465.5 228.6,460.2 228.9,459.0" stroke="#56B4E9" stroke-width="1.35"/>
</g>
<text class="t" x="45.50" y="523.30" font-size="11" text-anchor="middle">0</text>
<text class="t" x="93.62" y="523.30" font-size="11" text-anchor="middle">2</text>
<text class="t" x="141.75" y="523.30" font-size="11" text-anchor="middle">4</text>
<text class="t" x="189.88" y="523.30" font-size="11" text-anchor="middle">6</text>
<text class="t" x="238.00" y="523.30" font-size="11" text-anchor="middle">8</text>
<text class="t" x="41.80" y="514.80" font-size="11" text-anchor="end">10</text>
<line x1="22.30" y1="511.50" x2="30.30" y2="511.50" stroke="#262626" stroke-width="0.75"/>
<text class="t" x="41.80" y="473.98" font-size="11" text-anchor="end">5</text>
<line x1="27.80" y1="470.68" x2="35.80" y2="470.68" stroke="#262626" stroke-width="0.75"/>
<text class="t" x="41.80" y="433.15" font-size="11" text-anchor="end">0</text>
<text class="t" x="41.80" y="392.33" font-size="11" text-anchor="end">5</text>
<text x="102.75" y="537.70" font-size="10.5" font-style="italic" textLength="5.6" lengthAdjust="spacingAndGlyphs">&#7819;</text>
<text x="108.45" y="540.00" font-size="7.6" textLength="11.2" lengthAdjust="spacingAndGlyphs">Ref</text>
<text x="120.65" y="537.70" font-size="10.5" textLength="4.8" lengthAdjust="spacingAndGlyphs">/</text>
<text x="126.45" y="537.70" font-size="10.5" textLength="11.0" lengthAdjust="spacingAndGlyphs">10</text>
<text x="139.95" y="537.70" font-size="10.5" textLength="9.6" lengthAdjust="spacingAndGlyphs">in</text>
<text x="152.65" y="537.70" font-size="10.5" textLength="29.4" lengthAdjust="spacingAndGlyphs">km/h</text>
<g transform="translate(12.5,467.60) rotate(-90)"><text x="-0.2" y="0" font-size="10.5" font-style="italic" textLength="5.8" lengthAdjust="spacingAndGlyphs">&#1013;</text><text x="6.4" y="2.4" font-size="8.2" textLength="16.2" lengthAdjust="spacingAndGlyphs">Sim1</text><text x="26.4" y="0" font-size="10.5" textLength="8.6" lengthAdjust="spacingAndGlyphs">in</text><text x="38.3" y="0" font-size="10.5" textLength="14.0" lengthAdjust="spacingAndGlyphs">cm</text></g>
<line x1="324.50" y1="372.2" x2="324.50" y2="511.1" stroke="#f1f1f1" stroke-width="1"/>
<line x1="372.50" y1="372.2" x2="372.50" y2="511.1" stroke="#f1f1f1" stroke-width="1"/>
<line x1="420.50" y1="372.2" x2="420.50" y2="511.1" stroke="#f1f1f1" stroke-width="1"/>
<line x1="468.50" y1="372.2" x2="468.50" y2="511.1" stroke="#f1f1f1" stroke-width="1"/>
<line x1="300.5" y1="493.50" x2="492.8" y2="493.50" stroke="#f1f1f1" stroke-width="1"/>
<line x1="300.5" y1="459.50" x2="492.8" y2="459.50" stroke="#f1f1f1" stroke-width="1"/>
<line x1="300.5" y1="424.50" x2="492.8" y2="424.50" stroke="#f1f1f1" stroke-width="1"/>
<line x1="300.5" y1="389.50" x2="492.8" y2="389.50" stroke="#f1f1f1" stroke-width="1"/>
<line x1="300.50" y1="372.2" x2="300.50" y2="511.1" stroke="#c8c8c8" stroke-width="1"/>
<line x1="348.50" y1="372.2" x2="348.50" y2="511.1" stroke="#c8c8c8" stroke-width="1"/>
<line x1="396.50" y1="372.2" x2="396.50" y2="511.1" stroke="#c8c8c8" stroke-width="1"/>
<line x1="444.50" y1="372.2" x2="444.50" y2="511.1" stroke="#c8c8c8" stroke-width="1"/>
<line x1="492.50" y1="372.2" x2="492.50" y2="511.1" stroke="#c8c8c8" stroke-width="1"/>
<line x1="300.5" y1="511.50" x2="492.8" y2="511.50" stroke="#c8c8c8" stroke-width="1"/>
<line x1="300.5" y1="476.50" x2="492.8" y2="476.50" stroke="#c8c8c8" stroke-width="1"/>
<line x1="300.5" y1="441.50" x2="492.8" y2="441.50" stroke="#c8c8c8" stroke-width="1"/>
<line x1="300.5" y1="406.50" x2="492.8" y2="406.50" stroke="#c8c8c8" stroke-width="1"/>
<line x1="300.5" y1="372.50" x2="492.8" y2="372.50" stroke="#c8c8c8" stroke-width="1"/>
<rect x="300.5" y="372.2" width="192.30" height="138.90" fill="none" stroke="#404040" stroke-width="1.0"/>
<clipPath id="c6"><rect x="300.5" y="371.2" width="193.3" height="140.90000000000003"/></clipPath>
<g clip-path="url(#c6)" fill="none" stroke-linejoin="round" stroke-linecap="round">
<path d="M300.4,401.9 C300.7,402.9 301.4,406.2 302.0,407.8 C302.6,409.5 303.3,411.3 304.0,411.8 C304.6,412.3 305.1,411.5 306.0,410.8 C306.8,410.2 307.8,408.7 309.0,407.8 C310.1,407.0 311.6,406.3 312.9,405.9 C314.3,405.5 315.6,405.3 316.9,405.5 C318.3,405.6 319.6,406.3 320.9,406.9 C322.2,407.4 323.6,408.3 324.9,408.8 C326.2,409.3 327.5,409.5 328.9,409.8 C330.2,410.2 331.5,410.2 332.9,410.8 C334.2,411.5 335.7,412.3 336.8,413.8 C338.0,415.3 338.8,417.8 339.8,419.8 C340.8,421.8 341.8,424.4 342.8,425.8 C343.8,427.1 344.8,428.1 345.8,427.8 C346.8,427.4 347.8,425.4 348.8,423.8 C349.8,422.1 350.8,419.6 351.8,417.8 C352.8,416.0 353.8,414.0 354.8,412.8 C355.8,411.7 356.6,410.7 357.8,410.8 C358.9,411.0 360.4,412.0 361.7,413.8 C363.1,415.7 364.6,419.5 365.7,421.8 C366.9,424.1 367.7,426.4 368.7,427.8 C369.7,429.1 370.7,429.8 371.7,429.8 C372.7,429.8 373.7,428.6 374.7,427.8 C375.7,426.9 376.5,425.6 377.7,424.8 C378.8,424.0 380.3,423.3 381.7,422.8 C383.0,422.3 384.3,421.6 385.6,421.8 C387.0,422.0 388.3,423.6 389.6,423.8 C391.0,424.0 392.4,423.3 393.6,422.8 C394.8,422.3 395.8,420.8 397.0,420.8 C398.2,420.8 399.8,422.0 401.0,422.8 C402.1,423.6 403.0,424.9 404.0,425.8 C405.0,426.6 406.0,427.6 407.0,427.8 C407.9,427.9 408.9,427.4 409.9,426.8 C410.9,426.1 411.9,424.8 412.9,423.8 C413.9,422.8 414.9,421.6 415.9,420.8 C416.9,420.0 417.9,419.4 418.9,418.8 C419.9,418.2 420.9,417.7 421.9,417.4 C422.9,417.1 423.9,416.7 424.9,416.8 C425.9,416.9 426.9,417.8 427.9,417.8 C428.9,417.8 429.9,417.5 430.9,416.8 C431.9,416.1 432.8,414.6 433.8,413.8 C434.8,413.1 435.8,412.2 436.8,412.2 C437.8,412.2 438.8,413.0 439.8,413.8 C440.8,414.7 441.8,416.4 442.8,417.4 C443.8,418.4 444.8,419.2 445.8,419.8 C446.8,420.4 447.8,420.5 448.8,420.8 C449.8,421.1 450.8,421.2 451.8,421.4 C452.8,421.6 453.8,422.0 454.8,422.2 C455.8,422.4 456.8,422.8 457.7,422.8 C458.7,422.8 459.7,422.5 460.7,422.2 C461.7,421.9 462.7,420.9 463.7,420.8 C464.7,420.7 465.7,421.2 466.7,421.4 C467.7,421.6 468.7,422.3 469.7,422.2 C470.7,422.1 471.7,421.4 472.7,420.8 C473.7,420.2 474.7,419.3 475.7,418.8 C476.7,418.3 477.7,418.1 478.7,417.8 C479.7,417.5 481.0,415.5 481.7,416.8 C482.3,418.1 482.4,425.9 482.6,425.8 C482.9,425.6 483.3,417.5 483.4,415.8" stroke="#56B4E9" stroke-width="1.35"/>
<path d="M301.0,429.8 C301.3,427.8 302.2,421.1 303.0,417.8 C303.8,414.5 305.0,411.7 306.0,409.8 C307.0,408.0 308.0,407.5 309.0,406.9 C310.0,406.2 310.9,405.7 311.9,405.9 C312.9,406.0 313.9,406.9 314.9,407.8 C315.9,408.8 316.8,411.0 317.9,411.8 C319.1,412.7 320.6,412.8 321.9,412.8 C323.2,412.8 324.6,412.2 325.9,411.8 C327.2,411.5 328.5,410.7 329.9,410.8 C331.2,411.0 332.5,412.0 333.9,412.8 C335.2,413.7 336.5,415.0 337.8,415.8 C339.2,416.6 340.5,417.5 341.8,417.8 C343.2,418.1 344.5,417.8 345.8,417.4 C347.1,417.0 348.5,416.2 349.8,415.4 C351.1,414.7 352.4,413.8 353.8,412.8 C355.1,411.9 356.4,410.6 357.8,409.8 C359.1,409.1 360.4,408.2 361.7,408.2 C363.1,408.2 364.4,408.9 365.7,409.8 C367.1,410.8 368.4,412.2 369.7,413.8 C371.0,415.5 372.4,419.1 373.7,419.8 C375.0,420.5 376.4,419.0 377.7,417.8 C379.0,416.6 380.3,413.8 381.7,412.8 C383.0,411.8 384.3,411.5 385.6,411.8 C387.0,412.2 388.3,414.0 389.6,414.8 C391.0,415.7 392.4,417.1 393.6,416.8 C394.8,416.5 395.8,414.2 397.0,412.8 C398.2,411.5 399.8,409.8 401.0,408.8 C402.1,407.8 403.0,407.2 404.0,406.9 C405.0,406.5 406.0,406.5 407.0,406.9 C407.9,407.2 408.9,407.8 409.9,408.8 C410.9,409.8 411.9,411.3 412.9,412.8 C413.9,414.3 414.9,416.1 415.9,417.8 C416.9,419.5 417.9,421.5 418.9,422.8 C419.9,424.1 420.9,425.1 421.9,425.8 C422.9,426.4 423.9,427.1 424.9,426.8 C425.9,426.4 426.9,425.1 427.9,423.8 C428.9,422.5 429.9,420.5 430.9,418.8 C431.9,417.1 432.8,415.0 433.8,413.8 C434.8,412.7 435.8,412.0 436.8,411.8 C437.8,411.7 438.8,411.8 439.8,412.8 C440.8,413.8 441.8,416.1 442.8,417.8 C443.8,419.5 444.8,421.5 445.8,422.8 C446.8,424.1 447.8,425.6 448.8,425.8 C449.8,425.9 450.8,424.6 451.8,423.8 C452.8,423.0 453.8,421.6 454.8,420.8 C455.8,420.0 456.8,419.3 457.7,418.8 C458.7,418.3 459.7,418.1 460.7,417.8 C461.7,417.5 462.7,417.1 463.7,416.8 C464.7,416.5 465.7,416.0 466.7,415.8 C467.7,415.6 468.7,415.3 469.7,415.4 C470.7,415.6 471.9,415.9 472.7,416.8 C473.5,417.7 474.0,419.8 474.7,420.8 C475.3,421.8 476.0,423.0 476.7,422.8 C477.3,422.6 478.0,420.6 478.7,419.8 C479.3,419.0 480.1,416.1 480.7,417.8 C481.2,419.5 481.5,430.1 481.9,429.8 C482.2,429.4 482.5,418.1 482.6,415.8" stroke="#009E73" stroke-width="1.35"/>
<path d="M300.4,405.9 C300.8,406.2 302.1,407.0 303.0,407.8 C303.9,408.7 304.8,409.7 306.0,410.8 C307.1,412.0 308.6,413.7 310.0,414.8 C311.3,416.0 312.6,417.0 313.9,417.8 C315.3,418.6 316.6,419.2 317.9,419.4 C319.2,419.6 320.6,419.1 321.9,418.8 C323.2,418.5 324.6,417.8 325.9,417.4 C327.2,417.0 328.5,416.3 329.9,416.2 C331.2,416.1 332.5,416.4 333.9,416.8 C335.2,417.2 336.5,418.3 337.8,418.8 C339.2,419.3 340.5,420.1 341.8,419.8 C343.2,419.5 344.6,418.0 345.8,416.8 C347.0,415.7 347.8,414.2 348.8,412.8 C349.8,411.5 350.8,410.0 351.8,408.8 C352.8,407.7 353.8,406.4 354.8,405.9 C355.8,405.3 356.8,405.1 357.8,405.5 C358.8,405.8 359.8,406.5 360.7,407.8 C361.7,409.2 362.7,411.5 363.7,413.8 C364.7,416.1 365.7,419.5 366.7,421.8 C367.7,424.1 368.7,426.4 369.7,427.8 C370.7,429.1 371.7,430.1 372.7,429.8 C373.7,429.4 374.5,427.3 375.7,425.8 C376.9,424.3 378.3,422.2 379.7,420.8 C381.0,419.4 382.3,417.9 383.7,417.4 C385.0,416.9 386.3,417.2 387.6,417.8 C389.0,418.4 390.3,419.8 391.6,420.8 C393.0,421.8 394.7,423.0 395.6,423.8 C396.5,424.6 396.1,425.6 397.0,425.8 C397.9,425.9 399.8,425.3 401.0,424.8 C402.1,424.3 403.0,423.6 404.0,422.8 C405.0,422.0 405.8,421.5 407.0,419.8 C408.1,418.1 409.6,415.0 410.9,412.8 C412.3,410.7 413.8,408.3 414.9,406.9 C416.1,405.4 416.9,404.4 417.9,404.3 C418.9,404.1 419.9,404.6 420.9,405.9 C421.9,407.1 422.9,409.5 423.9,411.8 C424.9,414.2 425.9,417.1 426.9,419.8 C427.9,422.5 428.9,425.8 429.9,427.8 C430.9,429.8 431.9,431.4 432.8,431.8 C433.8,432.1 434.8,431.1 435.8,429.8 C436.8,428.4 437.8,425.9 438.8,423.8 C439.8,421.6 441.0,418.6 441.8,416.8 C442.6,415.0 443.1,413.3 443.8,412.8 C444.5,412.3 445.0,413.2 445.8,413.8 C446.6,414.5 447.8,416.1 448.8,416.8 C449.8,417.5 450.8,417.7 451.8,417.8 C452.8,417.9 453.8,417.1 454.8,417.4 C455.8,417.7 456.8,418.7 457.7,419.8 C458.7,420.9 459.7,422.5 460.7,423.8 C461.7,425.1 462.7,426.8 463.7,427.8 C464.7,428.8 465.7,429.9 466.7,429.8 C467.7,429.6 468.7,427.8 469.7,426.8 C470.7,425.8 471.9,424.6 472.7,423.8 C473.5,423.0 474.0,422.3 474.7,421.8 C475.3,421.3 475.8,420.8 476.7,420.8 C477.5,420.8 478.9,420.3 479.7,421.8 C480.5,423.3 481.0,431.8 481.5,429.8 C481.9,427.8 482.0,410.5 482.3,409.8 C482.5,409.2 482.9,423.1 483.0,425.8" stroke="#E69F00" stroke-width="1.35"/>
<path d="M300.4,427.8 C300.8,428.1 302.1,430.1 303.0,429.8 C303.9,429.4 304.8,427.3 306.0,425.8 C307.1,424.3 308.6,422.3 310.0,420.8 C311.3,419.3 312.6,417.9 313.9,416.8 C315.3,415.7 316.6,414.7 317.9,414.2 C319.2,413.7 320.6,413.8 321.9,413.8 C323.2,413.8 324.6,414.1 325.9,414.2 C327.2,414.4 328.5,414.6 329.9,414.8 C331.2,415.0 332.5,415.3 333.9,415.4 C335.2,415.6 336.5,415.8 337.8,415.8 C339.2,415.9 340.5,415.9 341.8,415.8 C343.2,415.8 344.5,415.6 345.8,415.4 C347.1,415.3 348.5,415.0 349.8,414.8 C351.1,414.6 352.4,414.4 353.8,414.2 C355.1,414.1 356.4,414.1 357.8,413.8 C359.1,413.6 360.4,413.3 361.7,412.8 C363.1,412.3 364.4,411.4 365.7,410.8 C367.1,410.3 368.4,409.8 369.7,409.4 C371.0,409.1 372.4,408.6 373.7,408.8 C375.0,409.1 376.4,409.8 377.7,410.8 C379.0,411.8 380.3,413.3 381.7,414.8 C383.0,416.3 384.3,418.4 385.6,419.8 C387.0,421.2 388.3,422.2 389.6,423.4 C391.0,424.5 392.4,426.8 393.6,426.8 C394.8,426.8 396.1,424.2 397.0,423.4 C397.9,422.6 398.0,422.5 399.0,421.8 C400.0,421.1 401.6,420.2 403.0,419.4 C404.3,418.6 405.6,417.6 407.0,416.8 C408.3,416.0 409.6,415.0 410.9,414.8 C412.3,414.7 413.6,415.0 414.9,415.8 C416.2,416.6 417.6,418.5 418.9,419.8 C420.2,421.1 421.6,422.6 422.9,423.4 C424.2,424.2 425.5,424.7 426.9,424.8 C428.2,424.8 429.5,424.3 430.9,423.8 C432.2,423.3 433.5,422.6 434.8,421.8 C436.2,421.0 437.5,419.7 438.8,418.8 C440.2,417.9 441.5,416.9 442.8,416.2 C444.1,415.6 445.5,414.6 446.8,414.8 C448.1,415.1 449.4,416.5 450.8,417.8 C452.1,419.1 453.6,421.1 454.8,422.8 C455.9,424.4 456.8,426.4 457.7,427.8 C458.7,429.1 459.7,430.4 460.7,430.8 C461.7,431.1 462.7,430.6 463.7,429.8 C464.7,428.9 465.7,426.9 466.7,425.8 C467.7,424.6 468.7,423.5 469.7,422.8 C470.7,422.1 471.7,421.8 472.7,421.8 C473.7,421.8 474.7,422.5 475.7,422.8 C476.7,423.1 477.7,423.5 478.7,423.8 C479.7,424.1 481.2,424.6 481.7,424.8" stroke="#000000" stroke-width="1.35"/>
<path d="M301.0,438.9 C301.3,438.2 302.2,435.8 303.0,434.9 C303.8,434.1 305.0,433.4 306.0,433.9 C307.0,434.4 308.0,436.4 309.0,437.9 C310.0,439.4 310.9,441.7 311.9,442.9 C312.9,444.1 313.9,444.6 314.9,444.9 C315.9,445.1 316.9,445.1 317.9,444.5 C318.9,443.8 319.9,442.3 320.9,440.9 C321.9,439.5 322.9,437.6 323.9,435.9 C324.9,434.3 325.9,432.4 326.9,430.9 C327.9,429.4 328.9,427.7 329.9,427.0 C330.9,426.2 331.9,426.1 332.9,426.6 C333.9,427.1 334.9,428.5 335.8,429.9 C336.8,431.3 337.8,433.1 338.8,434.9 C339.8,436.7 340.8,439.1 341.8,440.9 C342.8,442.7 343.8,444.7 344.8,445.9 C345.8,447.0 346.8,448.2 347.8,447.9 C348.8,447.5 349.8,445.7 350.8,443.9 C351.8,442.1 352.8,439.2 353.8,436.9 C354.8,434.6 355.8,432.1 356.8,429.9 C357.8,427.8 358.9,425.5 359.8,424.0 C360.6,422.5 361.1,421.3 361.7,421.0 C362.4,420.6 363.1,421.1 363.7,422.0 C364.4,422.8 365.1,424.5 365.7,426.0 C366.4,427.5 367.1,429.1 367.7,430.9 C368.4,432.8 368.9,434.6 369.7,436.9 C370.5,439.2 371.7,442.6 372.7,444.9 C373.7,447.2 374.7,449.2 375.7,450.9 C376.7,452.5 377.7,454.2 378.7,454.8 C379.7,455.5 380.7,455.3 381.7,454.8 C382.7,454.3 383.7,453.2 384.7,451.9 C385.6,450.5 386.6,448.7 387.6,446.9 C388.6,445.0 389.6,442.9 390.6,440.9 C391.6,438.9 392.6,436.6 393.6,434.9 C394.6,433.3 395.7,430.9 396.6,430.9 C397.5,430.9 397.9,433.4 399.0,434.9 C400.0,436.4 401.6,438.4 403.0,439.9 C404.3,441.4 405.6,442.7 407.0,443.9 C408.3,445.0 409.6,446.5 410.9,446.9 C412.3,447.2 413.6,446.5 414.9,445.9 C416.2,445.2 417.6,443.9 418.9,442.9 C420.2,441.9 421.6,440.9 422.9,439.9 C424.2,438.9 425.5,437.6 426.9,436.9 C428.2,436.2 429.5,436.2 430.9,435.9 C432.2,435.6 433.5,435.3 434.8,434.9 C436.2,434.6 437.5,434.4 438.8,433.9 C440.2,433.4 441.5,432.4 442.8,431.9 C444.1,431.4 445.5,430.9 446.8,430.9 C448.1,430.9 449.4,432.1 450.8,431.9 C452.1,431.8 453.4,430.9 454.8,429.9 C456.1,428.9 457.4,427.1 458.7,426.0 C460.1,424.8 461.4,423.8 462.7,423.0 C464.1,422.1 465.4,421.0 466.7,421.0 C468.0,421.0 469.4,422.0 470.7,423.0 C472.0,424.0 473.7,425.0 474.7,427.0 C475.7,428.9 476.2,432.6 476.7,434.9 C477.2,437.2 477.3,441.6 477.7,440.9 C478.0,440.2 478.5,432.6 478.7,430.9" stroke="#E69F00" stroke-width="1.35"/>
<path d="M301.0,443.9 C301.3,443.1 302.2,440.2 303.0,438.9 C303.8,437.6 305.0,436.7 306.0,435.9 C307.0,435.1 308.0,434.5 309.0,433.9 C310.0,433.4 310.9,432.7 311.9,432.5 C312.9,432.4 313.9,432.5 314.9,432.9 C315.9,433.3 316.9,434.1 317.9,434.9 C318.9,435.8 319.9,437.1 320.9,437.9 C321.9,438.7 322.7,439.7 323.9,439.9 C325.1,440.1 326.6,439.6 327.9,438.9 C329.2,438.2 330.5,436.9 331.9,435.9 C333.2,434.9 334.7,433.8 335.8,432.9 C337.0,432.1 337.8,430.9 338.8,430.9 C339.8,430.9 340.8,431.8 341.8,432.9 C342.8,434.1 343.8,436.2 344.8,437.9 C345.8,439.6 346.8,442.2 347.8,442.9 C348.8,443.6 349.8,442.7 350.8,441.9 C351.8,441.1 352.8,439.1 353.8,437.9 C354.8,436.7 355.8,435.5 356.8,434.9 C357.8,434.4 358.8,434.3 359.8,434.5 C360.7,434.8 361.7,435.6 362.7,436.5 C363.7,437.4 364.7,439.2 365.7,439.9 C366.7,440.6 367.7,441.2 368.7,440.9 C369.7,440.6 370.7,439.1 371.7,437.9 C372.7,436.7 373.7,435.1 374.7,433.9 C375.7,432.8 376.5,431.8 377.7,430.9 C378.8,430.1 380.3,429.2 381.7,428.9 C383.0,428.7 384.3,428.8 385.6,429.3 C387.0,429.8 388.3,431.0 389.6,431.9 C391.0,432.9 392.2,434.1 393.6,434.9 C395.0,435.8 397.1,435.6 398.0,436.9 C398.9,438.2 398.2,441.6 399.0,442.9 C399.8,444.2 401.6,444.5 403.0,444.9 C404.3,445.2 405.6,445.0 407.0,444.9 C408.3,444.7 409.6,444.2 410.9,443.9 C412.3,443.6 413.6,443.2 414.9,442.9 C416.2,442.6 417.6,442.4 418.9,441.9 C420.2,441.4 421.6,440.6 422.9,439.9 C424.2,439.2 425.5,438.6 426.9,437.9 C428.2,437.2 429.5,436.5 430.9,435.9 C432.2,435.4 433.5,434.9 434.8,434.5 C436.2,434.2 437.5,434.0 438.8,433.9 C440.2,433.8 441.5,433.8 442.8,433.9 C444.1,434.1 445.5,434.5 446.8,434.9 C448.1,435.4 449.4,436.0 450.8,436.5 C452.1,437.0 453.4,437.5 454.8,437.9 C456.1,438.3 457.4,438.8 458.7,438.9 C460.1,439.0 461.4,438.8 462.7,438.5 C464.1,438.2 465.4,437.5 466.7,436.9 C468.0,436.3 469.4,435.6 470.7,434.9 C472.0,434.3 473.4,433.6 474.7,432.9 C476.0,432.3 477.5,431.4 478.7,430.9 C479.8,430.4 481.0,431.9 481.7,429.9 C482.3,427.9 482.5,420.8 482.6,419.0" stroke="#56B4E9" stroke-width="1.35"/>
<path d="M301.0,440.9 C301.5,440.6 302.8,439.7 304.0,438.9 C305.1,438.1 306.6,436.7 308.0,435.9 C309.3,435.1 310.6,434.1 311.9,433.9 C313.3,433.8 314.6,434.3 315.9,434.9 C317.3,435.6 318.6,436.7 319.9,437.9 C321.2,439.1 322.6,440.6 323.9,441.9 C325.2,443.2 326.7,445.4 327.9,445.9 C329.0,446.4 329.9,445.9 330.9,444.9 C331.9,443.9 332.9,441.7 333.9,439.9 C334.9,438.1 335.8,435.6 336.8,433.9 C337.8,432.3 338.8,430.8 339.8,429.9 C340.8,429.1 341.8,428.6 342.8,428.9 C343.8,429.3 344.8,430.6 345.8,431.9 C346.8,433.3 347.8,435.3 348.8,436.9 C349.8,438.6 350.8,440.4 351.8,441.9 C352.8,443.4 353.8,445.2 354.8,445.9 C355.8,446.5 356.8,446.4 357.8,445.9 C358.8,445.4 359.8,444.1 360.7,442.9 C361.7,441.7 362.7,440.2 363.7,438.9 C364.7,437.6 365.7,435.9 366.7,434.9 C367.7,433.9 368.7,433.1 369.7,432.9 C370.7,432.8 371.7,433.4 372.7,433.9 C373.7,434.4 374.7,435.8 375.7,435.9 C376.7,436.1 377.7,435.6 378.7,434.9 C379.7,434.3 380.5,432.9 381.7,431.9 C382.8,430.9 384.3,429.3 385.6,428.9 C387.0,428.6 388.3,429.1 389.6,429.9 C391.0,430.8 392.2,432.6 393.6,433.9 C395.0,435.3 396.8,436.6 398.0,437.9 C399.2,439.2 400.0,441.6 401.0,441.9 C402.0,442.2 403.0,440.7 404.0,439.9 C405.0,439.1 405.8,437.9 407.0,436.9 C408.1,435.9 409.6,434.9 410.9,433.9 C412.3,432.9 413.6,432.1 414.9,430.9 C416.2,429.8 417.6,428.1 418.9,427.0 C420.2,425.8 421.6,424.3 422.9,424.0 C424.2,423.6 425.5,424.1 426.9,425.0 C428.2,425.8 429.5,427.6 430.9,428.9 C432.2,430.3 433.5,432.1 434.8,432.9 C436.2,433.8 437.5,433.4 438.8,433.9 C440.2,434.4 441.6,434.9 442.8,435.9 C444.0,436.9 444.8,438.9 445.8,439.9 C446.8,440.9 447.8,441.7 448.8,441.9 C449.8,442.1 450.8,441.7 451.8,440.9 C452.8,440.1 453.8,438.4 454.8,436.9 C455.8,435.4 456.8,433.4 457.7,431.9 C458.7,430.4 459.7,428.9 460.7,427.9 C461.7,427.0 462.7,425.8 463.7,426.0 C464.7,426.1 465.7,427.1 466.7,428.9 C467.7,430.8 468.7,433.8 469.7,436.9 C470.7,440.1 471.9,445.2 472.7,447.9 C473.5,450.5 474.0,452.4 474.7,452.8 C475.3,453.3 476.0,452.2 476.7,450.9 C477.3,449.5 478.0,446.5 478.7,444.9 C479.3,443.2 480.1,443.9 480.7,440.9 C481.2,437.9 481.6,424.3 481.9,427.0 C482.1,429.6 482.1,456.2 482.3,456.8 C482.4,457.5 482.7,435.3 482.8,430.9" stroke="#000000" stroke-width="1.35"/>
<path d="M301.0,439.9 C301.5,440.2 302.8,441.4 304.0,441.9 C305.1,442.4 306.6,442.9 308.0,442.9 C309.3,442.9 310.6,442.2 311.9,441.9 C313.3,441.6 314.6,441.2 315.9,440.9 C317.3,440.6 318.6,439.9 319.9,439.9 C321.2,439.9 322.6,440.4 323.9,440.9 C325.2,441.4 326.6,442.6 327.9,442.9 C329.2,443.2 330.5,443.2 331.9,442.9 C333.2,442.6 334.5,441.8 335.8,441.3 C337.2,440.8 338.5,440.1 339.8,439.9 C341.2,439.7 342.5,439.6 343.8,439.9 C345.1,440.2 346.5,441.2 347.8,441.9 C349.1,442.6 350.5,443.6 351.8,443.9 C353.1,444.2 354.4,444.1 355.8,443.9 C357.1,443.7 358.4,443.0 359.8,442.5 C361.1,442.0 362.4,441.3 363.7,440.9 C365.1,440.5 366.4,439.9 367.7,439.9 C369.0,439.9 370.4,440.2 371.7,440.9 C373.0,441.6 374.4,443.0 375.7,443.9 C377.0,444.8 378.3,446.0 379.7,446.5 C381.0,447.0 382.3,447.1 383.7,446.9 C385.0,446.6 386.3,445.5 387.6,444.9 C389.0,444.2 390.3,443.4 391.6,442.9 C393.0,442.4 394.4,442.9 395.6,441.9 C396.8,440.9 397.8,438.2 399.0,436.9 C400.2,435.6 401.6,434.9 403.0,433.9 C404.3,432.9 405.6,431.6 407.0,430.9 C408.3,430.3 409.6,429.9 410.9,429.9 C412.3,429.9 413.6,430.1 414.9,430.9 C416.2,431.8 417.6,433.3 418.9,434.9 C420.2,436.6 421.7,439.1 422.9,440.9 C424.1,442.7 424.9,444.9 425.9,445.9 C426.9,446.9 427.9,447.0 428.9,446.9 C429.9,446.7 430.9,446.0 431.9,444.9 C432.8,443.7 433.8,441.6 434.8,439.9 C435.8,438.2 436.8,436.4 437.8,434.9 C438.8,433.4 439.8,432.3 440.8,430.9 C441.8,429.6 442.8,428.1 443.8,427.0 C444.8,425.8 445.8,424.1 446.8,424.0 C447.8,423.8 448.8,424.8 449.8,426.0 C450.8,427.1 451.8,429.1 452.8,430.9 C453.8,432.8 454.8,435.1 455.8,436.9 C456.8,438.7 457.6,440.2 458.7,441.9 C459.9,443.6 461.4,445.4 462.7,446.9 C464.1,448.4 465.6,449.9 466.7,450.9 C467.9,451.8 468.7,452.5 469.7,452.5 C470.7,452.5 471.7,451.6 472.7,450.9 C473.7,450.1 474.7,448.9 475.7,447.9 C476.7,446.9 477.7,445.9 478.7,444.9 C479.7,443.9 481.0,444.9 481.7,441.9 C482.3,438.9 482.4,426.8 482.6,427.0 C482.9,427.1 483.3,440.2 483.4,442.9" stroke="#009E73" stroke-width="1.35"/>
<path d="M300.6,372.0 L300.6,511.0" stroke="#009E73" stroke-width="1.2"/>
<path d="M482.3,387.0 L482.3,457.0" stroke="#000000" stroke-width="1.2"/>
<path d="M477.0,425.0 C477.2,427.5 477.7,441.2 478.0,440.0 C478.3,438.8 478.7,417.3 479.0,418.0 C479.3,418.7 479.7,443.7 480.0,444.0 C480.3,444.3 480.7,419.7 481.0,420.0 C481.3,420.3 481.7,446.7 482.0,446.0 C482.3,445.3 482.7,417.0 483.0,416.0 C483.3,415.0 483.7,439.0 484.0,440.0 C484.3,441.0 484.7,422.7 485.0,422.0 C485.3,421.3 485.8,433.7 486.0,436.0" stroke="#009E73" stroke-width="1.3"/>
<path d="M478.0,420.0 C478.2,422.7 478.7,436.7 479.0,436.0 C479.3,435.3 479.7,415.7 480.0,416.0 C480.3,416.3 480.7,438.3 481.0,438.0 C481.3,437.7 481.7,414.7 482.0,414.0 C482.3,413.3 482.7,433.3 483.0,434.0 C483.3,434.7 483.7,418.7 484.0,418.0 C484.3,417.3 484.8,428.0 485.0,430.0" stroke="#56B4E9" stroke-width="1.2"/>
<path d="M477.0,420.0 C477.2,422.0 477.7,432.3 478.0,432.0 C478.3,431.7 478.7,416.7 479.0,418.0 C479.3,419.3 479.7,439.3 480.0,440.0 C480.3,440.7 480.7,422.7 481.0,422.0 C481.3,421.3 481.8,433.7 482.0,436.0" stroke="#E69F00" stroke-width="1.1"/>
<path d="M483.0,420.0 C483.2,422.0 483.7,432.3 484.0,432.0 C484.3,431.7 484.7,418.3 485.0,418.0 C485.3,417.7 485.8,428.0 486.0,430.0" stroke="#000000" stroke-width="1.6"/>
</g>
<text class="t" x="300.50" y="523.30" font-size="11" text-anchor="middle">0</text>
<text class="t" x="348.57" y="523.30" font-size="11" text-anchor="middle">2</text>
<text class="t" x="396.65" y="523.30" font-size="11" text-anchor="middle">4</text>
<text class="t" x="444.73" y="523.30" font-size="11" text-anchor="middle">6</text>
<text class="t" x="492.80" y="523.30" font-size="11" text-anchor="middle">8</text>
<text class="t" x="296.80" y="514.80" font-size="11" text-anchor="end">1</text>
<line x1="282.80" y1="511.50" x2="290.80" y2="511.50" stroke="#262626" stroke-width="0.75"/>
<text class="t" x="296.80" y="480.07" font-size="11" text-anchor="end">0.5</text>
<line x1="274.55" y1="476.77" x2="282.55" y2="476.77" stroke="#262626" stroke-width="0.75"/>
<text class="t" x="296.80" y="445.35" font-size="11" text-anchor="end">0</text>
<text class="t" x="296.80" y="410.62" font-size="11" text-anchor="end">0.5</text>
<text class="t" x="296.80" y="375.90" font-size="11" text-anchor="end">1</text>
<text x="357.65" y="537.70" font-size="10.5" font-style="italic" textLength="5.6" lengthAdjust="spacingAndGlyphs">&#7819;</text>
<text x="363.35" y="540.00" font-size="7.6" textLength="11.2" lengthAdjust="spacingAndGlyphs">Ref</text>
<text x="375.55" y="537.70" font-size="10.5" textLength="4.8" lengthAdjust="spacingAndGlyphs">/</text>
<text x="381.35" y="537.70" font-size="10.5" textLength="11.0" lengthAdjust="spacingAndGlyphs">10</text>
<text x="394.85" y="537.70" font-size="10.5" textLength="9.6" lengthAdjust="spacingAndGlyphs">in</text>
<text x="407.55" y="537.70" font-size="10.5" textLength="29.4" lengthAdjust="spacingAndGlyphs">km/h</text>
<g transform="translate(265.4,467.55) rotate(-90)"><text x="-0.2" y="0" font-size="10.5" font-style="italic" textLength="5.8" lengthAdjust="spacingAndGlyphs">&#1013;</text><text x="6.4" y="2.4" font-size="8.2" textLength="16.2" lengthAdjust="spacingAndGlyphs">Sim2</text><text x="26.4" y="0" font-size="10.5" textLength="8.6" lengthAdjust="spacingAndGlyphs">in</text><text x="38.3" y="0" font-size="10.5" textLength="14.0" lengthAdjust="spacingAndGlyphs">cm</text></g>
</svg></body></html>
